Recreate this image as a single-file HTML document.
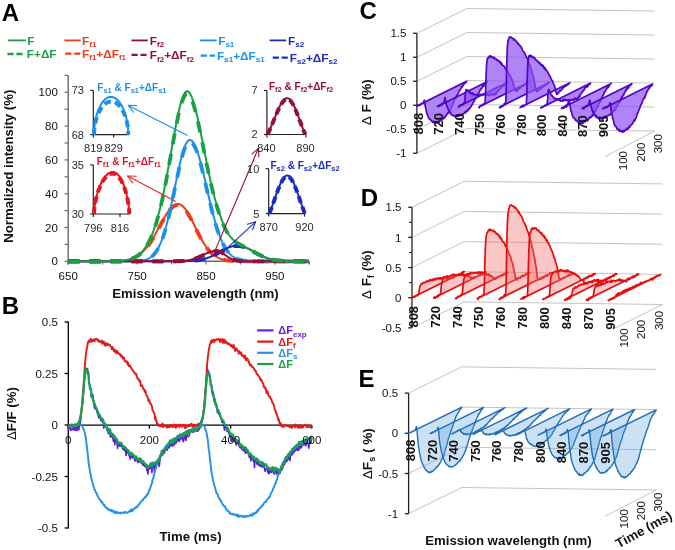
<!DOCTYPE html>
<html><head><meta charset="utf-8"><style>
html,body{margin:0;padding:0;background:#fff;}
svg{display:block;will-change:transform;font-family:"Liberation Sans", sans-serif;}
</style></head><body>
<svg width="675" height="550" viewBox="0 0 675 550">
<rect width="675" height="550" fill="#fff"/>
<text transform="translate(1.7,20.7)" font-size="24" font-weight="bold">A</text>
<line x1="8" y1="40.4" x2="26" y2="40.4" stroke="#17a046" stroke-width="1.8" />
<text x="27.2" y="44.7" font-size="11.8" font-weight="bold" fill="#17a046" text-anchor="start" >F</text>
<line x1="7.4" y1="54" x2="24" y2="54" stroke="#17a046" stroke-width="2.3" stroke-dasharray="6.2 2.8"/>
<text x="26.8" y="58.3" font-size="11.8" font-weight="bold" fill="#17a046" text-anchor="start" >F+ΔF</text>
<line x1="64.4" y1="40.4" x2="80.7" y2="40.4" stroke="#f03a18" stroke-width="1.8" />
<text x="82" y="44.7" font-size="11.8" font-weight="bold" fill="#f03a18" text-anchor="start" >F<tspan font-size="8" dy="2.5">f1</tspan></text>
<line x1="65.2" y1="53.6" x2="80.2" y2="53.6" stroke="#f03a18" stroke-width="2.3" stroke-dasharray="6.2 2.8"/>
<text x="82" y="57.9" font-size="11.8" font-weight="bold" fill="#f03a18" text-anchor="start" >F<tspan font-size="8" dy="2.5">f1</tspan><tspan dy="-2.5">+ΔF</tspan><tspan font-size="8" dy="2.5">f1</tspan></text>
<line x1="131.5" y1="40.4" x2="147.8" y2="40.4" stroke="#940e3a" stroke-width="1.8" />
<text x="149.8" y="44.7" font-size="11.8" font-weight="bold" fill="#940e3a" text-anchor="start" >F<tspan font-size="8" dy="2.5">f2</tspan></text>
<line x1="131.5" y1="54.9" x2="146.5" y2="54.9" stroke="#940e3a" stroke-width="2.3" stroke-dasharray="6.2 2.8"/>
<text x="149.8" y="59.2" font-size="11.8" font-weight="bold" fill="#940e3a" text-anchor="start" >F<tspan font-size="8" dy="2.5">f2</tspan><tspan dy="-2.5">+ΔF</tspan><tspan font-size="8" dy="2.5">f2</tspan></text>
<line x1="200" y1="40.4" x2="216.7" y2="40.4" stroke="#1a90ee" stroke-width="1.8" />
<text x="218.2" y="44.7" font-size="11.8" font-weight="bold" fill="#1a90ee" text-anchor="start" >F<tspan font-size="8" dy="2.5">s1</tspan></text>
<line x1="200.7" y1="55.6" x2="215" y2="55.6" stroke="#1a90ee" stroke-width="2.3" stroke-dasharray="6.2 2.8"/>
<text x="217" y="59.9" font-size="11.8" font-weight="bold" fill="#1a90ee" text-anchor="start" >F<tspan font-size="8" dy="2.5">s1</tspan><tspan dy="-2.5">+ΔF</tspan><tspan font-size="8" dy="2.5">s1</tspan></text>
<line x1="269.6" y1="40.4" x2="286" y2="40.4" stroke="#1c2cc0" stroke-width="1.8" />
<text x="288" y="44.7" font-size="11.8" font-weight="bold" fill="#1c2cc0" text-anchor="start" >F<tspan font-size="8" dy="2.5">s2</tspan></text>
<line x1="272.7" y1="57.6" x2="287.8" y2="57.6" stroke="#1c2cc0" stroke-width="2.3" stroke-dasharray="6.2 2.8"/>
<text x="289.8" y="61.9" font-size="11.8" font-weight="bold" fill="#1c2cc0" text-anchor="start" >F<tspan font-size="8" dy="2.5">s2</tspan><tspan dy="-2.5">+ΔF</tspan><tspan font-size="8" dy="2.5">s2</tspan></text>
<line x1="68.2" y1="75.5" x2="68.2" y2="264.5" stroke="#6a6a6a" stroke-width="1.4" />
<line x1="68.2" y1="261.3" x2="309.3" y2="261.3" stroke="#6a6a6a" stroke-width="1.4" />
<line x1="64.6" y1="261.3" x2="68.2" y2="261.3" stroke="#6a6a6a" stroke-width="1.2" />
<line x1="64.6" y1="244.4" x2="68.2" y2="244.4" stroke="#6a6a6a" stroke-width="1.2" />
<line x1="64.6" y1="227.5" x2="68.2" y2="227.5" stroke="#6a6a6a" stroke-width="1.2" />
<line x1="64.6" y1="210.6" x2="68.2" y2="210.6" stroke="#6a6a6a" stroke-width="1.2" />
<line x1="64.6" y1="193.7" x2="68.2" y2="193.7" stroke="#6a6a6a" stroke-width="1.2" />
<line x1="64.6" y1="176.8" x2="68.2" y2="176.8" stroke="#6a6a6a" stroke-width="1.2" />
<line x1="64.6" y1="159.9" x2="68.2" y2="159.9" stroke="#6a6a6a" stroke-width="1.2" />
<line x1="64.6" y1="143" x2="68.2" y2="143" stroke="#6a6a6a" stroke-width="1.2" />
<line x1="64.6" y1="126.1" x2="68.2" y2="126.1" stroke="#6a6a6a" stroke-width="1.2" />
<line x1="64.6" y1="109.2" x2="68.2" y2="109.2" stroke="#6a6a6a" stroke-width="1.2" />
<line x1="64.6" y1="92.3" x2="68.2" y2="92.3" stroke="#6a6a6a" stroke-width="1.2" />
<line x1="64.6" y1="75.4" x2="68.2" y2="75.4" stroke="#6a6a6a" stroke-width="1.2" />
<line x1="68.2" y1="261.3" x2="68.2" y2="264.5" stroke="#6a6a6a" stroke-width="1.2" />
<line x1="102.65" y1="261.3" x2="102.65" y2="264.5" stroke="#6a6a6a" stroke-width="1.2" />
<line x1="137.1" y1="261.3" x2="137.1" y2="264.5" stroke="#6a6a6a" stroke-width="1.2" />
<line x1="171.55" y1="261.3" x2="171.55" y2="264.5" stroke="#6a6a6a" stroke-width="1.2" />
<line x1="206" y1="261.3" x2="206" y2="264.5" stroke="#6a6a6a" stroke-width="1.2" />
<line x1="240.45" y1="261.3" x2="240.45" y2="264.5" stroke="#6a6a6a" stroke-width="1.2" />
<line x1="274.9" y1="261.3" x2="274.9" y2="264.5" stroke="#6a6a6a" stroke-width="1.2" />
<line x1="309.35" y1="261.3" x2="309.35" y2="264.5" stroke="#6a6a6a" stroke-width="1.2" />
<text x="57.8" y="265.4" font-size="11.5" font-weight="normal" fill="#111" text-anchor="end" >0</text>
<text x="57.8" y="231.6" font-size="11.5" font-weight="normal" fill="#111" text-anchor="end" >20</text>
<text x="57.8" y="197.8" font-size="11.5" font-weight="normal" fill="#111" text-anchor="end" >40</text>
<text x="57.8" y="164" font-size="11.5" font-weight="normal" fill="#111" text-anchor="end" >60</text>
<text x="57.8" y="130.2" font-size="11.5" font-weight="normal" fill="#111" text-anchor="end" >80</text>
<text x="57.8" y="96.4" font-size="11.5" font-weight="normal" fill="#111" text-anchor="end" >100</text>
<text x="68.2" y="279.6" font-size="11.5" font-weight="normal" fill="#111" text-anchor="middle" >650</text>
<text x="137.1" y="279.6" font-size="11.5" font-weight="normal" fill="#111" text-anchor="middle" >750</text>
<text x="206" y="279.6" font-size="11.5" font-weight="normal" fill="#111" text-anchor="middle" >850</text>
<text x="274.9" y="279.6" font-size="11.5" font-weight="normal" fill="#111" text-anchor="middle" >950</text>
<text x="195.5" y="297.5" font-size="13.2" font-weight="bold" fill="#111" text-anchor="middle" >Emission wavelength (nm)</text>
<text transform="translate(13.4,166.2) rotate(-90)" font-size="13.2" font-weight="bold" fill="#111" text-anchor="middle">Normalized intensity (%)</text>
<path d="M68.5 261.3 L69 261.3 L69.5 261.3 L70 261.3 L70.5 261.3 L71 261.3 L71.5 261.3 L72 261.3 L72.5 261.3 L73 261.3 L73.5 261.3 L74 261.3 L74.5 261.3 L75 261.3 L75.5 261.3 L76 261.3 L76.5 261.3 L77 261.3 L77.5 261.3 L78 261.3 L78.5 261.3 L79 261.3 L79.5 261.3 L80 261.3 L80.5 261.3 L81 261.3 L81.5 261.3 L82 261.3 L82.5 261.3 L83 261.3 L83.5 261.3 L84 261.3 L84.5 261.3 L85 261.3 L85.5 261.3 L86 261.3 L86.5 261.3 L87 261.3 L87.5 261.3 L88 261.3 L88.5 261.3 L89 261.3 L89.5 261.3 L90 261.3 L90.5 261.3 L91 261.3 L91.5 261.3 L92 261.3 L92.5 261.3 L93 261.3 L93.5 261.3 L94 261.3 L94.5 261.3 L95 261.3 L95.5 261.3 L96 261.3 L96.5 261.3 L97 261.3 L97.5 261.3 L98 261.29 L98.5 261.29 L99 261.29 L99.5 261.29 L100 261.29 L100.5 261.29 L101 261.29 L101.5 261.29 L102 261.29 L102.5 261.28 L103 261.28 L103.5 261.28 L104 261.28 L104.5 261.28 L105 261.27 L105.5 261.27 L106 261.27 L106.5 261.26 L107 261.26 L107.5 261.26 L108 261.25 L108.5 261.25 L109 261.24 L109.5 261.23 L110 261.23 L110.5 261.22 L111 261.21 L111.5 261.2 L112 261.19 L112.5 261.18 L113 261.17 L113.5 261.16 L114 261.15 L114.5 261.13 L115 261.12 L115.5 261.1 L116 261.08 L116.5 261.06 L117 261.04 L117.5 261.01 L118 260.98 L118.5 260.96 L119 260.93 L119.5 260.89 L120 260.86 L120.5 260.82 L121 260.78 L121.5 260.73 L122 260.68 L122.5 260.63 L123 260.58 L123.5 260.52 L124 260.45 L124.5 260.38 L125 260.31 L125.5 260.23 L126 260.15 L126.5 260.06 L127 259.96 L127.5 259.86 L128 259.76 L128.5 259.64 L129 259.52 L129.5 259.39 L130 259.25 L130.5 259.1 L131 258.95 L131.5 258.78 L132 258.61 L132.5 258.42 L133 258.23 L133.5 258.03 L134 257.81 L134.5 257.58 L135 257.34 L135.5 257.09 L136 256.82 L136.5 256.55 L137 256.25 L137.5 255.95 L138 255.63 L138.5 255.29 L139 254.94 L139.5 254.57 L140 254.19 L140.5 253.79 L141 253.38 L141.5 252.95 L142 252.5 L142.5 252.03 L143 251.55 L143.5 251.04 L144 250.52 L144.5 249.98 L145 249.43 L145.5 248.85 L146 248.26 L146.5 247.65 L147 247.01 L147.5 246.37 L148 245.7 L148.5 245.01 L149 244.31 L149.5 243.59 L150 242.85 L150.5 242.1 L151 241.32 L151.5 240.54 L152 239.73 L152.5 238.92 L153 238.08 L153.5 237.24 L154 236.38 L154.5 235.51 L155 234.63 L155.5 233.74 L156 232.84 L156.5 231.93 L157 231.01 L157.5 230.09 L158 229.16 L158.5 228.23 L159 227.3 L159.5 226.36 L160 225.43 L160.5 224.5 L161 223.57 L161.5 222.65 L162 221.73 L162.5 220.82 L163 219.91 L163.5 219.02 L164 218.14 L164.5 217.28 L165 216.42 L165.5 215.59 L166 214.77 L166.5 213.98 L167 213.2 L167.5 212.45 L168 211.72 L168.5 211.01 L169 210.34 L169.5 209.69 L170 209.07 L170.5 208.48 L171 207.93 L171.5 207.4 L172 206.91 L172.5 206.46 L173 206.04 L173.5 205.66 L174 205.32 L174.5 205.01 L175 204.75 L175.5 204.52 L176 204.34 L176.5 204.19 L177 204.09 L177.5 204.03 L178 204.01 L178.5 204.03 L179 204.11 L179.5 204.23 L180 204.4 L180.5 204.63 L181 204.89 L181.5 205.21 L182 205.57 L182.5 205.98 L183 206.43 L183.5 206.93 L184 207.47 L184.5 208.05 L185 208.67 L185.5 209.32 L186 210.01 L186.5 210.74 L187 211.5 L187.5 212.29 L188 213.11 L188.5 213.96 L189 214.83 L189.5 215.73 L190 216.64 L190.5 217.58 L191 218.53 L191.5 219.5 L192 220.49 L192.5 221.48 L193 222.48 L193.5 223.49 L194 224.51 L194.5 225.53 L195 226.55 L195.5 227.57 L196 228.59 L196.5 229.61 L197 230.62 L197.5 231.63 L198 232.62 L198.5 233.61 L199 234.59 L199.5 235.55 L200 236.5 L200.5 237.44 L201 238.36 L201.5 239.26 L202 240.15 L202.5 241.02 L203 241.87 L203.5 242.7 L204 243.51 L204.5 244.3 L205 245.07 L205.5 245.82 L206 246.54 L206.5 247.25 L207 247.93 L207.5 248.59 L208 249.23 L208.5 249.84 L209 250.44 L209.5 251.01 L210 251.56 L210.5 252.09 L211 252.59 L211.5 253.08 L212 253.55 L212.5 253.99 L213 254.42 L213.5 254.83 L214 255.21 L214.5 255.58 L215 255.94 L215.5 256.27 L216 256.59 L216.5 256.89 L217 257.18 L217.5 257.45 L218 257.7 L218.5 257.95 L219 258.17 L219.5 258.39 L220 258.59 L220.5 258.78 L221 258.96 L221.5 259.13 L222 259.29 L222.5 259.44 L223 259.58 L223.5 259.71 L224 259.83 L224.5 259.94 L225 260.05 L225.5 260.14 L226 260.24 L226.5 260.32 L227 260.4 L227.5 260.47 L228 260.54 L228.5 260.61 L229 260.66 L229.5 260.72 L230 260.77 L230.5 260.81 L231 260.86 L231.5 260.89 L232 260.93 L232.5 260.96 L233 260.99 L233.5 261.02 L234 261.05 L234.5 261.07 L235 261.09 L235.5 261.11 L236 261.13 L236.5 261.15 L237 261.16 L237.5 261.17 L238 261.19 L238.5 261.2 L239 261.21 L239.5 261.22 L240 261.23 L240.5 261.23 L241 261.24 L241.5 261.25 L242 261.25 L242.5 261.26 L243 261.26 L243.5 261.27 L244 261.27 L244.5 261.27 L245 261.28 L245.5 261.28 L246 261.28 L246.5 261.28 L247 261.28 L247.5 261.29 L248 261.29 L248.5 261.29 L249 261.29 L249.5 261.29 L250 261.29 L250.5 261.29 L251 261.29 L251.5 261.29 L252 261.3 L252.5 261.3 L253 261.3 L253.5 261.3 L254 261.3 L254.5 261.3 L255 261.3 L255.5 261.3 L256 261.3 L256.5 261.3 L257 261.3 L257.5 261.3 L258 261.3 L258.5 261.3 L259 261.3 L259.5 261.3 L260 261.3 L260.5 261.3 L261 261.3 L261.5 261.3 L262 261.3 L262.5 261.3 L263 261.3 L263.5 261.3 L264 261.3 L264.5 261.3 L265 261.3 L265.5 261.3 L266 261.3 L266.5 261.3 L267 261.3 L267.5 261.3 L268 261.3 L268.5 261.3 L269 261.3 L269.5 261.3 L270 261.3 L270.5 261.3 L271 261.3 L271.5 261.3 L272 261.3 L272.5 261.3 L273 261.3 L273.5 261.3 L274 261.3 L274.5 261.3 L275 261.3 L275.5 261.3 L276 261.3 L276.5 261.3 L277 261.3 L277.5 261.3 L278 261.3 L278.5 261.3 L279 261.3 L279.5 261.3 L280 261.3 L280.5 261.3 L281 261.3 L281.5 261.3 L282 261.3 L282.5 261.3 L283 261.3 L283.5 261.3 L284 261.3 L284.5 261.3 L285 261.3 L285.5 261.3 L286 261.3 L286.5 261.3 L287 261.3 L287.5 261.3 L288 261.3 L288.5 261.3 L289 261.3 L289.5 261.3 L290 261.3 L290.5 261.3 L291 261.3 L291.5 261.3 L292 261.3 L292.5 261.3 L293 261.3 L293.5 261.3 L294 261.3 L294.5 261.3 L295 261.3 L295.5 261.3 L296 261.3 L296.5 261.3 L297 261.3 L297.5 261.3 L298 261.3 L298.5 261.3 L299 261.3 L299.5 261.3 L300 261.3 L300.5 261.3 L301 261.3 L301.5 261.3 L302 261.3 L302.5 261.3 L303 261.3 L303.5 261.3 L304 261.3 L304.5 261.3 L305 261.3 L305.5 261.3 L306 261.3 L306.5 261.3 L307 261.3 L307.5 261.3 L308 261.3 L308.5 261.3 L309 261.3" stroke="#f03a18" stroke-width="2.0" fill="none" stroke-linejoin="round"/>
<path d="M68.5 261.3 L69 261.3 L69.5 261.3 L70 261.3 L70.5 261.3 L71 261.3 L71.5 261.3 L72 261.3 L72.5 261.3 L73 261.3 L73.5 261.3 L74 261.3 L74.5 261.3 L75 261.3 L75.5 261.3 L76 261.3 L76.5 261.3 L77 261.3 L77.5 261.3 L78 261.3 L78.5 261.3 L79 261.3 L79.5 261.3 L80 261.3 L80.5 261.3 L81 261.3 L81.5 261.3 L82 261.3 L82.5 261.3 L83 261.3 L83.5 261.3 L84 261.3 L84.5 261.3 L85 261.3 L85.5 261.3 L86 261.3 L86.5 261.3 L87 261.3 L87.5 261.3 L88 261.3 L88.5 261.3 L89 261.3 L89.5 261.3 L90 261.3 L90.5 261.3 L91 261.3 L91.5 261.3 L92 261.3 L92.5 261.3 L93 261.3 L93.5 261.3 L94 261.3 L94.5 261.3 L95 261.3 L95.5 261.3 L96 261.3 L96.5 261.3 L97 261.3 L97.5 261.3 L98 261.29 L98.5 261.29 L99 261.29 L99.5 261.29 L100 261.29 L100.5 261.29 L101 261.29 L101.5 261.29 L102 261.29 L102.5 261.29 L103 261.28 L103.5 261.28 L104 261.28 L104.5 261.28 L105 261.27 L105.5 261.27 L106 261.27 L106.5 261.27 L107 261.26 L107.5 261.26 L108 261.25 L108.5 261.25 L109 261.24 L109.5 261.24 L110 261.23 L110.5 261.22 L111 261.21 L111.5 261.21 L112 261.2 L112.5 261.19 L113 261.17 L113.5 261.16 L114 261.15 L114.5 261.13 L115 261.12 L115.5 261.1 L116 261.08 L116.5 261.06 L117 261.04 L117.5 261.02 L118 260.99 L118.5 260.96 L119 260.93 L119.5 260.9 L120 260.86 L120.5 260.83 L121 260.78 L121.5 260.74 L122 260.69 L122.5 260.64 L123 260.59 L123.5 260.53 L124 260.47 L124.5 260.4 L125 260.33 L125.5 260.25 L126 260.17 L126.5 260.08 L127 259.98 L127.5 259.88 L128 259.78 L128.5 259.66 L129 259.54 L129.5 259.42 L130 259.28 L130.5 259.14 L131 258.98 L131.5 258.82 L132 258.65 L132.5 258.47 L133 258.28 L133.5 258.07 L134 257.86 L134.5 257.64 L135 257.4 L135.5 257.15 L136 256.89 L136.5 256.62 L137 256.33 L137.5 256.03 L138 255.71 L138.5 255.38 L139 255.04 L139.5 254.68 L140 254.3 L140.5 253.91 L141 253.5 L141.5 253.07 L142 252.63 L142.5 252.17 L143 251.69 L143.5 251.2 L144 250.68 L144.5 250.15 L145 249.61 L145.5 249.04 L146 248.45 L146.5 247.85 L147 247.23 L147.5 246.59 L148 245.93 L148.5 245.26 L149 244.56 L149.5 243.85 L150 243.13 L150.5 242.38 L151 241.62 L151.5 240.85 L152 240.06 L152.5 239.25 L153 238.43 L153.5 237.6 L154 236.75 L154.5 235.9 L155 235.03 L155.5 234.15 L156 233.26 L156.5 232.37 L157 231.47 L157.5 230.56 L158 229.64 L158.5 228.73 L159 227.81 L159.5 226.89 L160 225.97 L160.5 225.05 L161 224.14 L161.5 223.22 L162 222.32 L162.5 221.42 L163 220.53 L163.5 219.66 L164 218.79 L164.5 217.94 L165 217.1 L165.5 216.28 L166 215.47 L166.5 214.69 L167 213.92 L167.5 213.18 L168 212.46 L168.5 211.77 L169 211.1 L169.5 210.46 L170 209.85 L170.5 209.27 L171 208.73 L171.5 208.21 L172 207.73 L172.5 207.28 L173 206.87 L173.5 206.5 L174 206.16 L174.5 205.86 L175 205.6 L175.5 205.38 L176 205.19 L176.5 205.05 L177 204.95 L177.5 204.89 L178 204.87 L178.5 204.89 L179 204.97 L179.5 205.09 L180 205.26 L180.5 205.48 L181 205.74 L181.5 206.05 L182 206.41 L182.5 206.81 L183 207.26 L183.5 207.75 L184 208.28 L184.5 208.85 L185 209.46 L185.5 210.1 L186 210.78 L186.5 211.5 L187 212.25 L187.5 213.03 L188 213.83 L188.5 214.67 L189 215.53 L189.5 216.41 L190 217.31 L190.5 218.24 L191 219.17 L191.5 220.13 L192 221.1 L192.5 222.08 L193 223.06 L193.5 224.06 L194 225.06 L194.5 226.07 L195 227.07 L195.5 228.08 L196 229.08 L196.5 230.08 L197 231.08 L197.5 232.07 L198 233.05 L198.5 234.03 L199 234.99 L199.5 235.94 L200 236.87 L200.5 237.8 L201 238.7 L201.5 239.59 L202 240.47 L202.5 241.32 L203 242.16 L203.5 242.98 L204 243.78 L204.5 244.56 L205 245.31 L205.5 246.05 L206 246.76 L206.5 247.46 L207 248.13 L207.5 248.78 L208 249.41 L208.5 250.01 L209 250.6 L209.5 251.16 L210 251.7 L210.5 252.22 L211 252.72 L211.5 253.2 L212 253.66 L212.5 254.1 L213 254.52 L213.5 254.92 L214 255.31 L214.5 255.67 L215 256.02 L215.5 256.35 L216 256.66 L216.5 256.96 L217 257.24 L217.5 257.51 L218 257.76 L218.5 258 L219 258.22 L219.5 258.43 L220 258.63 L220.5 258.82 L221 259 L221.5 259.16 L222 259.32 L222.5 259.47 L223 259.6 L223.5 259.73 L224 259.85 L224.5 259.96 L225 260.06 L225.5 260.16 L226 260.25 L226.5 260.34 L227 260.41 L227.5 260.49 L228 260.55 L228.5 260.62 L229 260.67 L229.5 260.73 L230 260.78 L230.5 260.82 L231 260.86 L231.5 260.9 L232 260.94 L232.5 260.97 L233 261 L233.5 261.03 L234 261.05 L234.5 261.07 L235 261.1 L235.5 261.11 L236 261.13 L236.5 261.15 L237 261.16 L237.5 261.18 L238 261.19 L238.5 261.2 L239 261.21 L239.5 261.22 L240 261.23 L240.5 261.23 L241 261.24 L241.5 261.25 L242 261.25 L242.5 261.26 L243 261.26 L243.5 261.27 L244 261.27 L244.5 261.27 L245 261.28 L245.5 261.28 L246 261.28 L246.5 261.28 L247 261.29 L247.5 261.29 L248 261.29 L248.5 261.29 L249 261.29 L249.5 261.29 L250 261.29 L250.5 261.29 L251 261.29 L251.5 261.3 L252 261.3 L252.5 261.3 L253 261.3 L253.5 261.3 L254 261.3 L254.5 261.3 L255 261.3 L255.5 261.3 L256 261.3 L256.5 261.3 L257 261.3 L257.5 261.3 L258 261.3 L258.5 261.3 L259 261.3 L259.5 261.3 L260 261.3 L260.5 261.3 L261 261.3 L261.5 261.3 L262 261.3 L262.5 261.3 L263 261.3 L263.5 261.3 L264 261.3 L264.5 261.3 L265 261.3 L265.5 261.3 L266 261.3 L266.5 261.3 L267 261.3 L267.5 261.3 L268 261.3 L268.5 261.3 L269 261.3 L269.5 261.3 L270 261.3 L270.5 261.3 L271 261.3 L271.5 261.3 L272 261.3 L272.5 261.3 L273 261.3 L273.5 261.3 L274 261.3 L274.5 261.3 L275 261.3 L275.5 261.3 L276 261.3 L276.5 261.3 L277 261.3 L277.5 261.3 L278 261.3 L278.5 261.3 L279 261.3 L279.5 261.3 L280 261.3 L280.5 261.3 L281 261.3 L281.5 261.3 L282 261.3 L282.5 261.3 L283 261.3 L283.5 261.3 L284 261.3 L284.5 261.3 L285 261.3 L285.5 261.3 L286 261.3 L286.5 261.3 L287 261.3 L287.5 261.3 L288 261.3 L288.5 261.3 L289 261.3 L289.5 261.3 L290 261.3 L290.5 261.3 L291 261.3 L291.5 261.3 L292 261.3 L292.5 261.3 L293 261.3 L293.5 261.3 L294 261.3 L294.5 261.3 L295 261.3 L295.5 261.3 L296 261.3 L296.5 261.3 L297 261.3 L297.5 261.3 L298 261.3 L298.5 261.3 L299 261.3 L299.5 261.3 L300 261.3 L300.5 261.3 L301 261.3 L301.5 261.3 L302 261.3 L302.5 261.3 L303 261.3 L303.5 261.3 L304 261.3 L304.5 261.3 L305 261.3 L305.5 261.3 L306 261.3 L306.5 261.3 L307 261.3 L307.5 261.3 L308 261.3 L308.5 261.3 L309 261.3" stroke="#f03a18" stroke-width="3.8" fill="none" stroke-dasharray="11 10" stroke-linejoin="round"/>
<path d="M68.5 261.3 L69 261.3 L69.5 261.3 L70 261.3 L70.5 261.3 L71 261.3 L71.5 261.3 L72 261.3 L72.5 261.3 L73 261.3 L73.5 261.3 L74 261.3 L74.5 261.3 L75 261.3 L75.5 261.3 L76 261.3 L76.5 261.3 L77 261.3 L77.5 261.3 L78 261.3 L78.5 261.3 L79 261.3 L79.5 261.3 L80 261.3 L80.5 261.3 L81 261.3 L81.5 261.3 L82 261.3 L82.5 261.3 L83 261.3 L83.5 261.3 L84 261.3 L84.5 261.3 L85 261.3 L85.5 261.3 L86 261.3 L86.5 261.3 L87 261.3 L87.5 261.3 L88 261.3 L88.5 261.3 L89 261.3 L89.5 261.3 L90 261.3 L90.5 261.3 L91 261.3 L91.5 261.3 L92 261.3 L92.5 261.3 L93 261.3 L93.5 261.3 L94 261.3 L94.5 261.3 L95 261.3 L95.5 261.3 L96 261.3 L96.5 261.3 L97 261.3 L97.5 261.3 L98 261.3 L98.5 261.3 L99 261.3 L99.5 261.3 L100 261.3 L100.5 261.3 L101 261.3 L101.5 261.3 L102 261.3 L102.5 261.3 L103 261.3 L103.5 261.3 L104 261.3 L104.5 261.3 L105 261.3 L105.5 261.3 L106 261.3 L106.5 261.3 L107 261.3 L107.5 261.3 L108 261.3 L108.5 261.3 L109 261.3 L109.5 261.3 L110 261.3 L110.5 261.3 L111 261.3 L111.5 261.3 L112 261.3 L112.5 261.3 L113 261.3 L113.5 261.3 L114 261.3 L114.5 261.3 L115 261.3 L115.5 261.3 L116 261.3 L116.5 261.3 L117 261.3 L117.5 261.3 L118 261.3 L118.5 261.3 L119 261.3 L119.5 261.3 L120 261.3 L120.5 261.3 L121 261.3 L121.5 261.3 L122 261.3 L122.5 261.29 L123 261.29 L123.5 261.29 L124 261.29 L124.5 261.29 L125 261.29 L125.5 261.29 L126 261.29 L126.5 261.28 L127 261.28 L127.5 261.28 L128 261.27 L128.5 261.27 L129 261.27 L129.5 261.26 L130 261.26 L130.5 261.25 L131 261.24 L131.5 261.24 L132 261.23 L132.5 261.22 L133 261.21 L133.5 261.19 L134 261.18 L134.5 261.16 L135 261.15 L135.5 261.13 L136 261.1 L136.5 261.08 L137 261.05 L137.5 261.02 L138 260.99 L138.5 260.95 L139 260.91 L139.5 260.86 L140 260.81 L140.5 260.75 L141 260.69 L141.5 260.62 L142 260.54 L142.5 260.46 L143 260.37 L143.5 260.26 L144 260.15 L144.5 260.03 L145 259.9 L145.5 259.75 L146 259.59 L146.5 259.42 L147 259.23 L147.5 259.02 L148 258.8 L148.5 258.56 L149 258.3 L149.5 258.01 L150 257.71 L150.5 257.38 L151 257.02 L151.5 256.64 L152 256.23 L152.5 255.79 L153 255.32 L153.5 254.81 L154 254.27 L154.5 253.69 L155 253.07 L155.5 252.42 L156 251.72 L156.5 250.98 L157 250.19 L157.5 249.36 L158 248.47 L158.5 247.54 L159 246.56 L159.5 245.53 L160 244.44 L160.5 243.29 L161 242.09 L161.5 240.83 L162 239.52 L162.5 238.14 L163 236.71 L163.5 235.21 L164 233.66 L164.5 232.04 L165 230.37 L165.5 228.63 L166 226.84 L166.5 224.99 L167 223.08 L167.5 221.11 L168 219.1 L168.5 217.03 L169 214.91 L169.5 212.74 L170 210.52 L170.5 208.27 L171 205.98 L171.5 203.65 L172 201.29 L172.5 198.9 L173 196.49 L173.5 194.07 L174 191.62 L174.5 189.17 L175 186.72 L175.5 184.27 L176 181.83 L176.5 179.4 L177 176.99 L177.5 174.6 L178 172.25 L178.5 169.94 L179 167.66 L179.5 165.44 L180 163.28 L180.5 161.18 L181 159.14 L181.5 157.18 L182 155.3 L182.5 153.51 L183 151.81 L183.5 150.2 L184 148.7 L184.5 147.3 L185 146.01 L185.5 144.84 L186 143.79 L186.5 142.86 L187 142.05 L187.5 141.38 L188 140.83 L188.5 140.41 L189 140.13 L189.5 139.98 L190 139.97 L190.5 140.06 L191 140.26 L191.5 140.57 L192 140.98 L192.5 141.5 L193 142.11 L193.5 142.83 L194 143.65 L194.5 144.56 L195 145.57 L195.5 146.67 L196 147.85 L196.5 149.13 L197 150.49 L197.5 151.92 L198 153.43 L198.5 155.02 L199 156.67 L199.5 158.39 L200 160.16 L200.5 162 L201 163.88 L201.5 165.82 L202 167.79 L202.5 169.81 L203 171.86 L203.5 173.94 L204 176.05 L204.5 178.18 L205 180.32 L205.5 182.49 L206 184.66 L206.5 186.83 L207 189.01 L207.5 191.18 L208 193.35 L208.5 195.51 L209 197.66 L209.5 199.79 L210 201.9 L210.5 203.99 L211 206.05 L211.5 208.09 L212 210.1 L212.5 212.07 L213 214.01 L213.5 215.91 L214 217.77 L214.5 219.6 L215 221.38 L215.5 223.12 L216 224.81 L216.5 226.47 L217 228.07 L217.5 229.63 L218 231.14 L218.5 232.61 L219 234.03 L219.5 235.4 L220 236.72 L220.5 238 L221 239.22 L221.5 240.41 L222 241.54 L222.5 242.63 L223 243.68 L223.5 244.68 L224 245.64 L224.5 246.56 L225 247.43 L225.5 248.27 L226 249.06 L226.5 249.82 L227 250.54 L227.5 251.22 L228 251.87 L228.5 252.48 L229 253.06 L229.5 253.61 L230 254.13 L230.5 254.62 L231 255.08 L231.5 255.52 L232 255.93 L232.5 256.31 L233 256.67 L233.5 257.01 L234 257.33 L234.5 257.63 L235 257.91 L235.5 258.17 L236 258.41 L236.5 258.63 L237 258.84 L237.5 259.04 L238 259.22 L238.5 259.39 L239 259.55 L239.5 259.69 L240 259.83 L240.5 259.95 L241 260.07 L241.5 260.17 L242 260.27 L242.5 260.36 L243 260.44 L243.5 260.52 L244 260.59 L244.5 260.66 L245 260.71 L245.5 260.77 L246 260.82 L246.5 260.86 L247 260.91 L247.5 260.94 L248 260.98 L248.5 261.01 L249 261.04 L249.5 261.06 L250 261.09 L250.5 261.11 L251 261.13 L251.5 261.15 L252 261.16 L252.5 261.18 L253 261.19 L253.5 261.2 L254 261.21 L254.5 261.22 L255 261.23 L255.5 261.24 L256 261.24 L256.5 261.25 L257 261.26 L257.5 261.26 L258 261.26 L258.5 261.27 L259 261.27 L259.5 261.28 L260 261.28 L260.5 261.28 L261 261.28 L261.5 261.29 L262 261.29 L262.5 261.29 L263 261.29 L263.5 261.29 L264 261.29 L264.5 261.29 L265 261.29 L265.5 261.29 L266 261.3 L266.5 261.3 L267 261.3 L267.5 261.3 L268 261.3 L268.5 261.3 L269 261.3 L269.5 261.3 L270 261.3 L270.5 261.3 L271 261.3 L271.5 261.3 L272 261.3 L272.5 261.3 L273 261.3 L273.5 261.3 L274 261.3 L274.5 261.3 L275 261.3 L275.5 261.3 L276 261.3 L276.5 261.3 L277 261.3 L277.5 261.3 L278 261.3 L278.5 261.3 L279 261.3 L279.5 261.3 L280 261.3 L280.5 261.3 L281 261.3 L281.5 261.3 L282 261.3 L282.5 261.3 L283 261.3 L283.5 261.3 L284 261.3 L284.5 261.3 L285 261.3 L285.5 261.3 L286 261.3 L286.5 261.3 L287 261.3 L287.5 261.3 L288 261.3 L288.5 261.3 L289 261.3 L289.5 261.3 L290 261.3 L290.5 261.3 L291 261.3 L291.5 261.3 L292 261.3 L292.5 261.3 L293 261.3 L293.5 261.3 L294 261.3 L294.5 261.3 L295 261.3 L295.5 261.3 L296 261.3 L296.5 261.3 L297 261.3 L297.5 261.3 L298 261.3 L298.5 261.3 L299 261.3 L299.5 261.3 L300 261.3 L300.5 261.3 L301 261.3 L301.5 261.3 L302 261.3 L302.5 261.3 L303 261.3 L303.5 261.3 L304 261.3 L304.5 261.3 L305 261.3 L305.5 261.3 L306 261.3 L306.5 261.3 L307 261.3 L307.5 261.3 L308 261.3 L308.5 261.3 L309 261.3" stroke="#1a90ee" stroke-width="2.0" fill="none" stroke-linejoin="round"/>
<path d="M68.5 261.3 L69 261.3 L69.5 261.3 L70 261.3 L70.5 261.3 L71 261.3 L71.5 261.3 L72 261.3 L72.5 261.3 L73 261.3 L73.5 261.3 L74 261.3 L74.5 261.3 L75 261.3 L75.5 261.3 L76 261.3 L76.5 261.3 L77 261.3 L77.5 261.3 L78 261.3 L78.5 261.3 L79 261.3 L79.5 261.3 L80 261.3 L80.5 261.3 L81 261.3 L81.5 261.3 L82 261.3 L82.5 261.3 L83 261.3 L83.5 261.3 L84 261.3 L84.5 261.3 L85 261.3 L85.5 261.3 L86 261.3 L86.5 261.3 L87 261.3 L87.5 261.3 L88 261.3 L88.5 261.3 L89 261.3 L89.5 261.3 L90 261.3 L90.5 261.3 L91 261.3 L91.5 261.3 L92 261.3 L92.5 261.3 L93 261.3 L93.5 261.3 L94 261.3 L94.5 261.3 L95 261.3 L95.5 261.3 L96 261.3 L96.5 261.3 L97 261.3 L97.5 261.3 L98 261.3 L98.5 261.3 L99 261.3 L99.5 261.3 L100 261.3 L100.5 261.3 L101 261.3 L101.5 261.3 L102 261.3 L102.5 261.3 L103 261.3 L103.5 261.3 L104 261.3 L104.5 261.3 L105 261.3 L105.5 261.3 L106 261.3 L106.5 261.3 L107 261.3 L107.5 261.3 L108 261.3 L108.5 261.3 L109 261.3 L109.5 261.3 L110 261.3 L110.5 261.3 L111 261.3 L111.5 261.3 L112 261.3 L112.5 261.3 L113 261.3 L113.5 261.3 L114 261.3 L114.5 261.3 L115 261.3 L115.5 261.3 L116 261.3 L116.5 261.3 L117 261.3 L117.5 261.3 L118 261.3 L118.5 261.3 L119 261.3 L119.5 261.3 L120 261.3 L120.5 261.3 L121 261.3 L121.5 261.3 L122 261.3 L122.5 261.29 L123 261.29 L123.5 261.29 L124 261.29 L124.5 261.29 L125 261.29 L125.5 261.29 L126 261.29 L126.5 261.28 L127 261.28 L127.5 261.28 L128 261.28 L128.5 261.27 L129 261.27 L129.5 261.26 L130 261.26 L130.5 261.25 L131 261.24 L131.5 261.24 L132 261.23 L132.5 261.22 L133 261.21 L133.5 261.2 L134 261.18 L134.5 261.17 L135 261.15 L135.5 261.13 L136 261.11 L136.5 261.08 L137 261.06 L137.5 261.03 L138 260.99 L138.5 260.96 L139 260.91 L139.5 260.87 L140 260.82 L140.5 260.76 L141 260.7 L141.5 260.63 L142 260.55 L142.5 260.47 L143 260.38 L143.5 260.28 L144 260.17 L144.5 260.05 L145 259.92 L145.5 259.77 L146 259.62 L146.5 259.45 L147 259.26 L147.5 259.06 L148 258.84 L148.5 258.6 L149 258.34 L149.5 258.06 L150 257.76 L150.5 257.44 L151 257.09 L151.5 256.71 L152 256.31 L152.5 255.87 L153 255.41 L153.5 254.91 L154 254.37 L154.5 253.8 L155 253.2 L155.5 252.55 L156 251.86 L156.5 251.13 L157 250.36 L157.5 249.54 L158 248.67 L158.5 247.75 L159 246.78 L159.5 245.76 L160 244.69 L160.5 243.56 L161 242.38 L161.5 241.14 L162 239.84 L162.5 238.49 L163 237.07 L163.5 235.6 L164 234.07 L164.5 232.48 L165 230.83 L165.5 229.12 L166 227.35 L166.5 225.53 L167 223.65 L167.5 221.72 L168 219.73 L168.5 217.69 L169 215.6 L169.5 213.47 L170 211.29 L170.5 209.07 L171 206.81 L171.5 204.51 L172 202.19 L172.5 199.84 L173 197.47 L173.5 195.07 L174 192.67 L174.5 190.26 L175 187.84 L175.5 185.43 L176 183.02 L176.5 180.63 L177 178.25 L177.5 175.9 L178 173.59 L178.5 171.31 L179 169.07 L179.5 166.88 L180 164.75 L180.5 162.68 L181 160.67 L181.5 158.74 L182 156.89 L182.5 155.13 L183 153.45 L183.5 151.87 L184 150.39 L184.5 149.01 L185 147.74 L185.5 146.59 L186 145.55 L186.5 144.64 L187 143.84 L187.5 143.17 L188 142.64 L188.5 142.23 L189 141.95 L189.5 141.8 L190 141.79 L190.5 141.88 L191 142.08 L191.5 142.38 L192 142.79 L192.5 143.29 L193 143.9 L193.5 144.61 L194 145.41 L194.5 146.31 L195 147.3 L195.5 148.39 L196 149.56 L196.5 150.81 L197 152.15 L197.5 153.56 L198 155.05 L198.5 156.61 L199 158.24 L199.5 159.93 L200 161.68 L200.5 163.49 L201 165.34 L201.5 167.25 L202 169.19 L202.5 171.18 L203 173.2 L203.5 175.25 L204 177.33 L204.5 179.42 L205 181.54 L205.5 183.67 L206 185.81 L206.5 187.95 L207 190.09 L207.5 192.24 L208 194.37 L208.5 196.5 L209 198.61 L209.5 200.71 L210 202.79 L210.5 204.85 L211 206.88 L211.5 208.89 L212 210.86 L212.5 212.81 L213 214.72 L213.5 216.59 L214 218.43 L214.5 220.22 L215 221.98 L215.5 223.69 L216 225.36 L216.5 226.99 L217 228.57 L217.5 230.11 L218 231.59 L218.5 233.04 L219 234.43 L219.5 235.78 L220 237.09 L220.5 238.34 L221 239.56 L221.5 240.72 L222 241.84 L222.5 242.91 L223 243.95 L223.5 244.93 L224 245.88 L224.5 246.78 L225 247.64 L225.5 248.46 L226 249.25 L226.5 249.99 L227 250.7 L227.5 251.37 L228 252.01 L228.5 252.62 L229 253.19 L229.5 253.73 L230 254.24 L230.5 254.72 L231 255.18 L231.5 255.61 L232 256.01 L232.5 256.39 L233 256.74 L233.5 257.08 L234 257.39 L234.5 257.68 L235 257.96 L235.5 258.21 L236 258.45 L236.5 258.67 L237 258.88 L237.5 259.07 L238 259.25 L238.5 259.42 L239 259.57 L239.5 259.72 L240 259.85 L240.5 259.97 L241 260.09 L241.5 260.19 L242 260.29 L242.5 260.38 L243 260.46 L243.5 260.53 L244 260.6 L244.5 260.67 L245 260.72 L245.5 260.78 L246 260.83 L246.5 260.87 L247 260.91 L247.5 260.95 L248 260.98 L248.5 261.01 L249 261.04 L249.5 261.07 L250 261.09 L250.5 261.11 L251 261.13 L251.5 261.15 L252 261.16 L252.5 261.18 L253 261.19 L253.5 261.2 L254 261.21 L254.5 261.22 L255 261.23 L255.5 261.24 L256 261.24 L256.5 261.25 L257 261.26 L257.5 261.26 L258 261.27 L258.5 261.27 L259 261.27 L259.5 261.28 L260 261.28 L260.5 261.28 L261 261.28 L261.5 261.29 L262 261.29 L262.5 261.29 L263 261.29 L263.5 261.29 L264 261.29 L264.5 261.29 L265 261.29 L265.5 261.29 L266 261.3 L266.5 261.3 L267 261.3 L267.5 261.3 L268 261.3 L268.5 261.3 L269 261.3 L269.5 261.3 L270 261.3 L270.5 261.3 L271 261.3 L271.5 261.3 L272 261.3 L272.5 261.3 L273 261.3 L273.5 261.3 L274 261.3 L274.5 261.3 L275 261.3 L275.5 261.3 L276 261.3 L276.5 261.3 L277 261.3 L277.5 261.3 L278 261.3 L278.5 261.3 L279 261.3 L279.5 261.3 L280 261.3 L280.5 261.3 L281 261.3 L281.5 261.3 L282 261.3 L282.5 261.3 L283 261.3 L283.5 261.3 L284 261.3 L284.5 261.3 L285 261.3 L285.5 261.3 L286 261.3 L286.5 261.3 L287 261.3 L287.5 261.3 L288 261.3 L288.5 261.3 L289 261.3 L289.5 261.3 L290 261.3 L290.5 261.3 L291 261.3 L291.5 261.3 L292 261.3 L292.5 261.3 L293 261.3 L293.5 261.3 L294 261.3 L294.5 261.3 L295 261.3 L295.5 261.3 L296 261.3 L296.5 261.3 L297 261.3 L297.5 261.3 L298 261.3 L298.5 261.3 L299 261.3 L299.5 261.3 L300 261.3 L300.5 261.3 L301 261.3 L301.5 261.3 L302 261.3 L302.5 261.3 L303 261.3 L303.5 261.3 L304 261.3 L304.5 261.3 L305 261.3 L305.5 261.3 L306 261.3 L306.5 261.3 L307 261.3 L307.5 261.3 L308 261.3 L308.5 261.3 L309 261.3" stroke="#1a90ee" stroke-width="3.8" fill="none" stroke-dasharray="11 10" stroke-linejoin="round"/>
<path d="M68.5 261.3 L69 261.3 L69.5 261.3 L70 261.3 L70.5 261.3 L71 261.3 L71.5 261.3 L72 261.3 L72.5 261.3 L73 261.3 L73.5 261.3 L74 261.3 L74.5 261.3 L75 261.3 L75.5 261.3 L76 261.3 L76.5 261.3 L77 261.3 L77.5 261.3 L78 261.3 L78.5 261.3 L79 261.3 L79.5 261.3 L80 261.3 L80.5 261.3 L81 261.3 L81.5 261.3 L82 261.3 L82.5 261.3 L83 261.3 L83.5 261.3 L84 261.3 L84.5 261.3 L85 261.3 L85.5 261.3 L86 261.3 L86.5 261.3 L87 261.3 L87.5 261.3 L88 261.3 L88.5 261.3 L89 261.3 L89.5 261.3 L90 261.3 L90.5 261.3 L91 261.3 L91.5 261.3 L92 261.3 L92.5 261.3 L93 261.3 L93.5 261.3 L94 261.3 L94.5 261.3 L95 261.3 L95.5 261.3 L96 261.3 L96.5 261.3 L97 261.3 L97.5 261.3 L98 261.3 L98.5 261.3 L99 261.3 L99.5 261.3 L100 261.3 L100.5 261.3 L101 261.3 L101.5 261.3 L102 261.3 L102.5 261.3 L103 261.3 L103.5 261.3 L104 261.3 L104.5 261.3 L105 261.3 L105.5 261.3 L106 261.3 L106.5 261.3 L107 261.3 L107.5 261.3 L108 261.3 L108.5 261.3 L109 261.3 L109.5 261.3 L110 261.3 L110.5 261.3 L111 261.3 L111.5 261.3 L112 261.3 L112.5 261.3 L113 261.3 L113.5 261.3 L114 261.3 L114.5 261.3 L115 261.3 L115.5 261.3 L116 261.3 L116.5 261.3 L117 261.3 L117.5 261.3 L118 261.3 L118.5 261.3 L119 261.3 L119.5 261.3 L120 261.3 L120.5 261.3 L121 261.3 L121.5 261.3 L122 261.3 L122.5 261.3 L123 261.3 L123.5 261.3 L124 261.3 L124.5 261.3 L125 261.3 L125.5 261.3 L126 261.3 L126.5 261.3 L127 261.3 L127.5 261.3 L128 261.3 L128.5 261.3 L129 261.3 L129.5 261.3 L130 261.3 L130.5 261.3 L131 261.3 L131.5 261.3 L132 261.3 L132.5 261.3 L133 261.3 L133.5 261.3 L134 261.3 L134.5 261.3 L135 261.3 L135.5 261.3 L136 261.3 L136.5 261.3 L137 261.3 L137.5 261.3 L138 261.3 L138.5 261.3 L139 261.3 L139.5 261.3 L140 261.3 L140.5 261.3 L141 261.3 L141.5 261.3 L142 261.3 L142.5 261.3 L143 261.3 L143.5 261.3 L144 261.3 L144.5 261.3 L145 261.3 L145.5 261.3 L146 261.3 L146.5 261.3 L147 261.3 L147.5 261.3 L148 261.3 L148.5 261.3 L149 261.3 L149.5 261.3 L150 261.3 L150.5 261.3 L151 261.3 L151.5 261.3 L152 261.3 L152.5 261.3 L153 261.3 L153.5 261.3 L154 261.3 L154.5 261.3 L155 261.3 L155.5 261.3 L156 261.3 L156.5 261.3 L157 261.3 L157.5 261.3 L158 261.3 L158.5 261.3 L159 261.3 L159.5 261.3 L160 261.3 L160.5 261.3 L161 261.3 L161.5 261.3 L162 261.3 L162.5 261.3 L163 261.3 L163.5 261.3 L164 261.3 L164.5 261.3 L165 261.3 L165.5 261.3 L166 261.3 L166.5 261.3 L167 261.3 L167.5 261.3 L168 261.3 L168.5 261.3 L169 261.3 L169.5 261.3 L170 261.29 L170.5 261.29 L171 261.29 L171.5 261.29 L172 261.29 L172.5 261.29 L173 261.29 L173.5 261.29 L174 261.29 L174.5 261.28 L175 261.28 L175.5 261.28 L176 261.28 L176.5 261.28 L177 261.27 L177.5 261.27 L178 261.27 L178.5 261.26 L179 261.26 L179.5 261.26 L180 261.25 L180.5 261.25 L181 261.24 L181.5 261.23 L182 261.23 L182.5 261.22 L183 261.21 L183.5 261.2 L184 261.19 L184.5 261.18 L185 261.17 L185.5 261.16 L186 261.14 L186.5 261.13 L187 261.11 L187.5 261.1 L188 261.08 L188.5 261.06 L189 261.04 L189.5 261.01 L190 260.99 L190.5 260.96 L191 260.93 L191.5 260.9 L192 260.87 L192.5 260.83 L193 260.8 L193.5 260.76 L194 260.71 L194.5 260.67 L195 260.62 L195.5 260.56 L196 260.51 L196.5 260.45 L197 260.39 L197.5 260.32 L198 260.25 L198.5 260.17 L199 260.1 L199.5 260.01 L200 259.92 L200.5 259.83 L201 259.73 L201.5 259.63 L202 259.53 L202.5 259.41 L203 259.29 L203.5 259.17 L204 259.04 L204.5 258.91 L205 258.77 L205.5 258.62 L206 258.47 L206.5 258.31 L207 258.14 L207.5 257.97 L208 257.8 L208.5 257.61 L209 257.42 L209.5 257.23 L210 257.03 L210.5 256.82 L211 256.61 L211.5 256.39 L212 256.16 L212.5 255.93 L213 255.7 L213.5 255.45 L214 255.21 L214.5 254.96 L215 254.7 L215.5 254.44 L216 254.18 L216.5 253.92 L217 253.65 L217.5 253.37 L218 253.1 L218.5 252.82 L219 252.54 L219.5 252.26 L220 251.98 L220.5 251.7 L221 251.42 L221.5 251.14 L222 250.86 L222.5 250.59 L223 250.31 L223.5 250.04 L224 249.77 L224.5 249.51 L225 249.25 L225.5 249 L226 248.75 L226.5 248.51 L227 248.28 L227.5 248.05 L228 247.83 L228.5 247.62 L229 247.42 L229.5 247.23 L230 247.04 L230.5 246.87 L231 246.71 L231.5 246.56 L232 246.43 L232.5 246.3 L233 246.19 L233.5 246.09 L234 246 L234.5 245.92 L235 245.86 L235.5 245.81 L236 245.78 L236.5 245.76 L237 245.75 L237.5 245.76 L238 245.78 L238.5 245.81 L239 245.86 L239.5 245.92 L240 245.99 L240.5 246.08 L241 246.18 L241.5 246.29 L242 246.41 L242.5 246.54 L243 246.69 L243.5 246.85 L244 247.02 L244.5 247.19 L245 247.38 L245.5 247.58 L246 247.79 L246.5 248 L247 248.22 L247.5 248.45 L248 248.69 L248.5 248.93 L249 249.18 L249.5 249.43 L250 249.69 L250.5 249.96 L251 250.22 L251.5 250.49 L252 250.77 L252.5 251.04 L253 251.32 L253.5 251.59 L254 251.87 L254.5 252.15 L255 252.42 L255.5 252.7 L256 252.97 L256.5 253.25 L257 253.52 L257.5 253.79 L258 254.05 L258.5 254.31 L259 254.57 L259.5 254.82 L260 255.07 L260.5 255.32 L261 255.56 L261.5 255.8 L262 256.03 L262.5 256.25 L263 256.47 L263.5 256.69 L264 256.9 L264.5 257.1 L265 257.3 L265.5 257.49 L266 257.67 L266.5 257.85 L267 258.02 L267.5 258.19 L268 258.35 L268.5 258.51 L269 258.66 L269.5 258.8 L270 258.94 L270.5 259.07 L271 259.2 L271.5 259.32 L272 259.43 L272.5 259.54 L273 259.65 L273.5 259.75 L274 259.84 L274.5 259.94 L275 260.02 L275.5 260.1 L276 260.18 L276.5 260.25 L277 260.32 L277.5 260.39 L278 260.45 L278.5 260.51 L279 260.57 L279.5 260.62 L280 260.67 L280.5 260.71 L281 260.75 L281.5 260.79 L282 260.83 L282.5 260.87 L283 260.9 L283.5 260.93 L284 260.96 L284.5 260.99 L285 261.01 L285.5 261.03 L286 261.06 L286.5 261.08 L287 261.09 L287.5 261.11 L288 261.13 L288.5 261.14 L289 261.16 L289.5 261.17 L290 261.18 L290.5 261.19 L291 261.2 L291.5 261.21 L292 261.22 L292.5 261.22 L293 261.23 L293.5 261.24 L294 261.24 L294.5 261.25 L295 261.25 L295.5 261.26 L296 261.26 L296.5 261.27 L297 261.27 L297.5 261.27 L298 261.28 L298.5 261.28 L299 261.28 L299.5 261.28 L300 261.28 L300.5 261.29 L301 261.29 L301.5 261.29 L302 261.29 L302.5 261.29 L303 261.29 L303.5 261.29 L304 261.29 L304.5 261.29 L305 261.29 L305.5 261.3 L306 261.3 L306.5 261.3 L307 261.3 L307.5 261.3 L308 261.3 L308.5 261.3 L309 261.3" stroke="#1c2cc0" stroke-width="2.0" fill="none" stroke-linejoin="round"/>
<path d="M68.5 261.3 L69 261.3 L69.5 261.3 L70 261.3 L70.5 261.3 L71 261.3 L71.5 261.3 L72 261.3 L72.5 261.3 L73 261.3 L73.5 261.3 L74 261.3 L74.5 261.3 L75 261.3 L75.5 261.3 L76 261.3 L76.5 261.3 L77 261.3 L77.5 261.3 L78 261.3 L78.5 261.3 L79 261.3 L79.5 261.3 L80 261.3 L80.5 261.3 L81 261.3 L81.5 261.3 L82 261.3 L82.5 261.3 L83 261.3 L83.5 261.3 L84 261.3 L84.5 261.3 L85 261.3 L85.5 261.3 L86 261.3 L86.5 261.3 L87 261.3 L87.5 261.3 L88 261.3 L88.5 261.3 L89 261.3 L89.5 261.3 L90 261.3 L90.5 261.3 L91 261.3 L91.5 261.3 L92 261.3 L92.5 261.3 L93 261.3 L93.5 261.3 L94 261.3 L94.5 261.3 L95 261.3 L95.5 261.3 L96 261.3 L96.5 261.3 L97 261.3 L97.5 261.3 L98 261.3 L98.5 261.3 L99 261.3 L99.5 261.3 L100 261.3 L100.5 261.3 L101 261.3 L101.5 261.3 L102 261.3 L102.5 261.3 L103 261.3 L103.5 261.3 L104 261.3 L104.5 261.3 L105 261.3 L105.5 261.3 L106 261.3 L106.5 261.3 L107 261.3 L107.5 261.3 L108 261.3 L108.5 261.3 L109 261.3 L109.5 261.3 L110 261.3 L110.5 261.3 L111 261.3 L111.5 261.3 L112 261.3 L112.5 261.3 L113 261.3 L113.5 261.3 L114 261.3 L114.5 261.3 L115 261.3 L115.5 261.3 L116 261.3 L116.5 261.3 L117 261.3 L117.5 261.3 L118 261.3 L118.5 261.3 L119 261.3 L119.5 261.3 L120 261.3 L120.5 261.3 L121 261.3 L121.5 261.3 L122 261.3 L122.5 261.3 L123 261.3 L123.5 261.3 L124 261.3 L124.5 261.3 L125 261.3 L125.5 261.3 L126 261.3 L126.5 261.3 L127 261.3 L127.5 261.3 L128 261.3 L128.5 261.3 L129 261.3 L129.5 261.3 L130 261.3 L130.5 261.3 L131 261.3 L131.5 261.3 L132 261.3 L132.5 261.3 L133 261.3 L133.5 261.3 L134 261.3 L134.5 261.3 L135 261.3 L135.5 261.3 L136 261.3 L136.5 261.3 L137 261.3 L137.5 261.3 L138 261.3 L138.5 261.3 L139 261.3 L139.5 261.3 L140 261.3 L140.5 261.3 L141 261.3 L141.5 261.3 L142 261.3 L142.5 261.3 L143 261.3 L143.5 261.3 L144 261.3 L144.5 261.3 L145 261.3 L145.5 261.3 L146 261.3 L146.5 261.3 L147 261.3 L147.5 261.3 L148 261.3 L148.5 261.3 L149 261.3 L149.5 261.3 L150 261.3 L150.5 261.3 L151 261.3 L151.5 261.3 L152 261.3 L152.5 261.3 L153 261.3 L153.5 261.3 L154 261.3 L154.5 261.3 L155 261.3 L155.5 261.3 L156 261.3 L156.5 261.3 L157 261.3 L157.5 261.3 L158 261.3 L158.5 261.3 L159 261.3 L159.5 261.3 L160 261.3 L160.5 261.3 L161 261.3 L161.5 261.3 L162 261.3 L162.5 261.3 L163 261.3 L163.5 261.3 L164 261.3 L164.5 261.3 L165 261.3 L165.5 261.3 L166 261.3 L166.5 261.3 L167 261.3 L167.5 261.3 L168 261.3 L168.5 261.3 L169 261.3 L169.5 261.3 L170 261.29 L170.5 261.29 L171 261.29 L171.5 261.29 L172 261.29 L172.5 261.29 L173 261.29 L173.5 261.29 L174 261.29 L174.5 261.28 L175 261.28 L175.5 261.28 L176 261.28 L176.5 261.28 L177 261.27 L177.5 261.27 L178 261.27 L178.5 261.26 L179 261.26 L179.5 261.26 L180 261.25 L180.5 261.25 L181 261.24 L181.5 261.23 L182 261.23 L182.5 261.22 L183 261.21 L183.5 261.2 L184 261.19 L184.5 261.18 L185 261.17 L185.5 261.16 L186 261.15 L186.5 261.13 L187 261.12 L187.5 261.1 L188 261.08 L188.5 261.06 L189 261.04 L189.5 261.02 L190 260.99 L190.5 260.97 L191 260.94 L191.5 260.91 L192 260.88 L192.5 260.84 L193 260.8 L193.5 260.76 L194 260.72 L194.5 260.68 L195 260.63 L195.5 260.58 L196 260.52 L196.5 260.46 L197 260.4 L197.5 260.33 L198 260.27 L198.5 260.19 L199 260.11 L199.5 260.03 L200 259.95 L200.5 259.85 L201 259.76 L201.5 259.66 L202 259.55 L202.5 259.44 L203 259.32 L203.5 259.2 L204 259.08 L204.5 258.94 L205 258.8 L205.5 258.66 L206 258.51 L206.5 258.35 L207 258.19 L207.5 258.02 L208 257.85 L208.5 257.67 L209 257.48 L209.5 257.29 L210 257.09 L210.5 256.89 L211 256.68 L211.5 256.46 L212 256.24 L212.5 256.01 L213 255.78 L213.5 255.54 L214 255.3 L214.5 255.05 L215 254.8 L215.5 254.55 L216 254.29 L216.5 254.03 L217 253.76 L217.5 253.49 L218 253.22 L218.5 252.95 L219 252.67 L219.5 252.4 L220 252.12 L220.5 251.85 L221 251.57 L221.5 251.29 L222 251.02 L222.5 250.75 L223 250.48 L223.5 250.21 L224 249.95 L224.5 249.69 L225 249.43 L225.5 249.18 L226 248.94 L226.5 248.7 L227 248.47 L227.5 248.25 L228 248.03 L228.5 247.83 L229 247.63 L229.5 247.44 L230 247.26 L230.5 247.09 L231 246.93 L231.5 246.78 L232 246.65 L232.5 246.52 L233 246.41 L233.5 246.31 L234 246.23 L234.5 246.15 L235 246.09 L235.5 246.05 L236 246.01 L236.5 245.99 L237 245.99 L237.5 245.99 L238 246.01 L238.5 246.04 L239 246.09 L239.5 246.15 L240 246.22 L240.5 246.31 L241 246.4 L241.5 246.51 L242 246.63 L242.5 246.77 L243 246.91 L243.5 247.06 L244 247.23 L244.5 247.41 L245 247.59 L245.5 247.78 L246 247.99 L246.5 248.2 L247 248.42 L247.5 248.64 L248 248.88 L248.5 249.12 L249 249.36 L249.5 249.61 L250 249.87 L250.5 250.13 L251 250.39 L251.5 250.66 L252 250.92 L252.5 251.19 L253 251.47 L253.5 251.74 L254 252.01 L254.5 252.28 L255 252.56 L255.5 252.83 L256 253.1 L256.5 253.37 L257 253.63 L257.5 253.9 L258 254.16 L258.5 254.42 L259 254.67 L259.5 254.92 L260 255.17 L260.5 255.41 L261 255.65 L261.5 255.88 L262 256.11 L262.5 256.33 L263 256.54 L263.5 256.76 L264 256.96 L264.5 257.16 L265 257.36 L265.5 257.54 L266 257.73 L266.5 257.9 L267 258.07 L267.5 258.24 L268 258.4 L268.5 258.55 L269 258.7 L269.5 258.84 L270 258.97 L270.5 259.1 L271 259.23 L271.5 259.35 L272 259.46 L272.5 259.57 L273 259.67 L273.5 259.77 L274 259.87 L274.5 259.96 L275 260.04 L275.5 260.12 L276 260.2 L276.5 260.27 L277 260.34 L277.5 260.4 L278 260.46 L278.5 260.52 L279 260.58 L279.5 260.63 L280 260.68 L280.5 260.72 L281 260.76 L281.5 260.8 L282 260.84 L282.5 260.87 L283 260.91 L283.5 260.94 L284 260.96 L284.5 260.99 L285 261.02 L285.5 261.04 L286 261.06 L286.5 261.08 L287 261.1 L287.5 261.11 L288 261.13 L288.5 261.14 L289 261.16 L289.5 261.17 L290 261.18 L290.5 261.19 L291 261.2 L291.5 261.21 L292 261.22 L292.5 261.23 L293 261.23 L293.5 261.24 L294 261.24 L294.5 261.25 L295 261.25 L295.5 261.26 L296 261.26 L296.5 261.27 L297 261.27 L297.5 261.27 L298 261.28 L298.5 261.28 L299 261.28 L299.5 261.28 L300 261.28 L300.5 261.29 L301 261.29 L301.5 261.29 L302 261.29 L302.5 261.29 L303 261.29 L303.5 261.29 L304 261.29 L304.5 261.29 L305 261.29 L305.5 261.3 L306 261.3 L306.5 261.3 L307 261.3 L307.5 261.3 L308 261.3 L308.5 261.3 L309 261.3" stroke="#1c2cc0" stroke-width="3.8" fill="none" stroke-dasharray="11 10" stroke-linejoin="round"/>
<path d="M68.5 261.3 L69 261.3 L69.5 261.3 L70 261.3 L70.5 261.3 L71 261.3 L71.5 261.3 L72 261.3 L72.5 261.3 L73 261.3 L73.5 261.3 L74 261.3 L74.5 261.3 L75 261.3 L75.5 261.3 L76 261.3 L76.5 261.3 L77 261.3 L77.5 261.3 L78 261.3 L78.5 261.3 L79 261.3 L79.5 261.3 L80 261.3 L80.5 261.3 L81 261.3 L81.5 261.3 L82 261.3 L82.5 261.3 L83 261.3 L83.5 261.3 L84 261.3 L84.5 261.3 L85 261.3 L85.5 261.3 L86 261.3 L86.5 261.3 L87 261.3 L87.5 261.3 L88 261.3 L88.5 261.3 L89 261.3 L89.5 261.3 L90 261.3 L90.5 261.3 L91 261.3 L91.5 261.3 L92 261.3 L92.5 261.3 L93 261.3 L93.5 261.3 L94 261.3 L94.5 261.3 L95 261.3 L95.5 261.3 L96 261.3 L96.5 261.3 L97 261.3 L97.5 261.3 L98 261.3 L98.5 261.3 L99 261.3 L99.5 261.3 L100 261.3 L100.5 261.3 L101 261.3 L101.5 261.3 L102 261.3 L102.5 261.3 L103 261.3 L103.5 261.3 L104 261.3 L104.5 261.3 L105 261.3 L105.5 261.3 L106 261.3 L106.5 261.3 L107 261.3 L107.5 261.3 L108 261.3 L108.5 261.3 L109 261.3 L109.5 261.3 L110 261.3 L110.5 261.3 L111 261.3 L111.5 261.3 L112 261.3 L112.5 261.3 L113 261.3 L113.5 261.3 L114 261.3 L114.5 261.3 L115 261.3 L115.5 261.3 L116 261.3 L116.5 261.3 L117 261.3 L117.5 261.3 L118 261.3 L118.5 261.3 L119 261.3 L119.5 261.3 L120 261.3 L120.5 261.3 L121 261.3 L121.5 261.3 L122 261.3 L122.5 261.3 L123 261.3 L123.5 261.3 L124 261.3 L124.5 261.3 L125 261.3 L125.5 261.3 L126 261.3 L126.5 261.3 L127 261.3 L127.5 261.3 L128 261.3 L128.5 261.3 L129 261.3 L129.5 261.3 L130 261.3 L130.5 261.3 L131 261.3 L131.5 261.3 L132 261.3 L132.5 261.3 L133 261.3 L133.5 261.3 L134 261.3 L134.5 261.3 L135 261.3 L135.5 261.3 L136 261.3 L136.5 261.3 L137 261.3 L137.5 261.3 L138 261.3 L138.5 261.3 L139 261.3 L139.5 261.3 L140 261.3 L140.5 261.3 L141 261.3 L141.5 261.3 L142 261.3 L142.5 261.3 L143 261.3 L143.5 261.3 L144 261.3 L144.5 261.3 L145 261.3 L145.5 261.3 L146 261.3 L146.5 261.3 L147 261.3 L147.5 261.3 L148 261.3 L148.5 261.3 L149 261.3 L149.5 261.3 L150 261.3 L150.5 261.3 L151 261.3 L151.5 261.3 L152 261.3 L152.5 261.3 L153 261.3 L153.5 261.3 L154 261.3 L154.5 261.3 L155 261.3 L155.5 261.3 L156 261.3 L156.5 261.3 L157 261.3 L157.5 261.3 L158 261.3 L158.5 261.3 L159 261.3 L159.5 261.3 L160 261.3 L160.5 261.3 L161 261.3 L161.5 261.3 L162 261.3 L162.5 261.3 L163 261.3 L163.5 261.3 L164 261.3 L164.5 261.3 L165 261.3 L165.5 261.29 L166 261.29 L166.5 261.29 L167 261.29 L167.5 261.29 L168 261.29 L168.5 261.29 L169 261.29 L169.5 261.28 L170 261.28 L170.5 261.28 L171 261.28 L171.5 261.27 L172 261.27 L172.5 261.26 L173 261.26 L173.5 261.25 L174 261.25 L174.5 261.24 L175 261.23 L175.5 261.22 L176 261.21 L176.5 261.2 L177 261.19 L177.5 261.18 L178 261.16 L178.5 261.15 L179 261.13 L179.5 261.11 L180 261.09 L180.5 261.06 L181 261.04 L181.5 261.01 L182 260.98 L182.5 260.94 L183 260.91 L183.5 260.87 L184 260.82 L184.5 260.77 L185 260.72 L185.5 260.67 L186 260.61 L186.5 260.54 L187 260.47 L187.5 260.4 L188 260.32 L188.5 260.24 L189 260.14 L189.5 260.05 L190 259.95 L190.5 259.84 L191 259.72 L191.5 259.6 L192 259.47 L192.5 259.34 L193 259.2 L193.5 259.05 L194 258.89 L194.5 258.73 L195 258.56 L195.5 258.39 L196 258.2 L196.5 258.01 L197 257.82 L197.5 257.62 L198 257.41 L198.5 257.2 L199 256.98 L199.5 256.75 L200 256.53 L200.5 256.29 L201 256.06 L201.5 255.82 L202 255.58 L202.5 255.34 L203 255.09 L203.5 254.85 L204 254.6 L204.5 254.36 L205 254.12 L205.5 253.88 L206 253.64 L206.5 253.41 L207 253.19 L207.5 252.97 L208 252.75 L208.5 252.55 L209 252.35 L209.5 252.16 L210 251.98 L210.5 251.81 L211 251.66 L211.5 251.51 L212 251.38 L212.5 251.26 L213 251.15 L213.5 251.06 L214 250.98 L214.5 250.92 L215 250.87 L215.5 250.84 L216 250.82 L216.5 250.82 L217 250.86 L217.5 250.92 L218 251.02 L218.5 251.14 L219 251.3 L219.5 251.49 L220 251.71 L220.5 251.95 L221 252.21 L221.5 252.5 L222 252.8 L222.5 253.12 L223 253.46 L223.5 253.8 L224 254.15 L224.5 254.51 L225 254.87 L225.5 255.23 L226 255.59 L226.5 255.95 L227 256.3 L227.5 256.64 L228 256.97 L228.5 257.29 L229 257.6 L229.5 257.9 L230 258.18 L230.5 258.45 L231 258.7 L231.5 258.94 L232 259.17 L232.5 259.38 L233 259.57 L233.5 259.75 L234 259.91 L234.5 260.07 L235 260.2 L235.5 260.33 L236 260.44 L236.5 260.55 L237 260.64 L237.5 260.72 L238 260.8 L238.5 260.87 L239 260.92 L239.5 260.98 L240 261.02 L240.5 261.06 L241 261.1 L241.5 261.13 L242 261.15 L242.5 261.18 L243 261.19 L243.5 261.21 L244 261.23 L244.5 261.24 L245 261.25 L245.5 261.26 L246 261.26 L246.5 261.27 L247 261.28 L247.5 261.28 L248 261.28 L248.5 261.29 L249 261.29 L249.5 261.29 L250 261.29 L250.5 261.29 L251 261.3 L251.5 261.3 L252 261.3 L252.5 261.3 L253 261.3 L253.5 261.3 L254 261.3 L254.5 261.3 L255 261.3 L255.5 261.3 L256 261.3 L256.5 261.3 L257 261.3 L257.5 261.3 L258 261.3 L258.5 261.3 L259 261.3 L259.5 261.3 L260 261.3 L260.5 261.3 L261 261.3 L261.5 261.3 L262 261.3 L262.5 261.3 L263 261.3 L263.5 261.3 L264 261.3 L264.5 261.3 L265 261.3 L265.5 261.3 L266 261.3 L266.5 261.3 L267 261.3 L267.5 261.3 L268 261.3 L268.5 261.3 L269 261.3 L269.5 261.3 L270 261.3 L270.5 261.3 L271 261.3 L271.5 261.3 L272 261.3 L272.5 261.3 L273 261.3 L273.5 261.3 L274 261.3 L274.5 261.3 L275 261.3 L275.5 261.3 L276 261.3 L276.5 261.3 L277 261.3 L277.5 261.3 L278 261.3 L278.5 261.3 L279 261.3 L279.5 261.3 L280 261.3 L280.5 261.3 L281 261.3 L281.5 261.3 L282 261.3 L282.5 261.3 L283 261.3 L283.5 261.3 L284 261.3 L284.5 261.3 L285 261.3 L285.5 261.3 L286 261.3 L286.5 261.3 L287 261.3 L287.5 261.3 L288 261.3 L288.5 261.3 L289 261.3 L289.5 261.3 L290 261.3 L290.5 261.3 L291 261.3 L291.5 261.3 L292 261.3 L292.5 261.3 L293 261.3 L293.5 261.3 L294 261.3 L294.5 261.3 L295 261.3 L295.5 261.3 L296 261.3 L296.5 261.3 L297 261.3 L297.5 261.3 L298 261.3 L298.5 261.3 L299 261.3 L299.5 261.3 L300 261.3 L300.5 261.3 L301 261.3 L301.5 261.3 L302 261.3 L302.5 261.3 L303 261.3 L303.5 261.3 L304 261.3 L304.5 261.3 L305 261.3 L305.5 261.3 L306 261.3 L306.5 261.3 L307 261.3 L307.5 261.3 L308 261.3 L308.5 261.3 L309 261.3" stroke="#940e3a" stroke-width="2.0" fill="none" stroke-linejoin="round"/>
<path d="M68.5 261.3 L69 261.3 L69.5 261.3 L70 261.3 L70.5 261.3 L71 261.3 L71.5 261.3 L72 261.3 L72.5 261.3 L73 261.3 L73.5 261.3 L74 261.3 L74.5 261.3 L75 261.3 L75.5 261.3 L76 261.3 L76.5 261.3 L77 261.3 L77.5 261.3 L78 261.3 L78.5 261.3 L79 261.3 L79.5 261.3 L80 261.3 L80.5 261.3 L81 261.3 L81.5 261.3 L82 261.3 L82.5 261.3 L83 261.3 L83.5 261.3 L84 261.3 L84.5 261.3 L85 261.3 L85.5 261.3 L86 261.3 L86.5 261.3 L87 261.3 L87.5 261.3 L88 261.3 L88.5 261.3 L89 261.3 L89.5 261.3 L90 261.3 L90.5 261.3 L91 261.3 L91.5 261.3 L92 261.3 L92.5 261.3 L93 261.3 L93.5 261.3 L94 261.3 L94.5 261.3 L95 261.3 L95.5 261.3 L96 261.3 L96.5 261.3 L97 261.3 L97.5 261.3 L98 261.3 L98.5 261.3 L99 261.3 L99.5 261.3 L100 261.3 L100.5 261.3 L101 261.3 L101.5 261.3 L102 261.3 L102.5 261.3 L103 261.3 L103.5 261.3 L104 261.3 L104.5 261.3 L105 261.3 L105.5 261.3 L106 261.3 L106.5 261.3 L107 261.3 L107.5 261.3 L108 261.3 L108.5 261.3 L109 261.3 L109.5 261.3 L110 261.3 L110.5 261.3 L111 261.3 L111.5 261.3 L112 261.3 L112.5 261.3 L113 261.3 L113.5 261.3 L114 261.3 L114.5 261.3 L115 261.3 L115.5 261.3 L116 261.3 L116.5 261.3 L117 261.3 L117.5 261.3 L118 261.3 L118.5 261.3 L119 261.3 L119.5 261.3 L120 261.3 L120.5 261.3 L121 261.3 L121.5 261.3 L122 261.3 L122.5 261.3 L123 261.3 L123.5 261.3 L124 261.3 L124.5 261.3 L125 261.3 L125.5 261.3 L126 261.3 L126.5 261.3 L127 261.3 L127.5 261.3 L128 261.3 L128.5 261.3 L129 261.3 L129.5 261.3 L130 261.3 L130.5 261.3 L131 261.3 L131.5 261.3 L132 261.3 L132.5 261.3 L133 261.3 L133.5 261.3 L134 261.3 L134.5 261.3 L135 261.3 L135.5 261.3 L136 261.3 L136.5 261.3 L137 261.3 L137.5 261.3 L138 261.3 L138.5 261.3 L139 261.3 L139.5 261.3 L140 261.3 L140.5 261.3 L141 261.3 L141.5 261.3 L142 261.3 L142.5 261.3 L143 261.3 L143.5 261.3 L144 261.3 L144.5 261.3 L145 261.3 L145.5 261.3 L146 261.3 L146.5 261.3 L147 261.3 L147.5 261.3 L148 261.3 L148.5 261.3 L149 261.3 L149.5 261.3 L150 261.3 L150.5 261.3 L151 261.3 L151.5 261.3 L152 261.3 L152.5 261.3 L153 261.3 L153.5 261.3 L154 261.3 L154.5 261.3 L155 261.3 L155.5 261.3 L156 261.3 L156.5 261.3 L157 261.3 L157.5 261.3 L158 261.3 L158.5 261.3 L159 261.3 L159.5 261.3 L160 261.3 L160.5 261.3 L161 261.3 L161.5 261.3 L162 261.3 L162.5 261.3 L163 261.3 L163.5 261.3 L164 261.3 L164.5 261.3 L165 261.3 L165.5 261.3 L166 261.29 L166.5 261.29 L167 261.29 L167.5 261.29 L168 261.29 L168.5 261.29 L169 261.29 L169.5 261.28 L170 261.28 L170.5 261.28 L171 261.28 L171.5 261.27 L172 261.27 L172.5 261.26 L173 261.26 L173.5 261.25 L174 261.25 L174.5 261.24 L175 261.23 L175.5 261.23 L176 261.22 L176.5 261.2 L177 261.19 L177.5 261.18 L178 261.17 L178.5 261.15 L179 261.13 L179.5 261.11 L180 261.09 L180.5 261.07 L181 261.04 L181.5 261.01 L182 260.98 L182.5 260.95 L183 260.91 L183.5 260.87 L184 260.83 L184.5 260.78 L185 260.73 L185.5 260.68 L186 260.62 L186.5 260.55 L187 260.49 L187.5 260.41 L188 260.33 L188.5 260.25 L189 260.16 L189.5 260.07 L190 259.97 L190.5 259.86 L191 259.75 L191.5 259.63 L192 259.5 L192.5 259.37 L193 259.23 L193.5 259.08 L194 258.93 L194.5 258.77 L195 258.6 L195.5 258.43 L196 258.25 L196.5 258.06 L197 257.87 L197.5 257.67 L198 257.47 L198.5 257.26 L199 257.04 L199.5 256.82 L200 256.6 L200.5 256.37 L201 256.14 L201.5 255.9 L202 255.66 L202.5 255.42 L203 255.18 L203.5 254.94 L204 254.7 L204.5 254.46 L205 254.23 L205.5 253.99 L206 253.76 L206.5 253.53 L207 253.31 L207.5 253.09 L208 252.88 L208.5 252.68 L209 252.48 L209.5 252.3 L210 252.12 L210.5 251.96 L211 251.8 L211.5 251.66 L212 251.53 L212.5 251.41 L213 251.31 L213.5 251.22 L214 251.14 L214.5 251.08 L215 251.03 L215.5 251 L216 250.98 L216.5 250.98 L217 251.01 L217.5 251.07 L218 251.17 L218.5 251.3 L219 251.45 L219.5 251.64 L220 251.85 L220.5 252.09 L221 252.35 L221.5 252.63 L222 252.93 L222.5 253.25 L223 253.58 L223.5 253.91 L224 254.26 L224.5 254.61 L225 254.97 L225.5 255.32 L226 255.68 L226.5 256.03 L227 256.37 L227.5 256.71 L228 257.04 L228.5 257.35 L229 257.66 L229.5 257.95 L230 258.23 L230.5 258.49 L231 258.74 L231.5 258.98 L232 259.2 L232.5 259.4 L233 259.6 L233.5 259.77 L234 259.93 L234.5 260.08 L235 260.22 L235.5 260.34 L236 260.46 L236.5 260.56 L237 260.65 L237.5 260.73 L238 260.81 L238.5 260.87 L239 260.93 L239.5 260.98 L240 261.03 L240.5 261.06 L241 261.1 L241.5 261.13 L242 261.15 L242.5 261.18 L243 261.2 L243.5 261.21 L244 261.23 L244.5 261.24 L245 261.25 L245.5 261.26 L246 261.27 L246.5 261.27 L247 261.28 L247.5 261.28 L248 261.28 L248.5 261.29 L249 261.29 L249.5 261.29 L250 261.29 L250.5 261.29 L251 261.3 L251.5 261.3 L252 261.3 L252.5 261.3 L253 261.3 L253.5 261.3 L254 261.3 L254.5 261.3 L255 261.3 L255.5 261.3 L256 261.3 L256.5 261.3 L257 261.3 L257.5 261.3 L258 261.3 L258.5 261.3 L259 261.3 L259.5 261.3 L260 261.3 L260.5 261.3 L261 261.3 L261.5 261.3 L262 261.3 L262.5 261.3 L263 261.3 L263.5 261.3 L264 261.3 L264.5 261.3 L265 261.3 L265.5 261.3 L266 261.3 L266.5 261.3 L267 261.3 L267.5 261.3 L268 261.3 L268.5 261.3 L269 261.3 L269.5 261.3 L270 261.3 L270.5 261.3 L271 261.3 L271.5 261.3 L272 261.3 L272.5 261.3 L273 261.3 L273.5 261.3 L274 261.3 L274.5 261.3 L275 261.3 L275.5 261.3 L276 261.3 L276.5 261.3 L277 261.3 L277.5 261.3 L278 261.3 L278.5 261.3 L279 261.3 L279.5 261.3 L280 261.3 L280.5 261.3 L281 261.3 L281.5 261.3 L282 261.3 L282.5 261.3 L283 261.3 L283.5 261.3 L284 261.3 L284.5 261.3 L285 261.3 L285.5 261.3 L286 261.3 L286.5 261.3 L287 261.3 L287.5 261.3 L288 261.3 L288.5 261.3 L289 261.3 L289.5 261.3 L290 261.3 L290.5 261.3 L291 261.3 L291.5 261.3 L292 261.3 L292.5 261.3 L293 261.3 L293.5 261.3 L294 261.3 L294.5 261.3 L295 261.3 L295.5 261.3 L296 261.3 L296.5 261.3 L297 261.3 L297.5 261.3 L298 261.3 L298.5 261.3 L299 261.3 L299.5 261.3 L300 261.3 L300.5 261.3 L301 261.3 L301.5 261.3 L302 261.3 L302.5 261.3 L303 261.3 L303.5 261.3 L304 261.3 L304.5 261.3 L305 261.3 L305.5 261.3 L306 261.3 L306.5 261.3 L307 261.3 L307.5 261.3 L308 261.3 L308.5 261.3 L309 261.3" stroke="#940e3a" stroke-width="3.8" fill="none" stroke-dasharray="11 10" stroke-linejoin="round"/>
<path d="M68.5 261.3 L69 261.3 L69.5 261.3 L70 261.3 L70.5 261.3 L71 261.3 L71.5 261.3 L72 261.3 L72.5 261.3 L73 261.3 L73.5 261.3 L74 261.3 L74.5 261.3 L75 261.3 L75.5 261.3 L76 261.3 L76.5 261.3 L77 261.3 L77.5 261.3 L78 261.3 L78.5 261.3 L79 261.3 L79.5 261.3 L80 261.3 L80.5 261.3 L81 261.3 L81.5 261.3 L82 261.3 L82.5 261.3 L83 261.3 L83.5 261.3 L84 261.3 L84.5 261.3 L85 261.3 L85.5 261.3 L86 261.3 L86.5 261.3 L87 261.3 L87.5 261.3 L88 261.3 L88.5 261.3 L89 261.3 L89.5 261.3 L90 261.3 L90.5 261.3 L91 261.3 L91.5 261.3 L92 261.3 L92.5 261.3 L93 261.3 L93.5 261.3 L94 261.3 L94.5 261.3 L95 261.3 L95.5 261.3 L96 261.3 L96.5 261.3 L97 261.3 L97.5 261.3 L98 261.29 L98.5 261.29 L99 261.29 L99.5 261.29 L100 261.29 L100.5 261.29 L101 261.29 L101.5 261.29 L102 261.29 L102.5 261.28 L103 261.28 L103.5 261.28 L104 261.28 L104.5 261.28 L105 261.27 L105.5 261.27 L106 261.27 L106.5 261.26 L107 261.26 L107.5 261.26 L108 261.25 L108.5 261.25 L109 261.24 L109.5 261.23 L110 261.23 L110.5 261.22 L111 261.21 L111.5 261.2 L112 261.19 L112.5 261.18 L113 261.17 L113.5 261.16 L114 261.15 L114.5 261.13 L115 261.11 L115.5 261.1 L116 261.08 L116.5 261.06 L117 261.03 L117.5 261.01 L118 260.98 L118.5 260.95 L119 260.92 L119.5 260.89 L120 260.85 L120.5 260.82 L121 260.77 L121.5 260.73 L122 260.68 L122.5 260.63 L123 260.57 L123.5 260.51 L124 260.45 L124.5 260.38 L125 260.3 L125.5 260.22 L126 260.14 L126.5 260.04 L127 259.95 L127.5 259.84 L128 259.73 L128.5 259.61 L129 259.48 L129.5 259.35 L130 259.21 L130.5 259.05 L131 258.89 L131.5 258.72 L132 258.54 L132.5 258.34 L133 258.14 L133.5 257.92 L134 257.69 L134.5 257.45 L135 257.19 L135.5 256.92 L136 256.63 L136.5 256.33 L137 256.01 L137.5 255.67 L138 255.31 L138.5 254.94 L139 254.55 L139.5 254.14 L140 253.7 L140.5 253.25 L141 252.77 L141.5 252.27 L142 251.74 L142.5 251.19 L143 250.61 L143.5 250.01 L144 249.38 L144.5 248.71 L145 248.02 L145.5 247.3 L146 246.55 L146.5 245.76 L147 244.94 L147.5 244.09 L148 243.2 L148.5 242.27 L149 241.31 L149.5 240.3 L150 239.26 L150.5 238.17 L151 237.05 L151.5 235.88 L152 234.66 L152.5 233.4 L153 232.1 L153.5 230.75 L154 229.35 L154.5 227.9 L155 226.4 L155.5 224.85 L156 223.25 L156.5 221.6 L157 219.9 L157.5 218.14 L158 216.34 L158.5 214.47 L159 212.56 L159.5 210.59 L160 208.57 L160.5 206.49 L161 204.36 L161.5 202.18 L162 199.94 L162.5 197.65 L163 195.32 L163.5 192.93 L164 190.49 L164.5 188.01 L165 185.48 L165.5 182.91 L166 180.3 L166.5 177.65 L167 174.97 L167.5 172.25 L168 169.5 L168.5 166.72 L169 163.92 L169.5 161.11 L170 158.27 L170.5 155.42 L171 152.57 L171.5 149.72 L172 146.86 L172.5 144.02 L173 141.18 L173.5 138.37 L174 135.58 L174.5 132.81 L175 130.09 L175.5 127.4 L176 124.76 L176.5 122.17 L177 119.64 L177.5 117.18 L178 114.79 L178.5 112.48 L179 110.26 L179.5 108.14 L180 106.12 L180.5 104.21 L181 102.41 L181.5 100.73 L182 99.18 L182.5 97.75 L183 96.46 L183.5 95.3 L184 94.28 L184.5 93.4 L185 92.67 L185.5 92.09 L186 91.66 L186.5 91.37 L187 91.24 L187.5 91.26 L188 91.44 L188.5 91.77 L189 92.24 L189.5 92.87 L190 93.65 L190.5 94.54 L191 95.55 L191.5 96.68 L192 97.91 L192.5 99.25 L193 100.69 L193.5 102.23 L194 103.86 L194.5 105.59 L195 107.4 L195.5 109.29 L196 111.26 L196.5 113.3 L197 115.41 L197.5 117.58 L198 119.81 L198.5 122.1 L199 124.43 L199.5 126.8 L200 129.22 L200.5 131.66 L201 134.13 L201.5 136.63 L202 139.15 L202.5 141.68 L203 144.21 L203.5 146.76 L204 149.3 L204.5 151.84 L205 154.38 L205.5 156.9 L206 159.41 L206.5 161.9 L207 164.37 L207.5 166.81 L208 169.23 L208.5 171.61 L209 173.97 L209.5 176.29 L210 178.57 L210.5 180.81 L211 183.01 L211.5 185.17 L212 187.28 L212.5 189.35 L213 191.38 L213.5 193.35 L214 195.28 L214.5 197.16 L215 198.99 L215.5 200.78 L216 202.51 L216.5 204.2 L217 205.85 L217.5 207.47 L218 209.06 L218.5 210.62 L219 212.15 L219.5 213.64 L220 215.1 L220.5 216.53 L221 217.92 L221.5 219.28 L222 220.6 L222.5 221.88 L223 223.13 L223.5 224.33 L224 225.5 L224.5 226.62 L225 227.7 L225.5 228.74 L226 229.74 L226.5 230.7 L227 231.61 L227.5 232.48 L228 233.31 L228.5 234.1 L229 234.85 L229.5 235.56 L230 236.23 L230.5 236.86 L231 237.46 L231.5 238.02 L232 238.55 L232.5 239.05 L233 239.52 L233.5 239.97 L234 240.39 L234.5 240.79 L235 241.16 L235.5 241.52 L236 241.86 L236.5 242.19 L237 242.5 L237.5 242.8 L238 243.09 L238.5 243.37 L239 243.64 L239.5 243.91 L240 244.17 L240.5 244.42 L241 244.68 L241.5 244.93 L242 245.19 L242.5 245.44 L243 245.69 L243.5 245.95 L244 246.2 L244.5 246.46 L245 246.72 L245.5 246.98 L246 247.25 L246.5 247.52 L247 247.79 L247.5 248.06 L248 248.34 L248.5 248.62 L249 248.9 L249.5 249.18 L250 249.47 L250.5 249.75 L251 250.04 L251.5 250.33 L252 250.62 L252.5 250.91 L253 251.2 L253.5 251.49 L254 251.78 L254.5 252.06 L255 252.35 L255.5 252.63 L256 252.92 L256.5 253.19 L257 253.47 L257.5 253.74 L258 254.01 L258.5 254.28 L259 254.54 L259.5 254.8 L260 255.05 L260.5 255.3 L261 255.54 L261.5 255.78 L262 256.01 L262.5 256.24 L263 256.46 L263.5 256.68 L264 256.89 L264.5 257.09 L265 257.29 L265.5 257.48 L266 257.67 L266.5 257.85 L267 258.02 L267.5 258.19 L268 258.35 L268.5 258.5 L269 258.65 L269.5 258.8 L270 258.94 L270.5 259.07 L271 259.19 L271.5 259.32 L272 259.43 L272.5 259.54 L273 259.65 L273.5 259.75 L274 259.84 L274.5 259.93 L275 260.02 L275.5 260.1 L276 260.18 L276.5 260.25 L277 260.32 L277.5 260.39 L278 260.45 L278.5 260.51 L279 260.56 L279.5 260.62 L280 260.67 L280.5 260.71 L281 260.75 L281.5 260.79 L282 260.83 L282.5 260.87 L283 260.9 L283.5 260.93 L284 260.96 L284.5 260.99 L285 261.01 L285.5 261.03 L286 261.06 L286.5 261.08 L287 261.09 L287.5 261.11 L288 261.13 L288.5 261.14 L289 261.16 L289.5 261.17 L290 261.18 L290.5 261.19 L291 261.2 L291.5 261.21 L292 261.22 L292.5 261.22 L293 261.23 L293.5 261.24 L294 261.24 L294.5 261.25 L295 261.25 L295.5 261.26 L296 261.26 L296.5 261.27 L297 261.27 L297.5 261.27 L298 261.28 L298.5 261.28 L299 261.28 L299.5 261.28 L300 261.28 L300.5 261.29 L301 261.29 L301.5 261.29 L302 261.29 L302.5 261.29 L303 261.29 L303.5 261.29 L304 261.29 L304.5 261.29 L305 261.29 L305.5 261.3 L306 261.3 L306.5 261.3 L307 261.3 L307.5 261.3 L308 261.3 L308.5 261.3 L309 261.3" stroke="#17a046" stroke-width="2.0" fill="none" stroke-linejoin="round"/>
<path d="M68.5 261.3 L69 261.3 L69.5 261.3 L70 261.3 L70.5 261.3 L71 261.3 L71.5 261.3 L72 261.3 L72.5 261.3 L73 261.3 L73.5 261.3 L74 261.3 L74.5 261.3 L75 261.3 L75.5 261.3 L76 261.3 L76.5 261.3 L77 261.3 L77.5 261.3 L78 261.3 L78.5 261.3 L79 261.3 L79.5 261.3 L80 261.3 L80.5 261.3 L81 261.3 L81.5 261.3 L82 261.3 L82.5 261.3 L83 261.3 L83.5 261.3 L84 261.3 L84.5 261.3 L85 261.3 L85.5 261.3 L86 261.3 L86.5 261.3 L87 261.3 L87.5 261.3 L88 261.3 L88.5 261.3 L89 261.3 L89.5 261.3 L90 261.3 L90.5 261.3 L91 261.3 L91.5 261.3 L92 261.3 L92.5 261.3 L93 261.3 L93.5 261.3 L94 261.3 L94.5 261.3 L95 261.3 L95.5 261.3 L96 261.3 L96.5 261.3 L97 261.3 L97.5 261.3 L98 261.29 L98.5 261.29 L99 261.29 L99.5 261.29 L100 261.29 L100.5 261.29 L101 261.29 L101.5 261.29 L102 261.29 L102.5 261.29 L103 261.28 L103.5 261.28 L104 261.28 L104.5 261.28 L105 261.27 L105.5 261.27 L106 261.27 L106.5 261.27 L107 261.26 L107.5 261.26 L108 261.25 L108.5 261.25 L109 261.24 L109.5 261.24 L110 261.23 L110.5 261.22 L111 261.21 L111.5 261.21 L112 261.2 L112.5 261.19 L113 261.17 L113.5 261.16 L114 261.15 L114.5 261.13 L115 261.12 L115.5 261.1 L116 261.08 L116.5 261.06 L117 261.04 L117.5 261.01 L118 260.99 L118.5 260.96 L119 260.93 L119.5 260.9 L120 260.86 L120.5 260.82 L121 260.78 L121.5 260.74 L122 260.69 L122.5 260.64 L123 260.58 L123.5 260.52 L124 260.46 L124.5 260.39 L125 260.32 L125.5 260.24 L126 260.15 L126.5 260.06 L127 259.97 L127.5 259.86 L128 259.75 L128.5 259.64 L129 259.51 L129.5 259.38 L130 259.24 L130.5 259.09 L131 258.93 L131.5 258.76 L132 258.58 L132.5 258.39 L133 258.18 L133.5 257.97 L134 257.74 L134.5 257.5 L135 257.25 L135.5 256.98 L136 256.7 L136.5 256.4 L137 256.09 L137.5 255.75 L138 255.4 L138.5 255.04 L139 254.65 L139.5 254.24 L140 253.82 L140.5 253.37 L141 252.9 L141.5 252.4 L142 251.88 L142.5 251.34 L143 250.77 L143.5 250.18 L144 249.55 L144.5 248.9 L145 248.22 L145.5 247.51 L146 246.77 L146.5 246 L147 245.19 L147.5 244.35 L148 243.47 L148.5 242.56 L149 241.61 L149.5 240.62 L150 239.59 L150.5 238.52 L151 237.41 L151.5 236.26 L152 235.06 L152.5 233.82 L153 232.54 L153.5 231.21 L154 229.83 L154.5 228.4 L155 226.92 L155.5 225.4 L156 223.82 L156.5 222.2 L157 220.52 L157.5 218.79 L158 217.01 L158.5 215.18 L159 213.29 L159.5 211.35 L160 209.36 L160.5 207.31 L161 205.21 L161.5 203.06 L162 200.86 L162.5 198.61 L163 196.31 L163.5 193.95 L164 191.56 L164.5 189.11 L165 186.62 L165.5 184.09 L166 181.52 L166.5 178.91 L167 176.26 L167.5 173.58 L168 170.88 L168.5 168.14 L169 165.39 L169.5 162.61 L170 159.82 L170.5 157.01 L171 154.2 L171.5 151.39 L172 148.58 L172.5 145.78 L173 142.99 L173.5 140.21 L174 137.46 L174.5 134.74 L175 132.05 L175.5 129.41 L176 126.81 L176.5 124.26 L177 121.77 L177.5 119.34 L178 116.99 L178.5 114.71 L179 112.53 L179.5 110.44 L180 108.45 L180.5 106.57 L181 104.8 L181.5 103.14 L182 101.61 L182.5 100.21 L183 98.93 L183.5 97.79 L184 96.79 L184.5 95.92 L185 95.2 L185.5 94.63 L186 94.2 L186.5 93.92 L187 93.79 L187.5 93.81 L188 93.99 L188.5 94.31 L189 94.78 L189.5 95.4 L190 96.16 L190.5 97.04 L191 98.04 L191.5 99.15 L192 100.36 L192.5 101.68 L193 103.1 L193.5 104.62 L194 106.23 L194.5 107.92 L195 109.71 L195.5 111.57 L196 113.51 L196.5 115.52 L197 117.6 L197.5 119.74 L198 121.94 L198.5 124.19 L199 126.48 L199.5 128.82 L200 131.2 L200.5 133.61 L201 136.04 L201.5 138.5 L202 140.98 L202.5 143.47 L203 145.97 L203.5 148.48 L204 150.98 L204.5 153.49 L205 155.98 L205.5 158.47 L206 160.94 L206.5 163.39 L207 165.82 L207.5 168.23 L208 170.61 L208.5 172.96 L209 175.28 L209.5 177.56 L210 179.81 L210.5 182.02 L211 184.18 L211.5 186.31 L212 188.39 L212.5 190.43 L213 192.43 L213.5 194.37 L214 196.27 L214.5 198.12 L215 199.93 L215.5 201.68 L216 203.39 L216.5 205.05 L217 206.68 L217.5 208.28 L218 209.84 L218.5 211.38 L219 212.88 L219.5 214.35 L220 215.79 L220.5 217.2 L221 218.57 L221.5 219.91 L222 221.21 L222.5 222.47 L223 223.7 L223.5 224.89 L224 226.04 L224.5 227.14 L225 228.21 L225.5 229.23 L226 230.22 L226.5 231.16 L227 232.06 L227.5 232.91 L228 233.73 L228.5 234.51 L229 235.24 L229.5 235.94 L230 236.6 L230.5 237.23 L231 237.81 L231.5 238.37 L232 238.89 L232.5 239.39 L233 239.85 L233.5 240.29 L234 240.7 L234.5 241.1 L235 241.47 L235.5 241.82 L236 242.15 L236.5 242.47 L237 242.78 L237.5 243.08 L238 243.36 L238.5 243.64 L239 243.9 L239.5 244.17 L240 244.42 L240.5 244.68 L241 244.93 L241.5 245.18 L242 245.43 L242.5 245.68 L243 245.93 L243.5 246.18 L244 246.43 L244.5 246.68 L245 246.94 L245.5 247.2 L246 247.46 L246.5 247.72 L247 247.99 L247.5 248.26 L248 248.53 L248.5 248.81 L249 249.08 L249.5 249.36 L250 249.64 L250.5 249.93 L251 250.21 L251.5 250.49 L252 250.78 L252.5 251.07 L253 251.35 L253.5 251.64 L254 251.92 L254.5 252.2 L255 252.48 L255.5 252.76 L256 253.04 L256.5 253.32 L257 253.59 L257.5 253.86 L258 254.12 L258.5 254.39 L259 254.64 L259.5 254.9 L260 255.15 L260.5 255.39 L261 255.63 L261.5 255.86 L262 256.09 L262.5 256.32 L263 256.53 L263.5 256.75 L264 256.95 L264.5 257.15 L265 257.35 L265.5 257.54 L266 257.72 L266.5 257.9 L267 258.07 L267.5 258.23 L268 258.39 L268.5 258.55 L269 258.69 L269.5 258.84 L270 258.97 L270.5 259.1 L271 259.23 L271.5 259.35 L272 259.46 L272.5 259.57 L273 259.67 L273.5 259.77 L274 259.87 L274.5 259.96 L275 260.04 L275.5 260.12 L276 260.2 L276.5 260.27 L277 260.34 L277.5 260.4 L278 260.46 L278.5 260.52 L279 260.58 L279.5 260.63 L280 260.68 L280.5 260.72 L281 260.76 L281.5 260.8 L282 260.84 L282.5 260.87 L283 260.91 L283.5 260.94 L284 260.96 L284.5 260.99 L285 261.02 L285.5 261.04 L286 261.06 L286.5 261.08 L287 261.1 L287.5 261.11 L288 261.13 L288.5 261.14 L289 261.16 L289.5 261.17 L290 261.18 L290.5 261.19 L291 261.2 L291.5 261.21 L292 261.22 L292.5 261.23 L293 261.23 L293.5 261.24 L294 261.24 L294.5 261.25 L295 261.25 L295.5 261.26 L296 261.26 L296.5 261.27 L297 261.27 L297.5 261.27 L298 261.28 L298.5 261.28 L299 261.28 L299.5 261.28 L300 261.28 L300.5 261.29 L301 261.29 L301.5 261.29 L302 261.29 L302.5 261.29 L303 261.29 L303.5 261.29 L304 261.29 L304.5 261.29 L305 261.29 L305.5 261.3 L306 261.3 L306.5 261.3 L307 261.3 L307.5 261.3 L308 261.3 L308.5 261.3 L309 261.3" stroke="#17a046" stroke-width="3.8" fill="none" stroke-dasharray="11 10" stroke-linejoin="round"/>
<line x1="187.5" y1="135.6" x2="128.3" y2="105.4" stroke="#1a90ee" stroke-width="1.1" />
<line x1="128.3" y1="105.4" x2="136.8" y2="105.55" stroke="#1a90ee" stroke-width="1.1" stroke-linecap="round"/>
<line x1="128.3" y1="105.4" x2="133.41" y2="112.19" stroke="#1a90ee" stroke-width="1.1" stroke-linecap="round"/>
<line x1="175.7" y1="201.5" x2="127.7" y2="176" stroke="#e02424" stroke-width="1.1" />
<line x1="127.7" y1="176" x2="136.19" y2="176.29" stroke="#e02424" stroke-width="1.1" stroke-linecap="round"/>
<line x1="127.7" y1="176" x2="132.7" y2="182.87" stroke="#e02424" stroke-width="1.1" stroke-linecap="round"/>
<line x1="215.3" y1="250.1" x2="258.4" y2="148.3" stroke="#940e3a" stroke-width="1.1" />
<line x1="258.4" y1="148.3" x2="258.85" y2="156.79" stroke="#940e3a" stroke-width="1.1" stroke-linecap="round"/>
<line x1="258.4" y1="148.3" x2="251.99" y2="153.88" stroke="#940e3a" stroke-width="1.1" stroke-linecap="round"/>
<line x1="228.4" y1="246.9" x2="255.6" y2="221.8" stroke="#1c2cc0" stroke-width="1.1" />
<line x1="255.6" y1="221.8" x2="252.51" y2="229.72" stroke="#1c2cc0" stroke-width="1.1" stroke-linecap="round"/>
<line x1="255.6" y1="221.8" x2="247.46" y2="224.24" stroke="#1c2cc0" stroke-width="1.1" stroke-linecap="round"/>
<line x1="93.3" y1="90.4" x2="93.3" y2="134.6" stroke="#222" stroke-width="1.2" />
<line x1="93.3" y1="134.6" x2="129" y2="134.6" stroke="#222" stroke-width="1.2" />
<line x1="90.3" y1="90.4" x2="93.3" y2="90.4" stroke="#222" stroke-width="1.2" />
<line x1="90.3" y1="134.6" x2="93.3" y2="134.6" stroke="#222" stroke-width="1.2" />
<line x1="93.3" y1="134.6" x2="93.3" y2="137.6" stroke="#222" stroke-width="1.2" />
<line x1="113.6" y1="134.6" x2="113.6" y2="137.6" stroke="#222" stroke-width="1.2" />
<text x="93.3" y="151.8" font-size="11" font-weight="normal" fill="#2a2a2a" text-anchor="middle" >819</text>
<text x="113.6" y="151.8" font-size="11" font-weight="normal" fill="#2a2a2a" text-anchor="middle" >829</text>
<text x="83.9" y="94.3" font-size="11" font-weight="normal" fill="#2a2a2a" text-anchor="end" >73</text>
<text x="83.9" y="138.5" font-size="11" font-weight="normal" fill="#2a2a2a" text-anchor="end" >68</text>
<path d="M93.9 134.6 L94.47 126.08 L95.05 122.25 L95.62 119.31 L96.2 116.87 L96.77 114.76 L97.35 112.89 L97.92 111.22 L98.5 109.7 L99.07 108.33 L99.65 107.07 L100.22 105.91 L100.8 104.86 L101.38 103.88 L101.95 102.99 L102.52 102.18 L103.1 101.43 L103.67 100.75 L104.25 100.13 L104.82 99.57 L105.4 99.07 L105.97 98.62 L106.55 98.23 L107.12 97.89 L107.7 97.6 L108.27 97.37 L108.85 97.18 L109.42 97.04 L110 96.95 L110.58 96.9 L111.15 96.91 L111.72 96.96 L112.3 97.05 L112.88 97.19 L113.45 97.37 L114.03 97.6 L114.6 97.88 L115.17 98.2 L115.75 98.57 L116.33 98.99 L116.9 99.46 L117.47 99.99 L118.05 100.57 L118.62 101.2 L119.2 101.9 L119.78 102.65 L120.35 103.48 L120.93 104.38 L121.5 105.35 L122.08 106.41 L122.65 107.55 L123.22 108.8 L123.8 110.17 L124.38 111.67 L124.95 113.32 L125.53 115.16 L126.1 117.23 L126.68 119.63 L127.25 122.51 L127.83 126.27 L128.4 134.6" stroke="#1a90ee" stroke-width="2.0" fill="none" stroke-linejoin="round"/>
<path d="M93.9 134.6 L94.47 127.24 L95.05 123.92 L95.62 121.38 L96.2 119.26 L96.77 117.43 L97.35 115.81 L97.92 114.35 L98.5 113.04 L99.07 111.83 L99.65 110.73 L100.22 109.73 L100.8 108.8 L101.38 107.94 L101.95 107.16 L102.52 106.43 L103.1 105.77 L103.67 105.16 L104.25 104.61 L104.82 104.11 L105.4 103.65 L105.97 103.24 L106.55 102.88 L107.12 102.56 L107.7 102.29 L108.27 102.05 L108.85 101.86 L109.42 101.71 L110 101.6 L110.58 101.53 L111.15 101.5 L111.72 101.51 L112.3 101.56 L112.88 101.65 L113.45 101.79 L114.03 101.96 L114.6 102.18 L115.17 102.45 L115.75 102.75 L116.33 103.1 L116.9 103.5 L117.47 103.95 L118.05 104.44 L118.62 104.99 L119.2 105.59 L119.78 106.25 L120.35 106.97 L120.93 107.76 L121.5 108.61 L122.08 109.54 L122.65 110.55 L123.22 111.65 L123.8 112.86 L124.38 114.18 L124.95 115.65 L125.53 117.28 L126.1 119.13 L126.68 121.26 L127.25 123.82 L127.83 127.17 L128.4 134.6" stroke="#1a90ee" stroke-width="4.0" fill="none" stroke-dasharray="7 4" stroke-linejoin="round"/>
<text x="97.3" y="90.9" font-size="10" font-weight="bold" fill="#1a90ee" text-anchor="start" >F<tspan font-size="7.5" dy="2">s1</tspan><tspan dy="-2"> &amp; F</tspan><tspan font-size="7.5" dy="2">s1</tspan><tspan dy="-2">+ΔF</tspan><tspan font-size="7.5" dy="2">s1</tspan></text>
<line x1="93.3" y1="164.9" x2="93.3" y2="214" stroke="#222" stroke-width="1.2" />
<line x1="93.3" y1="214" x2="130" y2="214" stroke="#222" stroke-width="1.2" />
<line x1="90.3" y1="164.9" x2="93.3" y2="164.9" stroke="#222" stroke-width="1.2" />
<line x1="90.3" y1="214" x2="93.3" y2="214" stroke="#222" stroke-width="1.2" />
<line x1="93.3" y1="214" x2="93.3" y2="217" stroke="#222" stroke-width="1.2" />
<line x1="120" y1="214" x2="120" y2="217" stroke="#222" stroke-width="1.2" />
<text x="93.3" y="231.7" font-size="11" font-weight="normal" fill="#2a2a2a" text-anchor="middle" >796</text>
<text x="120" y="231.7" font-size="11" font-weight="normal" fill="#2a2a2a" text-anchor="middle" >816</text>
<text x="83.9" y="168.8" font-size="11" font-weight="normal" fill="#2a2a2a" text-anchor="end" >35</text>
<text x="83.9" y="217.9" font-size="11" font-weight="normal" fill="#2a2a2a" text-anchor="end" >30</text>
<path d="M93.9 214 L94.49 207.11 L95.08 203.3 L95.67 200.23 L96.27 197.57 L96.86 195.22 L97.45 193.09 L98.04 191.15 L98.63 189.36 L99.22 187.71 L99.82 186.19 L100.41 184.77 L101 183.45 L101.59 182.23 L102.18 181.09 L102.77 180.04 L103.37 179.06 L103.96 178.15 L104.55 177.32 L105.14 176.55 L105.73 175.84 L106.33 175.21 L106.92 174.63 L107.51 174.11 L108.1 173.65 L108.69 173.25 L109.28 172.91 L109.88 172.62 L110.47 172.39 L111.06 172.21 L111.65 172.09 L112.24 172.02 L112.83 172 L113.42 172.05 L114.02 172.17 L114.61 172.36 L115.2 172.61 L115.79 172.94 L116.38 173.34 L116.97 173.81 L117.57 174.35 L118.16 174.97 L118.75 175.67 L119.34 176.45 L119.93 177.31 L120.53 178.25 L121.12 179.28 L121.71 180.41 L122.3 181.64 L122.89 182.97 L123.48 184.42 L124.08 186 L124.67 187.71 L125.26 189.57 L125.85 191.61 L126.44 193.86 L127.03 196.36 L127.62 199.18 L128.22 202.48 L128.81 206.57 L129.4 214" stroke="#e81420" stroke-width="2.0" fill="none" stroke-linejoin="round"/>
<path d="M93.9 214 L94.49 207.36 L95.08 203.69 L95.67 200.72 L96.27 198.16 L96.86 195.89 L97.45 193.84 L98.04 191.96 L98.63 190.24 L99.22 188.65 L99.82 187.18 L100.41 185.81 L101 184.54 L101.59 183.36 L102.18 182.27 L102.77 181.25 L103.37 180.3 L103.96 179.43 L104.55 178.63 L105.14 177.89 L105.73 177.21 L106.33 176.59 L106.92 176.03 L107.51 175.54 L108.1 175.09 L108.69 174.71 L109.28 174.37 L109.88 174.1 L110.47 173.87 L111.06 173.7 L111.65 173.58 L112.24 173.52 L112.83 173.5 L113.42 173.55 L114.02 173.66 L114.61 173.84 L115.2 174.09 L115.79 174.41 L116.38 174.79 L116.97 175.25 L117.57 175.77 L118.16 176.37 L118.75 177.04 L119.34 177.79 L119.93 178.62 L120.53 179.53 L121.12 180.52 L121.71 181.61 L122.3 182.8 L122.89 184.08 L123.48 185.48 L124.08 187 L124.67 188.64 L125.26 190.44 L125.85 192.41 L126.44 194.58 L127.03 196.99 L127.62 199.71 L128.22 202.89 L128.81 206.84 L129.4 214" stroke="#e81420" stroke-width="4.0" fill="none" stroke-dasharray="7 4" stroke-linejoin="round"/>
<text x="96.7" y="164.5" font-size="10" font-weight="bold" fill="#e81420" text-anchor="start" >F<tspan font-size="7.5" dy="2">f1</tspan><tspan dy="-2"> &amp; F</tspan><tspan font-size="7.5" dy="2">f1</tspan><tspan dy="-2">+ΔF</tspan><tspan font-size="7.5" dy="2">f1</tspan></text>
<line x1="266.9" y1="90.5" x2="266.9" y2="134.5" stroke="#222" stroke-width="1.2" />
<line x1="266.9" y1="134.5" x2="306" y2="134.5" stroke="#222" stroke-width="1.2" />
<line x1="263.9" y1="90.5" x2="266.9" y2="90.5" stroke="#222" stroke-width="1.2" />
<line x1="263.9" y1="134.5" x2="266.9" y2="134.5" stroke="#222" stroke-width="1.2" />
<line x1="266.9" y1="134.5" x2="266.9" y2="137.5" stroke="#222" stroke-width="1.2" />
<line x1="306" y1="134.5" x2="306" y2="137.5" stroke="#222" stroke-width="1.2" />
<text x="266.4" y="152.1" font-size="11" font-weight="normal" fill="#2a2a2a" text-anchor="middle" >840</text>
<text x="305.5" y="152.1" font-size="11" font-weight="normal" fill="#2a2a2a" text-anchor="middle" >890</text>
<text x="257.5" y="94.4" font-size="11" font-weight="normal" fill="#2a2a2a" text-anchor="end" >7</text>
<text x="257.5" y="138.4" font-size="11" font-weight="normal" fill="#2a2a2a" text-anchor="end" >2</text>
<path d="M267.5 134.5 L268.13 133.2 L268.76 131.86 L269.39 130.48 L270.03 129.06 L270.66 127.6 L271.29 126.11 L271.92 124.59 L272.55 123.05 L273.19 121.5 L273.82 119.94 L274.45 118.38 L275.08 116.82 L275.71 115.28 L276.34 113.76 L276.98 112.27 L277.61 110.81 L278.24 109.4 L278.87 108.04 L279.5 106.74 L280.13 105.5 L280.76 104.34 L281.4 103.27 L282.03 102.28 L282.66 101.39 L283.29 100.6 L283.92 99.91 L284.56 99.34 L285.19 98.88 L285.82 98.53 L286.45 98.31 L287.08 98.21 L287.71 98.23 L288.34 98.4 L288.98 98.71 L289.61 99.16 L290.24 99.76 L290.87 100.48 L291.5 101.33 L292.13 102.31 L292.77 103.39 L293.4 104.59 L294.03 105.88 L294.66 107.25 L295.29 108.71 L295.93 110.23 L296.56 111.8 L297.19 113.43 L297.82 115.09 L298.45 116.77 L299.08 118.47 L299.71 120.18 L300.35 121.89 L300.98 123.58 L301.61 125.25 L302.24 126.9 L302.87 128.51 L303.5 130.08 L304.14 131.61 L304.77 133.08 L305.4 134.5" stroke="#940e3a" stroke-width="2.0" fill="none" stroke-linejoin="round"/>
<path d="M267.5 134.5 L268.13 133.23 L268.76 131.92 L269.39 130.57 L270.03 129.18 L270.66 127.75 L271.29 126.29 L271.92 124.81 L272.55 123.3 L273.19 121.79 L273.82 120.26 L274.45 118.74 L275.08 117.21 L275.71 115.71 L276.34 114.22 L276.98 112.76 L277.61 111.33 L278.24 109.95 L278.87 108.62 L279.5 107.35 L280.13 106.14 L280.76 105.01 L281.4 103.96 L282.03 102.99 L282.66 102.12 L283.29 101.35 L283.92 100.68 L284.56 100.11 L285.19 99.66 L285.82 99.33 L286.45 99.11 L287.08 99.01 L287.71 99.03 L288.34 99.19 L288.98 99.5 L289.61 99.94 L290.24 100.52 L290.87 101.23 L291.5 102.06 L292.13 103.02 L292.77 104.08 L293.4 105.25 L294.03 106.51 L294.66 107.85 L295.29 109.27 L295.93 110.76 L296.56 112.3 L297.19 113.89 L297.82 115.52 L298.45 117.16 L299.08 118.83 L299.71 120.5 L300.35 122.17 L300.98 123.82 L301.61 125.46 L302.24 127.07 L302.87 128.64 L303.5 130.18 L304.14 131.67 L304.77 133.11 L305.4 134.5" stroke="#940e3a" stroke-width="4.0" fill="none" stroke-dasharray="7 4" stroke-linejoin="round"/>
<text x="269" y="90.4" font-size="10" font-weight="bold" fill="#940e3a" text-anchor="start" >F<tspan font-size="7.5" dy="2">f2</tspan><tspan dy="-2"> &amp; F</tspan><tspan font-size="7.5" dy="2">f2</tspan><tspan dy="-2">+ΔF</tspan><tspan font-size="7.5" dy="2">f2</tspan></text>
<line x1="268.7" y1="168.7" x2="268.7" y2="213.6" stroke="#222" stroke-width="1.2" />
<line x1="268.7" y1="213.6" x2="305.5" y2="213.6" stroke="#222" stroke-width="1.2" />
<line x1="265.7" y1="168.7" x2="268.7" y2="168.7" stroke="#222" stroke-width="1.2" />
<line x1="265.7" y1="213.6" x2="268.7" y2="213.6" stroke="#222" stroke-width="1.2" />
<line x1="268.7" y1="213.6" x2="268.7" y2="216.6" stroke="#222" stroke-width="1.2" />
<line x1="304.5" y1="213.6" x2="304.5" y2="216.6" stroke="#222" stroke-width="1.2" />
<text x="268.7" y="230.8" font-size="11" font-weight="normal" fill="#2a2a2a" text-anchor="middle" >870</text>
<text x="304.5" y="230.8" font-size="11" font-weight="normal" fill="#2a2a2a" text-anchor="middle" >920</text>
<text x="259.3" y="172.6" font-size="11" font-weight="normal" fill="#2a2a2a" text-anchor="end" >10</text>
<text x="259.3" y="217.5" font-size="11" font-weight="normal" fill="#2a2a2a" text-anchor="end" >5</text>
<path d="M269.3 213.6 L269.89 212.11 L270.49 210.58 L271.08 209.01 L271.67 207.41 L272.27 205.77 L272.86 204.1 L273.45 202.42 L274.05 200.72 L274.64 199.02 L275.23 197.32 L275.83 195.62 L276.42 193.95 L277.01 192.29 L277.61 190.67 L278.2 189.09 L278.79 187.56 L279.39 186.09 L279.98 184.69 L280.57 183.36 L281.17 182.11 L281.76 180.95 L282.35 179.88 L282.95 178.92 L283.54 178.07 L284.13 177.34 L284.73 176.72 L285.32 176.22 L285.91 175.86 L286.51 175.62 L287.1 175.51 L287.69 175.53 L288.29 175.69 L288.88 175.98 L289.47 176.41 L290.07 176.97 L290.66 177.66 L291.25 178.47 L291.85 179.39 L292.44 180.43 L293.03 181.57 L293.63 182.81 L294.22 184.13 L294.81 185.54 L295.41 187.02 L296 188.57 L296.59 190.17 L297.19 191.81 L297.78 193.49 L298.37 195.2 L298.97 196.93 L299.56 198.67 L300.15 200.41 L300.75 202.15 L301.34 203.88 L301.93 205.58 L302.53 207.26 L303.12 208.91 L303.71 210.51 L304.31 212.08 L304.9 213.6" stroke="#1c2cc0" stroke-width="2.0" fill="none" stroke-linejoin="round"/>
<path d="M269.3 213.6 L269.89 212.15 L270.49 210.65 L271.08 209.11 L271.67 207.54 L272.27 205.93 L272.86 204.3 L273.45 202.66 L274.05 200.99 L274.64 199.33 L275.23 197.66 L275.83 196 L276.42 194.36 L277.01 192.74 L277.61 191.15 L278.2 189.61 L278.79 188.11 L279.39 186.67 L279.98 185.29 L280.57 183.99 L281.17 182.77 L281.76 181.63 L282.35 180.59 L282.95 179.65 L283.54 178.82 L284.13 178.1 L284.73 177.49 L285.32 177.01 L285.91 176.65 L286.51 176.41 L287.1 176.31 L287.69 176.33 L288.29 176.49 L288.88 176.77 L289.47 177.19 L290.07 177.74 L290.66 178.41 L291.25 179.2 L291.85 180.11 L292.44 181.12 L293.03 182.24 L293.63 183.45 L294.22 184.75 L294.81 186.13 L295.41 187.58 L296 189.09 L296.59 190.66 L297.19 192.27 L297.78 193.92 L298.37 195.59 L298.97 197.28 L299.56 198.99 L300.15 200.69 L300.75 202.39 L301.34 204.08 L301.93 205.75 L302.53 207.39 L303.12 209 L303.71 210.58 L304.31 212.11 L304.9 213.6" stroke="#1c2cc0" stroke-width="4.0" fill="none" stroke-dasharray="7 4" stroke-linejoin="round"/>
<text x="270.5" y="168.7" font-size="10" font-weight="bold" fill="#1c2cc0" text-anchor="start" >F<tspan font-size="7.5" dy="2">s2</tspan><tspan dy="-2"> &amp; F</tspan><tspan font-size="7.5" dy="2">s2</tspan><tspan dy="-2">+ΔF</tspan><tspan font-size="7.5" dy="2">s2</tspan></text>
<text transform="translate(1.8,313.5)" font-size="24" font-weight="bold">B</text>
<line x1="68.3" y1="321.5" x2="68.3" y2="528.5" stroke="#000" stroke-width="1.3" />
<line x1="64.6" y1="322" x2="68.3" y2="322" stroke="#000" stroke-width="1.3" />
<text x="57.8" y="326.1" font-size="11.5" font-weight="normal" fill="#111" text-anchor="end" >0.5</text>
<line x1="64.6" y1="373.5" x2="68.3" y2="373.5" stroke="#000" stroke-width="1.3" />
<text x="57.8" y="377.6" font-size="11.5" font-weight="normal" fill="#111" text-anchor="end" >0.25</text>
<line x1="64.6" y1="425" x2="68.3" y2="425" stroke="#000" stroke-width="1.3" />
<text x="57.8" y="429.1" font-size="11.5" font-weight="normal" fill="#111" text-anchor="end" >0</text>
<line x1="64.6" y1="476.5" x2="68.3" y2="476.5" stroke="#000" stroke-width="1.3" />
<text x="57.8" y="480.6" font-size="11.5" font-weight="normal" fill="#111" text-anchor="end" >-0.25</text>
<line x1="64.6" y1="528" x2="68.3" y2="528" stroke="#000" stroke-width="1.3" />
<text x="57.8" y="532.1" font-size="11.5" font-weight="normal" fill="#111" text-anchor="end" >-0.5</text>
<line x1="68.3" y1="425.1" x2="311.8" y2="425.1" stroke="#000" stroke-width="1.4" />
<line x1="68.2" y1="425" x2="68.2" y2="428.6" stroke="#000" stroke-width="1.4" />
<line x1="149.4" y1="425" x2="149.4" y2="428.6" stroke="#000" stroke-width="1.4" />
<line x1="230.6" y1="425" x2="230.6" y2="428.6" stroke="#000" stroke-width="1.4" />
<line x1="311.8" y1="425" x2="311.8" y2="428.6" stroke="#000" stroke-width="1.4" />
<path d="M68.2 430.67 L68.71 427.19 L69.22 428.21 L69.72 428.01 L70.23 428.14 L70.74 430.51 L71.25 429.49 L71.75 429.07 L72.26 429.7 L72.77 428.94 L73.28 429.54 L73.78 426.85 L74.29 427.22 L74.8 430.04 L75.31 430.21 L75.81 427.81 L76.32 427.03 L76.83 430.76 L77.34 426.31 L77.84 428.49 L78.35 425.96 L78.86 430.02 L79.37 424.35 L79.87 425.29 L80.38 422.84 L80.89 417.32 L81.4 411.66 L81.9 409.48 L82.41 403.45 L82.92 393.47 L83.43 394.8 L83.93 383.92 L84.44 379.8 L84.95 375.09 L85.46 368.83 L85.96 371.26 L86.47 369.93 L86.98 369.61 L87.48 368.69 L87.99 372.32 L88.5 372.23 L89.01 380.88 L89.52 383.86 L90.02 388.54 L90.53 387.31 L91.04 389.5 L91.55 397.1 L92.05 395.13 L92.56 394.22 L93.07 396.27 L93.58 401.58 L94.08 405.01 L94.59 408.4 L95.1 404.65 L95.61 408.88 L96.11 408.02 L96.62 410.75 L97.13 412.44 L97.64 414.01 L98.14 414.67 L98.65 417.89 L99.16 415.29 L99.67 415.88 L100.17 417.48 L100.68 420.32 L101.19 420.37 L101.7 420.1 L102.2 421.67 L102.71 419.53 L103.22 419.34 L103.73 428.15 L104.23 425.74 L104.74 426.45 L105.25 423.47 L105.75 426.13 L106.26 425.51 L106.77 429.42 L107.28 430.66 L107.78 430.06 L108.29 433.57 L108.8 433.08 L109.31 431.6 L109.81 429.93 L110.32 436.91 L110.83 436.66 L111.34 433.89 L111.84 435.21 L112.35 437.58 L112.86 436.8 L113.37 441.34 L113.88 438.81 L114.38 438.04 L114.89 444.65 L115.4 439.89 L115.91 441.43 L116.41 440.26 L116.92 439.16 L117.43 448.48 L117.94 443.26 L118.44 443.9 L118.95 443.06 L119.46 446.12 L119.97 445.97 L120.47 442.9 L120.98 446.15 L121.49 442.56 L122 446.07 L122.5 448.92 L123.01 448.06 L123.52 449.49 L124.03 449.16 L124.53 450.5 L125.04 448.56 L125.55 450.3 L126.06 455.49 L126.56 453.4 L127.07 450.73 L127.58 449.72 L128.09 452.53 L128.59 453.79 L129.1 455.49 L129.61 456.53 L130.12 459.06 L130.62 455.91 L131.13 455.67 L131.64 454.11 L132.15 457.56 L132.65 458 L133.16 456.68 L133.67 457.2 L134.18 456.06 L134.68 460.09 L135.19 461.03 L135.7 457.99 L136.21 459.88 L136.71 459.92 L137.22 460.62 L137.73 462.57 L138.24 460.58 L138.74 462.25 L139.25 460.28 L139.76 461.32 L140.27 461.39 L140.77 462.1 L141.28 463.03 L141.79 463.25 L142.3 463.78 L142.8 465.18 L143.31 463.93 L143.82 462.54 L144.32 465.59 L144.83 466.37 L145.34 466.05 L145.85 467.17 L146.36 467.17 L146.86 470.34 L147.37 468.89 L147.88 474.06 L148.38 469.38 L148.89 469.28 L149.4 466.9 L149.91 468.2 L150.42 467.4 L150.92 462.84 L151.43 468.14 L151.94 472.74 L152.44 463.61 L152.95 466.05 L153.46 465.32 L153.97 468.03 L154.48 471.57 L154.98 464.64 L155.49 466.85 L156 464.9 L156.5 464.34 L157.01 462.79 L157.52 462.92 L158.03 460.8 L158.54 461.11 L159.04 466.4 L159.55 464.6 L160.06 458.38 L160.56 454.9 L161.07 455.62 L161.58 450.79 L162.09 454.43 L162.6 455.38 L163.1 450.65 L163.61 452.72 L164.12 453.2 L164.62 451.78 L165.13 449.97 L165.64 448.7 L166.15 448.96 L166.66 448.75 L167.16 450.36 L167.67 446.9 L168.18 445.55 L168.69 448.06 L169.19 447.7 L169.7 446.89 L170.21 443.75 L170.72 445.33 L171.22 442.73 L171.73 442.89 L172.24 446.15 L172.75 446.06 L173.25 443.13 L173.76 444.05 L174.27 444.79 L174.78 444.1 L175.28 441.29 L175.79 441.43 L176.3 442.85 L176.81 441.5 L177.31 440.11 L177.82 436.85 L178.33 437.76 L178.84 441.12 L179.34 441.44 L179.85 439.4 L180.36 437.84 L180.87 438.82 L181.37 438.43 L181.88 438.72 L182.39 436.62 L182.9 440.86 L183.4 441.69 L183.91 438.85 L184.42 437.61 L184.93 433.36 L185.43 437.61 L185.94 440.37 L186.45 436.65 L186.96 434.68 L187.46 436.47 L187.97 436.59 L188.48 436.47 L188.99 435.83 L189.49 434.59 L190 432.82 L190.51 431.94 L191.02 431.77 L191.52 431.31 L192.03 430.01 L192.54 432.21 L193.05 432.35 L193.55 430.54 L194.06 431.33 L194.57 431.63 L195.08 431 L195.58 429.56 L196.09 430.11 L196.6 430.92 L197.11 429.65 L197.61 431.28 L198.12 430.32 L198.63 428.9 L199.13 429.53 L199.64 427.4 L200.15 426.38 L200.66 427.78 L201.17 421.14 L201.67 422.78 L202.18 418.51 L202.69 418.33 L203.19 417.81 L203.7 410.64 L204.21 409.85 L204.72 400.61 L205.23 394.38 L205.73 388.25 L206.24 383.4 L206.75 376.92 L207.25 373.07 L207.76 369.67 L208.27 371.24 L208.78 371.95 L209.29 372.99 L209.79 375.77 L210.3 378.84 L210.81 384.63 L211.31 384.25 L211.82 386.55 L212.33 392.3 L212.84 391.18 L213.35 393.14 L213.85 396.15 L214.36 398.26 L214.87 398.64 L215.38 404.73 L215.88 404.64 L216.39 404 L216.9 407.65 L217.41 412.63 L217.91 412.19 L218.42 409.83 L218.93 414.51 L219.44 414.81 L219.94 415.1 L220.45 416.05 L220.96 418.44 L221.47 419.75 L221.97 422.43 L222.48 422.54 L222.99 422.33 L223.5 420.45 L224 427.39 L224.51 430.11 L225.02 428.26 L225.53 425.76 L226.03 424.71 L226.54 428.26 L227.05 431.32 L227.56 429.86 L228.06 428.91 L228.57 433.22 L229.08 431.38 L229.59 436.38 L230.09 433.58 L230.6 434.95 L231.11 441.53 L231.62 439.27 L232.12 438.15 L232.63 437.73 L233.14 438.3 L233.65 440.97 L234.15 441.41 L234.66 441.22 L235.17 441.21 L235.68 440.71 L236.18 445.1 L236.69 442.18 L237.2 441.59 L237.71 442.02 L238.21 440.81 L238.72 445.42 L239.23 443.93 L239.74 446.87 L240.24 447.85 L240.75 446.73 L241.26 444.91 L241.76 449.18 L242.27 449.36 L242.78 449.66 L243.29 450.69 L243.8 448.65 L244.3 450.63 L244.81 447.88 L245.32 453.13 L245.82 448.94 L246.33 449.42 L246.84 452.64 L247.35 451.7 L247.86 452.52 L248.36 454.27 L248.87 454.29 L249.38 457.54 L249.88 456.01 L250.39 453.77 L250.9 460.85 L251.41 456.79 L251.92 457.48 L252.42 458.21 L252.93 459.61 L253.44 461.36 L253.94 456.7 L254.45 467.69 L254.96 460.13 L255.47 460.67 L255.98 460.65 L256.48 461.28 L256.99 464.19 L257.5 461.75 L258 459.8 L258.51 464.85 L259.02 465.33 L259.53 464.24 L260.04 465.18 L260.54 466.54 L261.05 465.19 L261.56 466.42 L262.06 464.73 L262.57 467.04 L263.08 466.12 L263.59 464.57 L264.1 465.15 L264.6 468.86 L265.11 471.3 L265.62 469.54 L266.12 469.08 L266.63 467.99 L267.14 468.29 L267.65 472.12 L268.16 467.5 L268.66 473.62 L269.17 473.55 L269.68 470.09 L270.19 469.88 L270.69 472.18 L271.2 468.39 L271.71 472.15 L272.22 468.98 L272.72 468.19 L273.23 470.86 L273.74 473.29 L274.25 473.96 L274.75 473.33 L275.26 467.39 L275.77 469.84 L276.28 468.79 L276.78 474.44 L277.29 471.33 L277.8 470.89 L278.31 469.94 L278.81 473.52 L279.32 472.42 L279.83 473.76 L280.34 470.86 L280.84 469.71 L281.35 465.58 L281.86 470.07 L282.37 468.81 L282.87 463.2 L283.38 465.63 L283.89 463.24 L284.4 464.73 L284.9 462.8 L285.41 459.35 L285.92 462.1 L286.43 460.39 L286.93 461.07 L287.44 459.87 L287.95 459.41 L288.46 455.85 L288.96 459.07 L289.47 457.36 L289.98 460.58 L290.49 455.61 L290.99 455.23 L291.5 453.25 L292.01 450.72 L292.52 454.65 L293.02 451.51 L293.53 451.97 L294.04 452.35 L294.55 451.07 L295.05 450.02 L295.56 450.7 L296.07 446.67 L296.58 447.16 L297.08 450.11 L297.59 449.91 L298.1 448.65 L298.61 450.43 L299.11 445.83 L299.62 448.72 L300.13 446.06 L300.63 446.92 L301.14 447.84 L301.65 446.68 L302.16 445.65 L302.67 445.49 L303.17 444.33 L303.68 444.23 L304.19 444.72 L304.69 441.01 L305.2 442.32 L305.71 445.97 L306.22 443.51 L306.73 443.58 L307.23 441.16 L307.74 442.65 L308.25 444.03 L308.75 448.11 L309.26 443.34 L309.77 441.81 L310.28 440.95 L310.79 443.36 L311.29 441.06 L311.8 437.88" stroke="#5a1ee0" stroke-width="1.6" fill="none" stroke-linejoin="round"/>
<path d="M68.2 425.65 L68.71 424.94 L69.22 425.62 L69.72 425.7 L70.23 426.27 L70.74 425.61 L71.25 424.38 L71.75 425.02 L72.26 424.45 L72.77 425.18 L73.28 425.05 L73.78 425.24 L74.29 426.96 L74.8 424.62 L75.31 424.94 L75.81 424.91 L76.32 426.72 L76.83 426.43 L77.34 425.25 L77.84 424.33 L78.35 422.92 L78.86 422.38 L79.37 420.71 L79.87 420.28 L80.38 417.5 L80.89 414.83 L81.4 412.29 L81.9 405.8 L82.41 401.29 L82.92 393.39 L83.43 387.5 L83.93 379.57 L84.44 371.83 L84.95 364.85 L85.46 358.33 L85.96 353.65 L86.47 350.53 L86.98 348.06 L87.48 345.26 L87.99 341.74 L88.5 342.42 L89.01 340.56 L89.52 340.07 L90.02 341.68 L90.53 340.11 L91.04 338.84 L91.55 341.85 L92.05 340.23 L92.56 340.02 L93.07 340.68 L93.58 339.47 L94.08 340 L94.59 341.32 L95.1 339.22 L95.61 339.39 L96.11 339.16 L96.62 338.73 L97.13 339.77 L97.64 340.04 L98.14 341.44 L98.65 339.79 L99.16 341.1 L99.67 341.16 L100.17 342.14 L100.68 342.1 L101.19 341.95 L101.7 340.51 L102.2 343.84 L102.71 343.54 L103.22 342.19 L103.73 341.3 L104.23 342.34 L104.74 344.88 L105.25 345.7 L105.75 343.28 L106.26 344.56 L106.77 345.19 L107.28 343.54 L107.78 343.72 L108.29 344.91 L108.8 345.17 L109.31 345.35 L109.81 344.66 L110.32 345.96 L110.83 346.46 L111.34 346.85 L111.84 349.24 L112.35 347.04 L112.86 347.78 L113.37 348.62 L113.88 351.38 L114.38 350.58 L114.89 349.65 L115.4 352.54 L115.91 351.46 L116.41 350.77 L116.92 353.37 L117.43 351.09 L117.94 352.51 L118.44 353.61 L118.95 353.61 L119.46 353.77 L119.97 354.72 L120.47 354.25 L120.98 356.41 L121.49 356.68 L122 355.84 L122.5 357.31 L123.01 358.69 L123.52 357.55 L124.03 357.65 L124.53 360 L125.04 361.47 L125.55 360.93 L126.06 361.56 L126.56 362.34 L127.07 361.4 L127.58 364.31 L128.09 362.85 L128.59 365.87 L129.1 366.1 L129.61 365.47 L130.12 365.7 L130.62 366.65 L131.13 367.82 L131.64 368.72 L132.15 369.43 L132.65 369.76 L133.16 371.19 L133.67 371.51 L134.18 371.99 L134.68 373.29 L135.19 373.36 L135.7 374.33 L136.21 373.79 L136.71 376.17 L137.22 377.69 L137.73 378.47 L138.24 378.99 L138.74 378.99 L139.25 381.04 L139.76 381.28 L140.27 380.87 L140.77 385.91 L141.28 385.56 L141.79 385.29 L142.3 386.16 L142.8 387.33 L143.31 388.97 L143.82 388.98 L144.32 390.34 L144.83 392.1 L145.34 390.35 L145.85 393.26 L146.36 395.08 L146.86 395.65 L147.37 396.78 L147.88 397.65 L148.38 401.19 L148.89 400.21 L149.4 399.96 L149.91 403.18 L150.42 403.4 L150.92 403.75 L151.43 405.17 L151.94 405.95 L152.44 410.31 L152.95 410.49 L153.46 411.93 L153.97 412.54 L154.48 413.7 L154.98 418.83 L155.49 416.96 L156 420.9 L156.5 420.46 L157.01 424.17 L157.52 424.12 L158.03 424 L158.54 425.71 L159.04 425.73 L159.55 425.29 L160.06 425.9 L160.56 426.11 L161.07 424.61 L161.58 425.06 L162.09 426.3 L162.6 423.49 L163.1 427.09 L163.61 425.18 L164.12 426.28 L164.62 425.91 L165.13 425.38 L165.64 425.82 L166.15 425.44 L166.66 427.45 L167.16 427.43 L167.67 425.46 L168.18 426.92 L168.69 426.98 L169.19 427.39 L169.7 424.86 L170.21 425.34 L170.72 424.66 L171.22 426.9 L171.73 426.03 L172.24 427.09 L172.75 425.32 L173.25 424.56 L173.76 426.86 L174.27 424.58 L174.78 425.11 L175.28 426.19 L175.79 427.86 L176.3 424.73 L176.81 426.12 L177.31 426.59 L177.82 425.66 L178.33 425.65 L178.84 424.64 L179.34 426.98 L179.85 424.98 L180.36 424.65 L180.87 424.68 L181.37 426.2 L181.88 426.72 L182.39 425.09 L182.9 425.92 L183.4 425.91 L183.91 424.71 L184.42 426.27 L184.93 428.16 L185.43 426.39 L185.94 427.75 L186.45 425.27 L186.96 425.74 L187.46 426.6 L187.97 426.04 L188.48 425.26 L188.99 425.96 L189.49 424.8 L190 426.09 L190.51 424.45 L191.02 424.03 L191.52 423.92 L192.03 426.03 L192.54 424.6 L193.05 427.15 L193.55 426.42 L194.06 427.23 L194.57 424.42 L195.08 426.55 L195.58 425.42 L196.09 425.59 L196.6 425.44 L197.11 425.96 L197.61 425.2 L198.12 423.68 L198.63 425.05 L199.13 424.24 L199.64 423.41 L200.15 423.95 L200.66 424.21 L201.17 422.66 L201.67 419.93 L202.18 420.86 L202.69 417.91 L203.19 413.63 L203.7 410.15 L204.21 406.45 L204.72 399.68 L205.23 392.82 L205.73 386.43 L206.24 378.78 L206.75 370.7 L207.25 362.64 L207.76 358.36 L208.27 353.86 L208.78 350.19 L209.29 348.08 L209.79 344.45 L210.3 343.69 L210.81 341.12 L211.31 342.87 L211.82 340.12 L212.33 340.86 L212.84 341.94 L213.35 339.37 L213.85 340.22 L214.36 342 L214.87 340.73 L215.38 339.66 L215.88 340.36 L216.39 339.23 L216.9 339.27 L217.41 339.37 L217.91 339.71 L218.42 338.81 L218.93 339.47 L219.44 339.69 L219.94 342.09 L220.45 339.43 L220.96 339.18 L221.47 340.85 L221.97 341.22 L222.48 339.21 L222.99 342.88 L223.5 341.07 L224 339.51 L224.51 342.86 L225.02 341.59 L225.53 340.71 L226.03 342.8 L226.54 342.4 L227.05 342.33 L227.56 344.25 L228.06 343.75 L228.57 343.66 L229.08 343.45 L229.59 344.53 L230.09 344.98 L230.6 346.07 L231.11 345.8 L231.62 345 L232.12 346.12 L232.63 347.4 L233.14 347.8 L233.65 344.97 L234.15 346.82 L234.66 347.72 L235.17 351.16 L235.68 348.62 L236.18 349.19 L236.69 348.52 L237.2 350.12 L237.71 351.01 L238.21 350.89 L238.72 353.61 L239.23 351.28 L239.74 352.37 L240.24 353.76 L240.75 352.33 L241.26 352.33 L241.76 355.76 L242.27 355.55 L242.78 355.14 L243.29 355.73 L243.8 356.77 L244.3 357.81 L244.81 355.47 L245.32 357.02 L245.82 359.65 L246.33 360.37 L246.84 358.13 L247.35 359.39 L247.86 359.24 L248.36 360.8 L248.87 363 L249.38 362.59 L249.88 365.49 L250.39 364.85 L250.9 364.88 L251.41 365.02 L251.92 366.87 L252.42 367 L252.93 367.16 L253.44 367.94 L253.94 368.4 L254.45 369.52 L254.96 370.74 L255.47 370.44 L255.98 371.87 L256.48 373.44 L256.99 374.03 L257.5 374.22 L258 375.12 L258.51 375.67 L259.02 376.63 L259.53 377.29 L260.04 378.42 L260.54 380.32 L261.05 379.63 L261.56 379.93 L262.06 381.42 L262.57 382.94 L263.08 383.32 L263.59 385.61 L264.1 387.48 L264.6 386.68 L265.11 388.62 L265.62 388.09 L266.12 390.8 L266.63 393.24 L267.14 392.77 L267.65 391.34 L268.16 394.14 L268.66 396.04 L269.17 396.47 L269.68 396.29 L270.19 397.35 L270.69 398.71 L271.2 398.6 L271.71 400.48 L272.22 402.36 L272.72 403.04 L273.23 403.36 L273.74 405.34 L274.25 406.66 L274.75 410.02 L275.26 410.59 L275.77 411.23 L276.28 413.71 L276.78 414.05 L277.29 416.12 L277.8 417.45 L278.31 420.06 L278.81 419.07 L279.32 421.97 L279.83 424.71 L280.34 425.12 L280.84 423.25 L281.35 426.27 L281.86 425.22 L282.37 425.12 L282.87 426.02 L283.38 427.11 L283.89 425.86 L284.4 425.7 L284.9 424.98 L285.41 425.3 L285.92 426.01 L286.43 425.24 L286.93 425.53 L287.44 425.84 L287.95 425.98 L288.46 426.26 L288.96 425.39 L289.47 427.01 L289.98 426.61 L290.49 426.03 L290.99 427.39 L291.5 426.43 L292.01 427.89 L292.52 426.66 L293.02 425.5 L293.53 425.5 L294.04 426.08 L294.55 426.25 L295.05 427.34 L295.56 424.34 L296.07 425.55 L296.58 425.02 L297.08 426.85 L297.59 426.2 L298.1 427.72 L298.61 425.31 L299.11 425.16 L299.62 427.79 L300.13 426.08 L300.63 425.45 L301.14 427.66 L301.65 427.72 L302.16 427.02 L302.67 426.61 L303.17 427.33 L303.68 426 L304.19 425.8 L304.69 425.44 L305.2 425.38 L305.71 424.64 L306.22 424.95 L306.73 427.25 L307.23 426.5 L307.74 427.01 L308.25 427.03 L308.75 426.11 L309.26 426.02 L309.77 425.58 L310.28 427.5 L310.79 427.18 L311.29 426.05 L311.8 426.21" stroke="#e41a1a" stroke-width="1.9" fill="none" stroke-linejoin="round"/>
<path d="M68.2 425.98 L68.71 425.79 L69.22 426.09 L69.72 425.28 L70.23 425.4 L70.74 425.58 L71.25 425.83 L71.75 425.53 L72.26 426.8 L72.77 425.85 L73.28 425.28 L73.78 426.03 L74.29 425.11 L74.8 425.08 L75.31 425.82 L75.81 425.19 L76.32 425.16 L76.83 424.69 L77.34 424.53 L77.84 424.78 L78.35 425.12 L78.86 424.7 L79.37 424.62 L79.87 424.22 L80.38 424.52 L80.89 425.16 L81.4 425.65 L81.9 425.52 L82.41 426.59 L82.92 427.93 L83.43 428.65 L83.93 430.27 L84.44 431.66 L84.95 433.47 L85.46 436.35 L85.96 438.29 L86.47 443.74 L86.98 447.41 L87.48 452.2 L87.99 455.75 L88.5 461.85 L89.01 465.27 L89.52 468.66 L90.02 471.74 L90.53 473.48 L91.04 476.94 L91.55 478.68 L92.05 480.99 L92.56 482.76 L93.07 484.69 L93.58 486.58 L94.08 487.65 L94.59 489.8 L95.1 489.91 L95.61 492.25 L96.11 492.75 L96.62 492.88 L97.13 495.12 L97.64 495.99 L98.14 496.33 L98.65 497.81 L99.16 499.08 L99.67 499.32 L100.17 499.91 L100.68 500.55 L101.19 502.01 L101.7 501.4 L102.2 502.12 L102.71 503.64 L103.22 504.16 L103.73 505.15 L104.23 504.82 L104.74 506.51 L105.25 506.37 L105.75 507.51 L106.26 508.13 L106.77 507.89 L107.28 508.02 L107.78 509.13 L108.29 509.85 L108.8 509.42 L109.31 510.15 L109.81 510.21 L110.32 509.79 L110.83 510.18 L111.34 511.22 L111.84 509.96 L112.35 511.31 L112.86 511.08 L113.37 511.98 L113.88 511.82 L114.38 512.85 L114.89 511.16 L115.4 511.51 L115.91 512.95 L116.41 513.2 L116.92 513.35 L117.43 511.99 L117.94 512.89 L118.44 512.74 L118.95 512.9 L119.46 512.82 L119.97 513.32 L120.47 512.74 L120.98 513.48 L121.49 512.77 L122 512.55 L122.5 512.45 L123.01 512.78 L123.52 513.1 L124.03 512.52 L124.53 512.82 L125.04 511.72 L125.55 512.09 L126.06 512.5 L126.56 512.64 L127.07 512.71 L127.58 512.75 L128.09 512.34 L128.59 511.85 L129.1 511.55 L129.61 511.31 L130.12 510.29 L130.62 511.48 L131.13 510.85 L131.64 509.14 L132.15 511.27 L132.65 510.28 L133.16 509.6 L133.67 509.24 L134.18 508.72 L134.68 508.63 L135.19 507.88 L135.7 507.58 L136.21 506.73 L136.71 507.61 L137.22 506.6 L137.73 505.64 L138.24 505.67 L138.74 505.14 L139.25 503.71 L139.76 503.78 L140.27 502.51 L140.77 501.83 L141.28 501.43 L141.79 500.69 L142.3 500.39 L142.8 500.45 L143.31 499.15 L143.82 498.35 L144.32 498.35 L144.83 497.62 L145.34 496.68 L145.85 496.99 L146.36 495.64 L146.86 494.38 L147.37 494.92 L147.88 493.76 L148.38 492.92 L148.89 490.86 L149.4 490.15 L149.91 488.41 L150.42 487.75 L150.92 485.9 L151.43 484.26 L151.94 483.45 L152.44 480 L152.95 478.46 L153.46 477.96 L153.97 474.72 L154.48 473.18 L154.98 470.92 L155.49 469.1 L156 468.27 L156.5 465.83 L157.01 463.22 L157.52 462.65 L158.03 461.37 L158.54 460.2 L159.04 458.89 L159.55 456.94 L160.06 455.16 L160.56 454.79 L161.07 453.9 L161.58 451.94 L162.09 452.44 L162.6 451.64 L163.1 450.17 L163.61 449.33 L164.12 449.34 L164.62 448.66 L165.13 447.18 L165.64 446.5 L166.15 446.62 L166.66 445.39 L167.16 444.92 L167.67 443.77 L168.18 443.47 L168.69 442.89 L169.19 442.5 L169.7 441.29 L170.21 440.68 L170.72 441.19 L171.22 440.21 L171.73 440.7 L172.24 439.96 L172.75 439.31 L173.25 438.61 L173.76 439.29 L174.27 438.83 L174.78 438.36 L175.28 438.91 L175.79 437.8 L176.3 437.82 L176.81 436.95 L177.31 437.39 L177.82 437.5 L178.33 436.15 L178.84 435.73 L179.34 435.85 L179.85 434.82 L180.36 435.14 L180.87 435.03 L181.37 434.2 L181.88 434.99 L182.39 434.27 L182.9 433.67 L183.4 432.97 L183.91 433.24 L184.42 432.75 L184.93 433.01 L185.43 432.28 L185.94 431.35 L186.45 432.34 L186.96 430.54 L187.46 431.88 L187.97 431.32 L188.48 431.04 L188.99 430.4 L189.49 431.38 L190 431.64 L190.51 430.08 L191.02 429.83 L191.52 429.77 L192.03 428.6 L192.54 429.71 L193.05 429.55 L193.55 429.06 L194.06 429.19 L194.57 428.37 L195.08 429.69 L195.58 429.07 L196.09 430.47 L196.6 428.09 L197.11 428.51 L197.61 427.63 L198.12 426.78 L198.63 427.66 L199.13 427.53 L199.64 427.38 L200.15 427.22 L200.66 426.7 L201.17 425.59 L201.67 425.43 L202.18 424.97 L202.69 424.87 L203.19 424.48 L203.7 425.09 L204.21 426.33 L204.72 427.11 L205.23 428.81 L205.73 430.81 L206.24 431.24 L206.75 433.85 L207.25 437.08 L207.76 439.51 L208.27 444.14 L208.78 449.7 L209.29 452.52 L209.79 457.41 L210.3 461.59 L210.81 466.37 L211.31 470.62 L211.82 474.73 L212.33 476.17 L212.84 479.18 L213.35 481.66 L213.85 483.45 L214.36 485.54 L214.87 487 L215.38 489.15 L215.88 490.45 L216.39 492.92 L216.9 493.35 L217.41 494.05 L217.91 494.9 L218.42 496.92 L218.93 497.87 L219.44 498.02 L219.94 499.98 L220.45 500.35 L220.96 500.74 L221.47 502.41 L221.97 502.58 L222.48 504.32 L222.99 504.57 L223.5 505.43 L224 506.04 L224.51 506.21 L225.02 506.24 L225.53 508.47 L226.03 509.07 L226.54 509.13 L227.05 510.53 L227.56 510.29 L228.06 510.79 L228.57 511.73 L229.08 511.78 L229.59 513.29 L230.09 512.49 L230.6 514.02 L231.11 513.89 L231.62 514.07 L232.12 514.21 L232.63 513.76 L233.14 514.35 L233.65 514.79 L234.15 514.49 L234.66 514.13 L235.17 515.11 L235.68 515.08 L236.18 514.79 L236.69 515.43 L237.2 516.36 L237.71 514.53 L238.21 514.79 L238.72 517.04 L239.23 516.12 L239.74 515.95 L240.24 515.72 L240.75 515.9 L241.26 516.4 L241.76 516.81 L242.27 516.21 L242.78 515.72 L243.29 516.8 L243.8 516.75 L244.3 516.21 L244.81 517.17 L245.32 516.28 L245.82 516.33 L246.33 515.84 L246.84 516.39 L247.35 516.44 L247.86 516.14 L248.36 515.92 L248.87 516.18 L249.38 515.75 L249.88 515.25 L250.39 514.87 L250.9 514.41 L251.41 515.47 L251.92 515.04 L252.42 515.84 L252.93 513.31 L253.44 514.38 L253.94 513.74 L254.45 513.15 L254.96 513.77 L255.47 512.46 L255.98 512.3 L256.48 512.79 L256.99 511.24 L257.5 510.29 L258 511.37 L258.51 509.49 L259.02 509.28 L259.53 508.62 L260.04 508.11 L260.54 507.11 L261.05 507.31 L261.56 506.13 L262.06 506.16 L262.57 504.93 L263.08 505.07 L263.59 504.05 L264.1 502.46 L264.6 502.48 L265.11 502.18 L265.62 502.12 L266.12 501.4 L266.63 500.37 L267.14 499.46 L267.65 499.18 L268.16 498.54 L268.66 498.18 L269.17 496.73 L269.68 496.79 L270.19 495.84 L270.69 493.86 L271.2 492.89 L271.71 492.03 L272.22 491.11 L272.72 489.87 L273.23 488.32 L273.74 487.31 L274.25 486.9 L274.75 484.8 L275.26 483.63 L275.77 482.92 L276.28 480.68 L276.78 479.88 L277.29 478.51 L277.8 476.49 L278.31 474.77 L278.81 474.36 L279.32 472.37 L279.83 471.7 L280.34 468.75 L280.84 468.89 L281.35 466.73 L281.86 466.42 L282.37 464.44 L282.87 462.54 L283.38 463.89 L283.89 461.78 L284.4 460.36 L284.9 459.76 L285.41 459.21 L285.92 456.94 L286.43 457.23 L286.93 457.37 L287.44 455.36 L287.95 455.98 L288.46 453.81 L288.96 454.03 L289.47 453 L289.98 451.78 L290.49 451.75 L290.99 451.91 L291.5 451.47 L292.01 449.41 L292.52 449.07 L293.02 449.32 L293.53 447.93 L294.04 447.6 L294.55 447.02 L295.05 448.02 L295.56 446.53 L296.07 445.43 L296.58 445.04 L297.08 444.51 L297.59 445.78 L298.1 444 L298.61 443.42 L299.11 441.96 L299.62 443.4 L300.13 442.72 L300.63 442.21 L301.14 441.47 L301.65 441.87 L302.16 440.79 L302.67 441.53 L303.17 440.75 L303.68 440.93 L304.19 440.35 L304.69 440.57 L305.2 440.82 L305.71 439.22 L306.22 439.41 L306.73 439.63 L307.23 439 L307.74 438.36 L308.25 439.13 L308.75 438.44 L309.26 437.87 L309.77 437.63 L310.28 437.83 L310.79 438.5 L311.29 436.54 L311.8 436.78" stroke="#2290e6" stroke-width="1.9" fill="none" stroke-linejoin="round"/>
<path d="M68.2 426.22 L68.71 426.43 L69.22 425.87 L69.72 426.45 L70.23 426.95 L70.74 426.63 L71.25 426.45 L71.75 426.42 L72.26 426.88 L72.77 425.17 L73.28 426.93 L73.78 425.06 L74.29 426.56 L74.8 425.25 L75.31 424.25 L75.81 425.24 L76.32 425.82 L76.83 424.7 L77.34 424.14 L77.84 425.27 L78.35 423.45 L78.86 421.82 L79.37 421.22 L79.87 419.21 L80.38 416.78 L80.89 414.27 L81.4 410.8 L81.9 407.18 L82.41 403.28 L82.92 396.88 L83.43 390.77 L83.93 384.19 L84.44 378.4 L84.95 375.08 L85.46 370.36 L85.96 368.38 L86.47 369.59 L86.98 370.17 L87.48 371.56 L87.99 374.35 L88.5 375.37 L89.01 383.09 L89.52 384.45 L90.02 389.04 L90.53 388.94 L91.04 389.7 L91.55 396.64 L92.05 396.2 L92.56 397.69 L93.07 400.16 L93.58 400.92 L94.08 404.94 L94.59 403.42 L95.1 405.15 L95.61 406.71 L96.11 408.46 L96.62 408.45 L97.13 410.56 L97.64 410.94 L98.14 412.64 L98.65 415.27 L99.16 414.22 L99.67 415.01 L100.17 415.47 L100.68 417.94 L101.19 418.1 L101.7 418.44 L102.2 419.8 L102.71 419.68 L103.22 419.87 L103.73 423.42 L104.23 425.21 L104.74 423.47 L105.25 423.66 L105.75 425.02 L106.26 425.9 L106.77 427.99 L107.28 428.81 L107.78 428.04 L108.29 430.4 L108.8 431.91 L109.31 431.81 L109.81 429.2 L110.32 430.32 L110.83 433.34 L111.34 433.99 L111.84 433.71 L112.35 435.23 L112.86 433.93 L113.37 435.83 L113.88 437.36 L114.38 435.73 L114.89 438.05 L115.4 437.86 L115.91 438.63 L116.41 439.44 L116.92 439.37 L117.43 440.82 L117.94 442.39 L118.44 443.22 L118.95 442.83 L119.46 442.83 L119.97 442.61 L120.47 443.01 L120.98 443.02 L121.49 443.91 L122 445.25 L122.5 445.68 L123.01 447.5 L123.52 446.23 L124.03 446.16 L124.53 446.67 L125.04 447.83 L125.55 448.45 L126.06 448 L126.56 449.44 L127.07 449.36 L127.58 450.09 L128.09 450.98 L128.59 450.48 L129.1 452.72 L129.61 452.99 L130.12 453.87 L130.62 454.3 L131.13 452.55 L131.64 452.8 L132.15 454.85 L132.65 454.78 L133.16 454.62 L133.67 455.34 L134.18 455.34 L134.68 457.97 L135.19 457.73 L135.7 457.04 L136.21 456.45 L136.71 458.01 L137.22 459.23 L137.73 459.1 L138.24 459.73 L138.74 460.24 L139.25 458.37 L139.76 460.66 L140.27 460.39 L140.77 458.74 L141.28 460.01 L141.79 461.16 L142.3 462.43 L142.8 461.89 L143.31 461.2 L143.82 462.6 L144.32 462.51 L144.83 464.09 L145.34 464.19 L145.85 465.31 L146.36 465.14 L146.86 464.7 L147.37 467.53 L147.88 466.49 L148.38 466.28 L148.89 466.93 L149.4 466.49 L149.91 465.24 L150.42 463.88 L150.92 464.94 L151.43 464.92 L151.94 466.31 L152.44 462.69 L152.95 464.01 L153.46 463.7 L153.97 464.26 L154.48 462.88 L154.98 463.51 L155.49 462.2 L156 461.62 L156.5 461.79 L157.01 461.52 L157.52 462.42 L158.03 459.63 L158.54 460.68 L159.04 460.85 L159.55 458.31 L160.06 457.77 L160.56 456.97 L161.07 455.39 L161.58 453.85 L162.09 454.3 L162.6 452.45 L163.1 450.15 L163.61 450.01 L164.12 449.99 L164.62 448.97 L165.13 448.47 L165.64 447.7 L166.15 446.3 L166.66 446.4 L167.16 447.89 L167.67 445.06 L168.18 445.26 L168.69 443.27 L169.19 443.91 L169.7 442.73 L170.21 440.41 L170.72 443 L171.22 442.72 L171.73 442.65 L172.24 443.24 L172.75 442.46 L173.25 440.09 L173.76 440.72 L174.27 441.55 L174.78 440.87 L175.28 438.59 L175.79 439.55 L176.3 438.84 L176.81 437.86 L177.31 436.58 L177.82 435.72 L178.33 436.24 L178.84 436.76 L179.34 436.42 L179.85 434.64 L180.36 434.7 L180.87 436.04 L181.37 435.05 L181.88 434.94 L182.39 434.9 L182.9 435.15 L183.4 435.66 L183.91 434.68 L184.42 435.37 L184.93 432.57 L185.43 432.97 L185.94 434.36 L186.45 431.72 L186.96 431.97 L187.46 434.34 L187.97 430.66 L188.48 431.41 L188.99 430.05 L189.49 432.91 L190 431.1 L190.51 430.41 L191.02 430.46 L191.52 430.35 L192.03 429.39 L192.54 431.61 L193.05 431.24 L193.55 431.24 L194.06 430.31 L194.57 430.2 L195.08 429.12 L195.58 429.04 L196.09 429.08 L196.6 429.55 L197.11 429.14 L197.61 427.64 L198.12 427.52 L198.63 427.65 L199.13 427.43 L199.64 425.01 L200.15 426.11 L200.66 423.82 L201.17 421.99 L201.67 421.62 L202.18 418.57 L202.69 418.16 L203.19 413.57 L203.7 411.04 L204.21 409.19 L204.72 402.27 L205.23 397.53 L205.73 389.36 L206.24 384.95 L206.75 379.35 L207.25 374.82 L207.76 373.2 L208.27 372.1 L208.78 373.89 L209.29 374.38 L209.79 376.92 L210.3 379.45 L210.81 385.49 L211.31 385.15 L211.82 389.33 L212.33 393.59 L212.84 394.24 L213.35 396.11 L213.85 397.61 L214.36 401.51 L214.87 400.84 L215.38 404.04 L215.88 403.14 L216.39 406.9 L216.9 407.47 L217.41 409.72 L217.91 411.64 L218.42 410.76 L218.93 412.05 L219.44 412.52 L219.94 414.18 L220.45 416.52 L220.96 418.54 L221.47 418.61 L221.97 419.62 L222.48 420.72 L222.99 420.39 L223.5 421.6 L224 423.11 L224.51 423.64 L225.02 424.84 L225.53 425.39 L226.03 425.76 L226.54 426.42 L227.05 428.78 L227.56 430.36 L228.06 428.43 L228.57 430.42 L229.08 430.24 L229.59 433.51 L230.09 432.99 L230.6 433.33 L231.11 435.34 L231.62 435.1 L232.12 434.54 L232.63 434.81 L233.14 434.94 L233.65 437.83 L234.15 438.94 L234.66 437.77 L235.17 437.99 L235.68 439.29 L236.18 441.27 L236.69 439.92 L237.2 440.48 L237.71 441.25 L238.21 442.75 L238.72 442.54 L239.23 442.6 L239.74 444.35 L240.24 446.03 L240.75 444.5 L241.26 444.82 L241.76 445.72 L242.27 445.37 L242.78 447.2 L243.29 447.21 L243.8 447.9 L244.3 447.58 L244.81 447.13 L245.32 449.36 L245.82 447.75 L246.33 448.77 L246.84 450.01 L247.35 450.75 L247.86 450.22 L248.36 452.61 L248.87 453.13 L249.38 454.58 L249.88 453.69 L250.39 453.39 L250.9 454.62 L251.41 455.18 L251.92 456.2 L252.42 456.29 L252.93 458.19 L253.44 456.32 L253.94 458.09 L254.45 459.15 L254.96 459.21 L255.47 459.63 L255.98 458.41 L256.48 458.55 L256.99 461.09 L257.5 459.27 L258 459.6 L258.51 461.26 L259.02 462.4 L259.53 462.02 L260.04 462.23 L260.54 461.62 L261.05 462.55 L261.56 464.37 L262.06 462.55 L262.57 464.49 L263.08 462.54 L263.59 464.83 L264.1 464.71 L264.6 465.24 L265.11 465.36 L265.62 464.1 L266.12 465 L266.63 465.72 L267.14 466.46 L267.65 468.63 L268.16 468.07 L268.66 468.43 L269.17 469.09 L269.68 467.89 L270.19 469.05 L270.69 468.85 L271.2 468.87 L271.71 469.92 L272.22 467.6 L272.72 467.1 L273.23 468.38 L273.74 469.63 L274.25 471.4 L274.75 468.88 L275.26 468.04 L275.77 469.03 L276.28 468.66 L276.78 468.41 L277.29 468.97 L277.8 470.6 L278.31 469.34 L278.81 469.71 L279.32 472.14 L279.83 471.13 L280.34 471.47 L280.84 469.39 L281.35 467.76 L281.86 468.1 L282.37 467.79 L282.87 463.51 L283.38 463.26 L283.89 461.23 L284.4 462.87 L284.9 459.76 L285.41 457.97 L285.92 457.22 L286.43 458.49 L286.93 457.3 L287.44 456.97 L287.95 455.2 L288.46 454.47 L288.96 454.68 L289.47 455.37 L289.98 452.78 L290.49 453.27 L290.99 451.64 L291.5 451.38 L292.01 449.54 L292.52 449.43 L293.02 450.35 L293.53 449.08 L294.04 447.25 L294.55 448.88 L295.05 447.49 L295.56 446.3 L296.07 445.76 L296.58 445.97 L297.08 447.22 L297.59 446.72 L298.1 444.89 L298.61 444.34 L299.11 441.95 L299.62 444.73 L300.13 442.53 L300.63 442.54 L301.14 444.51 L301.65 443.43 L302.16 442.25 L302.67 442.61 L303.17 442.06 L303.68 441.25 L304.19 442.22 L304.69 440.81 L305.2 441.62 L305.71 441.32 L306.22 440.1 L306.73 440.9 L307.23 439.87 L307.74 438.42 L308.25 439.63 L308.75 439.55 L309.26 438.49 L309.77 439.27 L310.28 437.68 L310.79 439.64 L311.29 437.64 L311.8 438.45" stroke="#17a050" stroke-width="2.2" fill="none" stroke-linejoin="round"/>
<text x="68.2" y="443.6" font-size="11.5" font-weight="normal" fill="#111" text-anchor="middle" >0</text>
<text x="149.4" y="443.6" font-size="11.5" font-weight="normal" fill="#111" text-anchor="middle" >200</text>
<text x="230.6" y="443.6" font-size="11.5" font-weight="normal" fill="#111" text-anchor="middle" >400</text>
<text x="311.8" y="443.6" font-size="11.5" font-weight="normal" fill="#111" text-anchor="middle" >600</text>
<text x="190.5" y="541.3" font-size="13.2" font-weight="bold" fill="#111" text-anchor="middle" >Time (ms)</text>
<text transform="translate(16.4,413.6) rotate(-90)" font-size="13.2" font-weight="bold" fill="#111" text-anchor="middle"><tspan font-weight="normal">Δ</tspan>F/F (%)</text>
<line x1="257.2" y1="330.4" x2="273.4" y2="330.4" stroke="#6a1fe0" stroke-width="2.2" />
<text x="278.3" y="334.4" font-size="11" font-weight="bold" fill="#6a1fe0" text-anchor="start" >ΔF<tspan font-size="8" dy="2.5">exp</tspan></text>
<line x1="257.2" y1="341.6" x2="273.4" y2="341.6" stroke="#e41a1a" stroke-width="2.2" />
<text x="278.3" y="345.6" font-size="11" font-weight="bold" fill="#e41a1a" text-anchor="start" >ΔF<tspan font-size="8" dy="2.5">f</tspan></text>
<line x1="257.2" y1="352.8" x2="273.4" y2="352.8" stroke="#2a92e2" stroke-width="2.2" />
<text x="278.3" y="356.8" font-size="11" font-weight="bold" fill="#2a92e2" text-anchor="start" >ΔF<tspan font-size="8" dy="2.5">s</tspan></text>
<line x1="257.2" y1="364" x2="273.4" y2="364" stroke="#17a050" stroke-width="2.2" />
<text x="278.3" y="368" font-size="11" font-weight="bold" fill="#17a050" text-anchor="start" >ΔF</text>
<text transform="translate(359.4,18.6)" font-size="24" font-weight="bold">C</text>
<path d="M416.9 153.3 L466.7 128.5 L654.6 131.04" stroke="#c4c4c4" stroke-width="1.0" fill="none" />
<path d="M416.9 129.3 L466.7 104.5 L654.6 107.04" stroke="#c4c4c4" stroke-width="1.0" fill="none" />
<path d="M416.9 105.3 L466.7 80.5 L654.6 83.04" stroke="#c4c4c4" stroke-width="1.0" fill="none" />
<path d="M416.9 81.3 L466.7 56.5 L654.6 59.04" stroke="#c4c4c4" stroke-width="1.0" fill="none" />
<path d="M416.9 57.3 L466.7 32.5 L654.6 35.04" stroke="#c4c4c4" stroke-width="1.0" fill="none" />
<path d="M416.9 33.3 L466.7 8.5 L654.6 11.04" stroke="#c4c4c4" stroke-width="1.0" fill="none" />
<line x1="604.95" y1="156.8" x2="654.6" y2="131.04" stroke="#c4c4c4" stroke-width="1.0" />
<line x1="416.9" y1="33.3" x2="416.9" y2="153.3" stroke="#222" stroke-width="1.3" />
<line x1="413.1" y1="153.3" x2="416.9" y2="153.3" stroke="#222" stroke-width="1.3" />
<text x="406.4" y="157.4" font-size="11.5" font-weight="normal" fill="#111" text-anchor="end" >-1</text>
<line x1="413.1" y1="129.3" x2="416.9" y2="129.3" stroke="#222" stroke-width="1.3" />
<text x="406.4" y="133.4" font-size="11.5" font-weight="normal" fill="#111" text-anchor="end" >-0.5</text>
<line x1="413.1" y1="105.3" x2="416.9" y2="105.3" stroke="#222" stroke-width="1.3" />
<text x="406.4" y="109.4" font-size="11.5" font-weight="normal" fill="#111" text-anchor="end" >0</text>
<line x1="413.1" y1="81.3" x2="416.9" y2="81.3" stroke="#222" stroke-width="1.3" />
<text x="406.4" y="85.4" font-size="11.5" font-weight="normal" fill="#111" text-anchor="end" >0.5</text>
<line x1="413.1" y1="57.3" x2="416.9" y2="57.3" stroke="#222" stroke-width="1.3" />
<text x="406.4" y="61.4" font-size="11.5" font-weight="normal" fill="#111" text-anchor="end" >1</text>
<line x1="413.1" y1="33.3" x2="416.9" y2="33.3" stroke="#222" stroke-width="1.3" />
<text x="406.4" y="37.4" font-size="11.5" font-weight="normal" fill="#111" text-anchor="end" >1.5</text>
<path d="M416.9 106.1 L417.31 105.28 L417.73 104.99 L418.14 105.45 L418.56 105.64 L418.97 105.59 L419.39 104.84 L419.8 105.14 L420.22 105.14 L420.63 104.14 L421.05 103.97 L421.46 103.56 L421.88 104.06 L422.29 103.41 L422.71 103.24 L423.12 103.72 L423.54 102.07 L423.95 101.15 L424.37 100.17 L424.78 102.84 L425.2 106.01 L425.61 107.68 L426.03 110.23 L426.44 111.55 L426.86 113.57 L427.27 114.54 L427.69 115.26 L428.1 116.36 L428.52 117.41 L428.94 118.66 L429.35 118.54 L429.76 119.27 L430.18 119.45 L430.59 120.14 L431.01 120.11 L431.42 120.99 L431.84 121.16 L432.25 121.19 L432.67 122.26 L433.08 122.15 L433.5 122.39 L433.91 121.37 L434.33 122.5 L434.75 122.23 L435.16 122.3 L435.57 122.72 L435.99 123.26 L436.4 121.97 L436.82 122.53 L437.23 121.89 L437.65 122.73 L438.06 122.15 L438.48 121.15 L438.89 120.83 L439.31 121.88 L439.72 121.6 L440.14 120.68 L440.55 120.02 L440.97 119.99 L441.38 119.61 L441.8 119.91 L442.21 118.83 L442.63 118.24 L443.04 118.64 L443.46 118.77 L443.88 118.08 L444.29 116.98 L444.7 117.79 L445.12 116.61 L445.53 116.64 L445.95 115.81 L446.36 115.42 L446.78 114.81 L447.19 113.59 L447.61 113.58 L448.02 112.57 L448.44 112.69 L448.85 112.24 L449.27 111.18 L449.68 112.01 L450.1 109.86 L450.51 108.88 L450.93 108.63 L451.34 106.88 L451.76 106.44 L452.17 106.46 L452.59 104.46 L453 103.9 L453.42 102.75 L453.83 101.65 L454.25 100.09 L454.66 99.79 L455.08 99.04 L455.5 98.04 L455.91 98.32 L456.32 96.09 L456.74 96.44 L457.15 94.96 L457.57 94.97 L457.98 94.14 L458.4 93.09 L458.81 91.2 L459.23 90.97 L459.64 90.79 L460.06 89.85 L460.47 89.5 L460.89 88.24 L461.3 87.83 L461.72 86.6 L462.13 87.05 L462.55 86.03 L462.96 85.78 L463.38 85.24 L463.79 84.09 L464.21 83.92 L464.62 83.25 L465.04 82.53 L465.45 82.11 L465.87 82.87 L466.28 81.51 L466.7 81.3 L466.7 81.3 L416.9 106.1 Z" stroke="#5404c4" stroke-width="1.7" fill="#8c50f4" stroke-linejoin="round" fill-opacity="0.7"/>
<path d="M437.55 106.4 L437.96 105.61 L438.38 105.52 L438.79 106.44 L439.21 106.5 L439.62 105.42 L440.04 104.79 L440.45 105.02 L440.87 105.45 L441.28 104.78 L441.7 103.64 L442.11 104.79 L442.53 103.42 L442.94 103.46 L443.36 103.28 L443.77 102.78 L444.19 102.08 L444.6 99.52 L445.02 97.51 L445.43 99.33 L445.85 101.73 L446.26 104.12 L446.68 105.4 L447.09 106.24 L447.51 107.22 L447.92 108.6 L448.34 109.58 L448.75 110.44 L449.17 111.27 L449.58 111.56 L450 112.67 L450.41 112.6 L450.83 113.6 L451.24 114.74 L451.66 114.95 L452.07 114.75 L452.49 115.16 L452.9 115.76 L453.32 115.77 L453.73 115.54 L454.15 115.63 L454.56 115.59 L454.98 116.55 L455.39 116.07 L455.81 115.83 L456.22 116.18 L456.64 115.48 L457.05 116.5 L457.47 116.22 L457.88 116.07 L458.3 116.27 L458.71 116 L459.13 115.73 L459.54 115.68 L459.96 115.7 L460.37 115.45 L460.79 115.04 L461.2 115.51 L461.62 114.47 L462.03 114.84 L462.45 114.2 L462.86 114.35 L463.28 113.53 L463.69 113.5 L464.11 113.18 L464.52 113.14 L464.94 112.46 L465.35 111.49 L465.77 112.8 L466.18 111.42 L466.6 111.25 L467.01 111.21 L467.43 111.27 L467.84 109.55 L468.26 109.8 L468.67 109 L469.09 109.2 L469.5 108.92 L469.92 107.57 L470.33 107.18 L470.75 107.04 L471.16 106.32 L471.58 105.22 L471.99 105.17 L472.41 104.48 L472.82 103.44 L473.24 102.3 L473.65 101.72 L474.07 101.33 L474.48 99.99 L474.9 99.86 L475.31 99.23 L475.73 97.13 L476.14 97.72 L476.56 96.48 L476.97 95.79 L477.39 95.29 L477.8 94.54 L478.22 93.62 L478.63 92.98 L479.05 92.79 L479.46 91.78 L479.88 90.38 L480.29 89.94 L480.71 89.74 L481.12 88.8 L481.54 88.62 L481.95 88.13 L482.37 87.2 L482.78 85.68 L483.2 86.23 L483.61 86.39 L484.03 85.06 L484.44 84.89 L484.86 83.8 L485.27 83.14 L485.69 83.46 L486.1 82.83 L486.52 82.88 L486.93 81.47 L487.35 81.6 L487.35 81.6 L437.55 106.4 Z" stroke="#5404c4" stroke-width="1.7" fill="#8c50f4" stroke-linejoin="round" fill-opacity="0.7"/>
<path d="M458.2 106.7 L458.62 106.94 L459.03 106.89 L459.44 105.77 L459.86 105.96 L460.27 104.85 L460.69 105.1 L461.1 105.48 L461.52 104.65 L461.94 104.72 L462.35 104.91 L462.76 103.96 L463.18 104.52 L463.59 103.05 L464.01 103.34 L464.43 103.26 L464.84 100.38 L465.25 94.48 L465.67 91.85 L466.08 89.49 L466.5 90.27 L466.91 89.81 L467.33 90.33 L467.75 90.05 L468.16 91.25 L468.57 91.51 L468.99 91.18 L469.4 92.52 L469.82 91.86 L470.24 92.88 L470.65 93.53 L471.06 92.81 L471.48 93.12 L471.89 93.83 L472.31 92.98 L472.72 93.13 L473.14 94.37 L473.56 94.42 L473.97 94.31 L474.38 94.46 L474.8 94.84 L475.21 94.28 L475.63 94.67 L476.04 94.67 L476.46 94.83 L476.88 94.78 L477.29 95.33 L477.7 95.36 L478.12 95.17 L478.53 95.15 L478.95 94.5 L479.37 94.81 L479.78 95.4 L480.19 95.5 L480.61 94.29 L481.02 94.69 L481.44 94.44 L481.85 95.39 L482.27 94.84 L482.69 94.36 L483.1 94.01 L483.51 94.91 L483.93 94.67 L484.34 94.75 L484.76 94.51 L485.18 94.77 L485.59 94.44 L486 94.66 L486.42 94.04 L486.83 94.82 L487.25 95.07 L487.66 95.27 L488.08 94.58 L488.5 95.61 L488.91 95.25 L489.32 94.54 L489.74 93.9 L490.15 95.67 L490.57 95.05 L490.99 94.71 L491.4 94.69 L491.81 93.8 L492.23 94.26 L492.64 94.74 L493.06 93.91 L493.47 94.07 L493.89 94.39 L494.31 95.4 L494.72 94.69 L495.13 93.59 L495.55 94.07 L495.96 93.16 L496.38 93.77 L496.79 92.89 L497.21 92.41 L497.62 91.38 L498.04 90.4 L498.45 91.03 L498.87 89.93 L499.28 89.57 L499.7 89.73 L500.12 88.65 L500.53 88.49 L500.94 87.76 L501.36 87.85 L501.77 86.72 L502.19 86.22 L502.61 86.11 L503.02 86.02 L503.44 86.24 L503.85 85.64 L504.26 84.22 L504.68 84.33 L505.09 84.32 L505.51 83.3 L505.93 83.23 L506.34 83.62 L506.75 82.96 L507.17 82.24 L507.58 82.11 L508 81.9 L508 81.9 L458.2 106.7 Z" stroke="#5404c4" stroke-width="1.7" fill="#8c50f4" stroke-linejoin="round" fill-opacity="0.7"/>
<path d="M478.85 107 L479.26 107.74 L479.68 106.33 L480.09 106 L480.51 106.1 L480.92 105.28 L481.34 105.93 L481.75 105.25 L482.17 105.03 L482.58 104.76 L483 105.29 L483.41 103.72 L483.83 104.34 L484.24 103.84 L484.66 103.61 L485.07 102.78 L485.49 95.48 L485.9 80.35 L486.32 69.79 L486.73 63.18 L487.15 60.19 L487.56 58.19 L487.98 57.6 L488.39 57.89 L488.81 56.78 L489.22 56.33 L489.64 56.52 L490.05 55.72 L490.47 57.14 L490.88 56.99 L491.3 56.13 L491.71 57.03 L492.13 56.97 L492.54 57.21 L492.96 57.27 L493.37 57.58 L493.79 58.51 L494.2 57.25 L494.62 58.57 L495.03 58.61 L495.45 58.5 L495.86 58.68 L496.28 59.29 L496.69 60.33 L497.11 60.55 L497.52 59.91 L497.94 60.44 L498.35 60.42 L498.77 60.87 L499.18 62.04 L499.6 62.13 L500.01 61.41 L500.43 63.08 L500.84 63.83 L501.26 62.69 L501.67 64.16 L502.09 63.84 L502.5 65.58 L502.92 65.61 L503.33 65.55 L503.75 66.07 L504.16 66.31 L504.58 66.7 L504.99 67.37 L505.41 68.85 L505.82 68.06 L506.24 68.77 L506.65 69.85 L507.07 70.44 L507.48 72.25 L507.9 71.77 L508.31 72.2 L508.73 73.66 L509.14 74.03 L509.56 75.21 L509.97 75.06 L510.39 75.53 L510.8 77.56 L511.22 78.59 L511.63 79.7 L512.05 79.53 L512.46 80.98 L512.88 82.29 L513.29 83.47 L513.71 85.15 L514.12 86.54 L514.54 87.56 L514.95 90.06 L515.37 90.91 L515.78 91.12 L516.2 89.94 L516.62 90.41 L517.03 91.32 L517.44 89.57 L517.86 89.46 L518.27 88.97 L518.69 89.25 L519.11 88.5 L519.52 88.7 L519.93 88.56 L520.35 87.25 L520.76 87.9 L521.18 86.8 L521.59 85.83 L522.01 86.22 L522.42 86.4 L522.84 86.08 L523.25 86.21 L523.67 85.15 L524.08 84.89 L524.5 84.76 L524.91 83.89 L525.33 84.49 L525.75 83.51 L526.16 83.58 L526.57 83.49 L526.99 83.43 L527.4 83.48 L527.82 83.03 L528.24 82.55 L528.65 82.2 L528.65 82.2 L478.85 107 Z" stroke="#5404c4" stroke-width="1.7" fill="#8c50f4" stroke-linejoin="round" fill-opacity="0.7"/>
<path d="M499.5 107.3 L499.92 107.84 L500.33 107.56 L500.75 107.41 L501.16 106.27 L501.57 105.73 L501.99 106.28 L502.4 105.93 L502.82 106.42 L503.24 105.36 L503.65 105.34 L504.06 104.23 L504.48 103.39 L504.89 104.62 L505.31 104.78 L505.73 102.08 L506.14 92.22 L506.56 72 L506.97 55.94 L507.38 46.77 L507.8 42.23 L508.21 40.84 L508.63 38.81 L509.05 38.23 L509.46 36.87 L509.88 37.02 L510.29 37.02 L510.7 37.05 L511.12 36.98 L511.54 37.66 L511.95 38.2 L512.37 38.4 L512.78 38.2 L513.2 38.5 L513.61 39.74 L514.02 40.13 L514.44 39.34 L514.86 39.94 L515.27 39.94 L515.68 40.44 L516.1 41.28 L516.51 41.55 L516.93 41.98 L517.35 42.98 L517.76 43.85 L518.17 43.06 L518.59 43.93 L519 44.99 L519.42 44.96 L519.84 45.75 L520.25 45.92 L520.66 46.3 L521.08 46.75 L521.5 48 L521.91 48.23 L522.33 49.86 L522.74 50.6 L523.15 51.29 L523.57 51.3 L523.99 51.83 L524.4 52.95 L524.82 53.46 L525.23 53.98 L525.64 55.21 L526.06 56.52 L526.48 57.04 L526.89 57.7 L527.3 58.31 L527.72 59.32 L528.13 60.8 L528.55 61.43 L528.97 63.05 L529.38 63.81 L529.79 65.02 L530.21 65.63 L530.62 68.25 L531.04 69.54 L531.46 70.37 L531.87 70.98 L532.28 73.57 L532.7 74.92 L533.12 75.93 L533.53 77.08 L533.95 80.18 L534.36 81.4 L534.77 82.97 L535.19 85.77 L535.61 89.05 L536.02 90.45 L536.43 91.53 L536.85 91.69 L537.26 91.04 L537.68 90.19 L538.1 90.27 L538.51 90.18 L538.92 90.42 L539.34 90.02 L539.75 88.28 L540.17 88.94 L540.59 88.53 L541 88.15 L541.41 87.27 L541.83 88.33 L542.25 87.14 L542.66 86.59 L543.08 86.93 L543.49 86.23 L543.9 85.36 L544.32 86.21 L544.74 85.82 L545.15 84.78 L545.57 85.46 L545.98 84.42 L546.39 84.7 L546.81 84.54 L547.23 83.58 L547.64 82.65 L548.05 82.9 L548.47 82.88 L548.88 82.86 L549.3 82.5 L549.3 82.5 L499.5 107.3 Z" stroke="#5404c4" stroke-width="1.7" fill="#8c50f4" stroke-linejoin="round" fill-opacity="0.7"/>
<path d="M520.15 107.6 L520.56 106.93 L520.98 106.97 L521.39 106.97 L521.81 106.25 L522.23 106.6 L522.64 105.41 L523.05 106.89 L523.47 106.24 L523.88 105.24 L524.3 105.78 L524.72 105.57 L525.13 105.07 L525.54 104.87 L525.96 104.88 L526.38 103.06 L526.79 94.73 L527.2 79.27 L527.62 67.98 L528.03 61.11 L528.45 57.9 L528.87 55.87 L529.28 57.14 L529.69 56.42 L530.11 55.01 L530.52 55.94 L530.94 56.58 L531.36 55.77 L531.77 56.44 L532.18 56.97 L532.6 56.61 L533.01 57.61 L533.43 57.41 L533.85 57.77 L534.26 57.41 L534.67 57.8 L535.09 59.28 L535.5 59.3 L535.92 60.24 L536.33 60.31 L536.75 60.03 L537.16 60.61 L537.58 61.2 L538 62.11 L538.41 61.93 L538.82 62.75 L539.24 63.29 L539.65 62.43 L540.07 63.05 L540.49 64.5 L540.9 64.19 L541.31 65.17 L541.73 64.94 L542.14 64.58 L542.56 66.68 L542.98 66.05 L543.39 65.92 L543.8 67.01 L544.22 68.63 L544.63 68.48 L545.05 67.75 L545.46 69.72 L545.88 70.04 L546.29 69.75 L546.71 70.75 L547.12 71.29 L547.54 71.74 L547.95 72.46 L548.37 73.77 L548.78 73.98 L549.2 75.32 L549.62 75.29 L550.03 76.1 L550.44 77.07 L550.86 77.77 L551.27 79.18 L551.69 80.35 L552.11 80.26 L552.52 80.79 L552.93 82.66 L553.35 83.45 L553.76 83.82 L554.18 85.1 L554.6 85.96 L555.01 88.42 L555.42 89.37 L555.84 91.08 L556.25 92.87 L556.67 94.35 L557.09 94.21 L557.5 94 L557.91 92.81 L558.33 93.02 L558.75 92.46 L559.16 91.88 L559.57 91.75 L559.99 90.53 L560.4 90.89 L560.82 90.27 L561.24 90.06 L561.65 89.94 L562.06 89.07 L562.48 88.52 L562.89 88.16 L563.31 87.68 L563.73 87.48 L564.14 87.12 L564.55 86.44 L564.97 86.1 L565.38 85.29 L565.8 86.21 L566.21 85.74 L566.63 85.25 L567.04 84.52 L567.46 84.72 L567.88 84.88 L568.29 84.06 L568.7 83.99 L569.12 83.22 L569.53 82.92 L569.95 82.8 L569.95 82.8 L520.15 107.6 Z" stroke="#5404c4" stroke-width="1.7" fill="#8c50f4" stroke-linejoin="round" fill-opacity="0.7"/>
<path d="M540.8 107.9 L541.21 107.42 L541.63 107.13 L542.04 107.09 L542.46 106.77 L542.88 106.97 L543.29 106.92 L543.7 106.64 L544.12 105.99 L544.53 105.49 L544.95 105.92 L545.37 105.81 L545.78 104.96 L546.19 105 L546.61 105.41 L547.02 104.08 L547.44 101.75 L547.85 95.72 L548.27 90.79 L548.68 89.36 L549.1 90.78 L549.51 92.21 L549.93 91.97 L550.34 93.58 L550.76 94.04 L551.17 94.52 L551.59 95.21 L552 95.59 L552.42 96.09 L552.83 96.76 L553.25 96.79 L553.66 97.66 L554.08 98.33 L554.5 98.06 L554.91 98.28 L555.32 98.97 L555.74 99.39 L556.15 98.83 L556.57 99.39 L556.98 99.17 L557.4 98.56 L557.81 99.98 L558.23 98.9 L558.64 99.54 L559.06 100.25 L559.47 100.39 L559.89 100.67 L560.3 100.1 L560.72 101.07 L561.13 100.64 L561.55 100.59 L561.96 100.84 L562.38 101.16 L562.79 101.28 L563.21 99.72 L563.62 99.7 L564.04 100.58 L564.45 99.42 L564.87 99.41 L565.28 99.55 L565.7 100.22 L566.12 100.33 L566.53 100.67 L566.94 100.48 L567.36 100 L567.77 100.34 L568.19 99.81 L568.6 100.1 L569.02 100.66 L569.43 100.04 L569.85 100.8 L570.26 100.6 L570.68 99.88 L571.09 99.5 L571.51 99.74 L571.92 100.36 L572.34 99.94 L572.75 99.4 L573.17 99.65 L573.58 100.04 L574 99.6 L574.41 98.94 L574.83 98.24 L575.25 99.03 L575.66 98.47 L576.07 98.78 L576.49 99.17 L576.9 98.59 L577.32 98.99 L577.73 98.32 L578.15 97.47 L578.56 97.55 L578.98 96.78 L579.39 95.62 L579.81 96.81 L580.22 94.29 L580.64 94.2 L581.05 93.77 L581.47 93.5 L581.88 92.19 L582.3 92.26 L582.71 91.83 L583.13 90.4 L583.54 90.02 L583.96 90.18 L584.38 89.3 L584.79 87.74 L585.2 87.71 L585.62 87.84 L586.03 87.2 L586.45 86.49 L586.87 86.57 L587.28 86.93 L587.69 86.72 L588.11 85.46 L588.52 85.36 L588.94 84.08 L589.35 84.13 L589.77 84.41 L590.18 83.73 L590.6 83.1 L590.6 83.1 L540.8 107.9 Z" stroke="#5404c4" stroke-width="1.7" fill="#8c50f4" stroke-linejoin="round" fill-opacity="0.7"/>
<path d="M561.45 108.2 L561.86 108.54 L562.28 107.49 L562.69 108.18 L563.11 107.6 L563.52 106.77 L563.94 108.15 L564.35 107.16 L564.77 107.32 L565.18 106.83 L565.6 106.36 L566.01 105.09 L566.43 107.07 L566.84 106.12 L567.26 105.61 L567.67 104.07 L568.09 103.17 L568.5 101.45 L568.92 100.51 L569.33 100.77 L569.75 103.5 L570.16 106.65 L570.58 108.75 L570.99 111 L571.41 111.43 L571.82 113.07 L572.24 115.16 L572.65 116.01 L573.07 117.4 L573.48 117.07 L573.9 118 L574.31 118.56 L574.73 118.96 L575.14 118.97 L575.56 120.46 L575.97 120.43 L576.39 120.56 L576.8 121.08 L577.22 120.83 L577.63 121.83 L578.05 122.04 L578.46 122.51 L578.88 122.82 L579.29 123.06 L579.71 121.09 L580.12 122.03 L580.54 123.39 L580.95 122.33 L581.37 123.18 L581.78 122.3 L582.2 122.51 L582.61 123.44 L583.03 123.13 L583.44 122.35 L583.86 121.88 L584.27 121.07 L584.69 121.78 L585.1 121.03 L585.52 121.55 L585.93 120.94 L586.35 120.16 L586.76 120 L587.18 119.67 L587.59 120.88 L588.01 119.92 L588.42 118.61 L588.84 118.97 L589.25 118.26 L589.67 117.01 L590.08 117.7 L590.5 117.53 L590.91 117.46 L591.33 117.35 L591.74 115.61 L592.16 115.95 L592.57 115 L592.99 115.78 L593.4 113.37 L593.82 114.06 L594.23 113.81 L594.65 112.42 L595.06 111.57 L595.48 110.85 L595.89 110.38 L596.31 109.14 L596.72 108.19 L597.14 107.79 L597.55 106.53 L597.97 106.17 L598.38 105.53 L598.8 103.84 L599.21 103.37 L599.63 101.5 L600.04 100.87 L600.46 101.93 L600.87 100.62 L601.29 98.31 L601.7 98.81 L602.12 97.8 L602.53 96.27 L602.95 95.2 L603.36 94.78 L603.78 94.66 L604.19 92.86 L604.61 91.68 L605.02 91.35 L605.44 91.62 L605.85 89.77 L606.27 89.29 L606.68 88.77 L607.1 88.16 L607.51 87.08 L607.93 87.81 L608.34 86.55 L608.76 86.81 L609.17 85.96 L609.59 84.8 L610 84.02 L610.42 83.99 L610.83 83.66 L611.25 83.4 L611.25 83.4 L561.45 108.2 Z" stroke="#5404c4" stroke-width="1.7" fill="#8c50f4" stroke-linejoin="round" fill-opacity="0.7"/>
<path d="M582.1 108.5 L582.51 107.97 L582.93 108.4 L583.34 107.58 L583.76 108.82 L584.17 107.78 L584.59 106.5 L585 107.2 L585.42 106.6 L585.83 107.1 L586.25 105.78 L586.66 105.8 L587.08 105.46 L587.49 105.99 L587.91 105.37 L588.32 105.68 L588.74 103.72 L589.15 102.52 L589.57 100.23 L589.98 100.95 L590.4 103.79 L590.81 104.88 L591.23 107.33 L591.64 107.84 L592.06 110.14 L592.47 111.38 L592.89 112.04 L593.3 111.19 L593.72 114.3 L594.13 114.31 L594.55 114.87 L594.96 114.85 L595.38 116.4 L595.79 115.12 L596.21 117.34 L596.62 115.99 L597.04 117.16 L597.45 117.75 L597.87 117.14 L598.28 118.54 L598.7 117.95 L599.11 118.73 L599.53 118.89 L599.94 118.99 L600.36 118.49 L600.77 117.62 L601.19 118.61 L601.6 117.7 L602.02 118.64 L602.43 117.91 L602.85 117.83 L603.26 118.17 L603.68 117.58 L604.09 117.61 L604.51 117.39 L604.92 118.17 L605.34 117.01 L605.75 116.04 L606.17 117.59 L606.58 116.49 L607 116.22 L607.41 115.88 L607.83 115.53 L608.24 115.14 L608.66 115.47 L609.07 114.98 L609.49 115.14 L609.9 115.15 L610.32 114.52 L610.73 113.87 L611.15 113.61 L611.56 113.42 L611.98 113.11 L612.39 112.02 L612.81 112.05 L613.22 111.51 L613.64 110.04 L614.05 110.83 L614.47 110.07 L614.88 109.32 L615.3 110.04 L615.71 108.61 L616.13 107.6 L616.54 106.6 L616.96 106.52 L617.37 105.51 L617.79 104.73 L618.2 103.97 L618.62 103.76 L619.03 102.39 L619.45 101.58 L619.86 101.6 L620.28 101.89 L620.69 99.43 L621.11 98.22 L621.52 98.27 L621.94 96.5 L622.35 97.47 L622.77 95.99 L623.18 95.03 L623.6 95.13 L624.01 93.95 L624.43 93.12 L624.84 92.01 L625.26 91.01 L625.67 90.89 L626.09 90.89 L626.5 88.87 L626.92 88.82 L627.33 87.99 L627.75 88.81 L628.16 87.57 L628.58 87.82 L628.99 86.94 L629.41 85.88 L629.82 85.57 L630.24 84.77 L630.65 85.45 L631.07 83.83 L631.48 84.1 L631.9 83.7 L631.9 83.7 L582.1 108.5 Z" stroke="#5404c4" stroke-width="1.7" fill="#8c50f4" stroke-linejoin="round" fill-opacity="0.7"/>
<path d="M602.75 108.8 L603.16 108.67 L603.58 108.68 L604 107.81 L604.41 107.71 L604.83 107.72 L605.24 107.97 L605.65 106.86 L606.07 107.58 L606.49 107.6 L606.9 106.77 L607.32 107.05 L607.73 106.56 L608.14 105.83 L608.56 106.58 L608.98 105.72 L609.39 104.74 L609.8 103.14 L610.22 102.81 L610.63 104.17 L611.05 109.69 L611.47 112.42 L611.88 113.93 L612.29 115.78 L612.71 118.11 L613.12 119.3 L613.54 121.25 L613.96 123.46 L614.37 124.66 L614.78 124.76 L615.2 126.17 L615.62 126.14 L616.03 126.94 L616.45 127.28 L616.86 128.84 L617.27 127.95 L617.69 129.21 L618.11 129.54 L618.52 129.92 L618.93 129.42 L619.35 131.22 L619.76 131.43 L620.18 130.46 L620.6 131.24 L621.01 131.13 L621.42 131.4 L621.84 131.84 L622.25 130.58 L622.67 130.89 L623.09 132.11 L623.5 131.27 L623.91 130.61 L624.33 131.41 L624.75 130.45 L625.16 130.18 L625.58 129.71 L625.99 130.22 L626.4 129.22 L626.82 128.39 L627.24 128.63 L627.65 128.7 L628.07 129.21 L628.48 128.34 L628.89 126.87 L629.31 126.46 L629.73 127.34 L630.14 125.85 L630.55 125.36 L630.97 125.08 L631.38 124.94 L631.8 124.29 L632.22 123.95 L632.63 123.65 L633.04 122.19 L633.46 121.7 L633.88 121.03 L634.29 119.94 L634.71 120.97 L635.12 119.33 L635.53 119.03 L635.95 118.08 L636.37 117.01 L636.78 115.32 L637.2 114.37 L637.61 113.03 L638.02 112.47 L638.44 111.5 L638.86 109.87 L639.27 109.15 L639.68 108.33 L640.1 106.93 L640.51 105.9 L640.93 104.95 L641.35 103.93 L641.76 103.77 L642.17 101.92 L642.59 101.21 L643 100.07 L643.42 98.76 L643.84 98.72 L644.25 97.55 L644.66 98 L645.08 95.66 L645.5 95.96 L645.91 94.28 L646.33 93.4 L646.74 91.56 L647.15 91.8 L647.57 90.83 L647.99 89.56 L648.4 89.6 L648.82 88.22 L649.23 87.74 L649.64 88.06 L650.06 87.13 L650.48 86.49 L650.89 86.12 L651.3 85.86 L651.72 85.72 L652.13 85.05 L652.55 84 L652.55 84 L602.75 108.8 Z" stroke="#5404c4" stroke-width="1.7" fill="#8c50f4" stroke-linejoin="round" fill-opacity="0.7"/>
<text transform="translate(422.5,134.4) rotate(-90)" font-size="13" font-weight="bold" fill="#111" text-anchor="start">808</text>
<text transform="translate(443.12,134.72) rotate(-90)" font-size="13" font-weight="bold" fill="#111" text-anchor="start">720</text>
<text transform="translate(463.74,135.04) rotate(-90)" font-size="13" font-weight="bold" fill="#111" text-anchor="start">740</text>
<text transform="translate(484.36,135.36) rotate(-90)" font-size="13" font-weight="bold" fill="#111" text-anchor="start">750</text>
<text transform="translate(504.98,135.68) rotate(-90)" font-size="13" font-weight="bold" fill="#111" text-anchor="start">760</text>
<text transform="translate(525.6,136) rotate(-90)" font-size="13" font-weight="bold" fill="#111" text-anchor="start">780</text>
<text transform="translate(546.22,136.32) rotate(-90)" font-size="13" font-weight="bold" fill="#111" text-anchor="start">800</text>
<text transform="translate(566.84,136.64) rotate(-90)" font-size="13" font-weight="bold" fill="#111" text-anchor="start">840</text>
<text transform="translate(587.46,136.96) rotate(-90)" font-size="13" font-weight="bold" fill="#111" text-anchor="start">870</text>
<text transform="translate(608.08,137.28) rotate(-90)" font-size="13" font-weight="bold" fill="#111" text-anchor="start">905</text>
<text transform="translate(627,160.6) rotate(-90)" font-size="11.5" fill="#111" text-anchor="middle">100</text>
<text transform="translate(644.6,152.2) rotate(-90)" font-size="11.5" fill="#111" text-anchor="middle">200</text>
<text transform="translate(661.5,143.7) rotate(-90)" font-size="11.5" fill="#111" text-anchor="middle">300</text>
<text transform="translate(371.2,102.2) rotate(-90)" font-size="13.6" font-weight="bold" fill="#111" text-anchor="middle"><tspan font-weight="normal">Δ</tspan> F (%)</text>
<text transform="translate(360.8,205.8)" font-size="24" font-weight="bold">D</text>
<path d="M412 327.85 L464.3 301.85 L662.5 304.53" stroke="#c4c4c4" stroke-width="1.0" fill="none" />
<path d="M412 297.7 L464.3 271.7 L662.5 274.38" stroke="#c4c4c4" stroke-width="1.0" fill="none" />
<path d="M412 267.55 L464.3 241.55 L662.5 244.23" stroke="#c4c4c4" stroke-width="1.0" fill="none" />
<path d="M412 237.4 L464.3 211.4 L662.5 214.08" stroke="#c4c4c4" stroke-width="1.0" fill="none" />
<path d="M412 207.25 L464.3 181.25 L662.5 183.93" stroke="#c4c4c4" stroke-width="1.0" fill="none" />
<line x1="612.8" y1="329.15" x2="662.5" y2="304.53" stroke="#c4c4c4" stroke-width="1.0" />
<line x1="412" y1="207.25" x2="412" y2="327.85" stroke="#222" stroke-width="1.3" />
<line x1="408.2" y1="327.85" x2="412" y2="327.85" stroke="#222" stroke-width="1.3" />
<text x="401.5" y="331.95" font-size="11.5" font-weight="normal" fill="#111" text-anchor="end" >-0.5</text>
<line x1="408.2" y1="297.7" x2="412" y2="297.7" stroke="#222" stroke-width="1.3" />
<text x="401.5" y="301.8" font-size="11.5" font-weight="normal" fill="#111" text-anchor="end" >0</text>
<line x1="408.2" y1="267.55" x2="412" y2="267.55" stroke="#222" stroke-width="1.3" />
<text x="401.5" y="271.65" font-size="11.5" font-weight="normal" fill="#111" text-anchor="end" >0.5</text>
<line x1="408.2" y1="237.4" x2="412" y2="237.4" stroke="#222" stroke-width="1.3" />
<text x="401.5" y="241.5" font-size="11.5" font-weight="normal" fill="#111" text-anchor="end" >1</text>
<line x1="408.2" y1="207.25" x2="412" y2="207.25" stroke="#222" stroke-width="1.3" />
<text x="401.5" y="211.35" font-size="11.5" font-weight="normal" fill="#111" text-anchor="end" >1.5</text>
<line x1="409" y1="312.77" x2="412" y2="312.77" stroke="#222" stroke-width="1.1" />
<line x1="409" y1="282.62" x2="412" y2="282.62" stroke="#222" stroke-width="1.1" />
<line x1="409" y1="252.47" x2="412" y2="252.47" stroke="#222" stroke-width="1.1" />
<line x1="409" y1="222.32" x2="412" y2="222.32" stroke="#222" stroke-width="1.1" />
<path d="M412 297.7 L412.44 296.78 L412.87 296.48 L413.31 297.01 L413.74 297.25 L414.18 297.21 L414.62 296.38 L415.05 296.74 L415.49 296.75 L415.92 295.64 L416.36 295.46 L416.79 295.02 L417.23 295.6 L417.67 294.88 L418.1 294.7 L418.54 294.98 L418.97 292.34 L419.41 289.58 L419.85 286.22 L420.28 285.89 L420.72 285.24 L421.15 283.93 L421.59 284.06 L422.02 283.33 L422.46 283.74 L422.9 283.15 L423.33 282.47 L423.77 282.43 L424.2 282.55 L424.64 283.03 L425.07 282.04 L425.51 282.07 L425.95 281.55 L426.38 281.66 L426.82 281.02 L427.25 281.48 L427.69 281.19 L428.13 280.79 L428.56 281.59 L429 281.07 L429.43 280.98 L429.87 279.5 L430.31 280.49 L430.74 279.95 L431.18 279.84 L431.61 280.2 L432.05 280.77 L432.48 279.29 L432.92 279.91 L433.36 279.19 L433.79 280.18 L434.23 279.59 L434.66 278.57 L435.1 278.36 L435.54 279.74 L435.97 279.65 L436.41 278.85 L436.84 278.33 L437.28 278.55 L437.71 278.38 L438.15 278.99 L438.59 278.05 L439.02 277.68 L439.46 278.44 L439.89 278.91 L440.33 278.48 L440.76 277.59 L441.2 278.89 L441.64 277.95 L442.07 278.4 L442.51 277.89 L442.94 277.92 L443.38 277.75 L443.82 276.92 L444.25 277.49 L444.69 276.98 L445.12 277.77 L445.56 277.95 L446 277.5 L446.43 279.26 L446.87 277.77 L447.3 277.7 L447.74 278.51 L448.17 277.66 L448.61 278.3 L449.05 279.41 L449.48 278.37 L449.92 278.98 L450.35 278.82 L450.79 278.5 L451.23 277.52 L451.66 277.93 L452.1 277.78 L452.53 277.34 L452.97 278.32 L453.4 276.44 L453.84 277.48 L454.28 276.45 L454.71 277.08 L455.15 276.78 L455.58 276.25 L456.02 274.79 L456.45 275.22 L456.89 275.71 L457.33 275.32 L457.76 275.57 L458.2 274.75 L458.63 274.83 L459.07 273.91 L459.51 274.82 L459.94 274.05 L460.38 274.11 L460.81 273.82 L461.25 272.83 L461.69 272.93 L462.12 272.47 L462.56 271.92 L462.99 271.73 L463.43 272.88 L463.86 271.63 L464.3 271.7 L464.3 271.7 L412 297.7 Z" stroke="#e60c0c" stroke-width="1.7" fill="#f46a6a" stroke-linejoin="round" fill-opacity="0.38"/>
<path d="M433.8 298 L434.24 297.12 L434.67 297.04 L435.11 298.09 L435.54 298.19 L435.98 296.97 L436.42 296.29 L436.85 296.56 L437.29 297.06 L437.72 296.32 L438.16 295.05 L438.59 296.37 L439.03 294.83 L439.47 294.9 L439.9 294.71 L440.34 293.86 L440.77 292.16 L441.21 287.28 L441.64 282.64 L442.08 281.46 L442.52 280.22 L442.95 279.95 L443.39 278.88 L443.82 277.79 L444.26 277.19 L444.7 277.21 L445.13 276.95 L445.57 276.76 L446 276.73 L446.44 276.22 L446.88 276.7 L447.31 275.91 L447.75 276.39 L448.18 277.08 L448.62 276.79 L449.05 276.08 L449.49 276.11 L449.93 276.41 L450.36 276.07 L450.8 275.46 L451.23 275.24 L451.67 274.91 L452.11 275.75 L452.54 275.01 L452.98 274.59 L453.41 274.89 L453.85 274.07 L454.28 275.22 L454.72 274.92 L455.16 274.78 L455.59 275.05 L456.03 274.82 L456.46 274.63 L456.9 274.74 L457.34 274.95 L457.77 274.9 L458.21 274.67 L458.64 275.43 L459.08 274.5 L459.51 275.17 L459.95 274.72 L460.39 275.17 L460.82 274.54 L461.26 274.81 L461.69 274.77 L462.13 275.06 L462.56 274.65 L463 273.91 L463.44 275.79 L463.87 274.62 L464.31 274.86 L464.74 275.27 L465.18 275.84 L465.62 274.43 L466.05 275.28 L466.49 274.97 L466.92 275.83 L467.36 276.18 L467.8 275.36 L468.23 275.71 L468.67 276.45 L469.1 276.62 L469.54 276.42 L469.97 277.44 L470.41 277.73 L470.85 277.6 L471.28 277.47 L471.72 278.02 L472.15 278.68 L472.59 278 L473.02 278.58 L473.46 278.54 L473.9 276.82 L474.33 278.11 L474.77 277.31 L475.2 277.12 L475.64 277.13 L476.08 276.86 L476.51 276.39 L476.95 276.25 L477.38 276.64 L477.82 276.11 L478.25 275.16 L478.69 275.29 L479.13 275.69 L479.56 275.21 L480 275.55 L480.43 275.49 L480.87 274.87 L481.31 273.53 L481.74 274.49 L482.18 274.99 L482.61 273.79 L483.05 273.87 L483.49 272.9 L483.92 272.42 L484.36 273.04 L484.79 272.58 L485.23 272.9 L485.66 271.57 L486.1 272 L486.1 272 L433.8 298 Z" stroke="#e60c0c" stroke-width="1.7" fill="#f46a6a" stroke-linejoin="round" fill-opacity="0.38"/>
<path d="M455.6 298.3 L456.04 298.59 L456.47 298.54 L456.91 297.3 L457.34 297.53 L457.78 296.29 L458.22 296.6 L458.65 297.04 L459.09 296.11 L459.52 296.21 L459.96 296.45 L460.39 295.38 L460.83 296.04 L461.27 294.39 L461.7 294.74 L462.14 294.68 L462.57 291.73 L463.01 285.6 L463.45 282.62 L463.88 279.08 L464.32 278.35 L464.75 276.56 L465.19 276.01 L465.62 274.76 L466.06 275.3 L466.5 274.87 L466.93 273.84 L467.37 274.78 L467.8 273.53 L468.24 274.26 L468.68 274.59 L469.11 273.4 L469.55 273.4 L469.98 273.89 L470.42 272.64 L470.85 272.54 L471.29 273.7 L471.73 273.54 L472.16 273.2 L472.6 273.17 L473.03 273.4 L473.47 272.59 L473.91 272.88 L474.34 272.73 L474.78 272.8 L475.21 272.66 L475.65 273.22 L476.08 273.21 L476.52 272.94 L476.96 272.88 L477.39 272.12 L477.83 272.46 L478.26 273.13 L478.7 273.27 L479.14 271.94 L479.57 272.45 L480.01 272.23 L480.44 273.36 L480.88 272.8 L481.31 272.32 L481.75 272 L482.19 273.09 L482.62 272.89 L483.06 273.06 L483.49 272.88 L483.93 273.27 L484.37 272.99 L484.8 273.34 L485.24 272.75 L485.67 273.74 L486.11 274.13 L486.54 274.49 L486.98 273.87 L487.42 275.2 L487.85 274.97 L488.29 274.36 L488.72 273.84 L489.16 276.06 L489.6 275.59 L490.03 275.47 L490.47 275.76 L490.9 275.11 L491.34 276.01 L491.77 276.93 L492.21 276.37 L492.65 276.91 L493.08 277.63 L493.52 279.15 L493.95 278.73 L494.39 277.86 L494.83 278.77 L495.26 278.09 L495.7 279.11 L496.13 278.43 L496.57 278.2 L497 277.35 L497.44 276.53 L497.88 277.54 L498.31 276.6 L498.75 276.49 L499.18 276.97 L499.62 276.07 L500.06 276.22 L500.49 275.71 L500.93 276.13 L501.36 275.16 L501.8 274.87 L502.23 275 L502.67 275.13 L503.11 275.57 L503.54 275.07 L503.98 273.63 L504.41 273.91 L504.85 274.05 L505.29 273.04 L505.72 273.1 L506.16 273.67 L506.59 273.07 L507.03 272.39 L507.46 272.39 L507.9 272.3 L507.9 272.3 L455.6 298.3 Z" stroke="#e60c0c" stroke-width="1.7" fill="#f46a6a" stroke-linejoin="round" fill-opacity="0.38"/>
<path d="M477.4 298.6 L477.84 299.46 L478.27 297.88 L478.71 297.52 L479.14 297.65 L479.58 296.74 L480.01 297.49 L480.45 296.74 L480.89 296.5 L481.32 296.22 L481.76 296.83 L482.19 295.08 L482.63 295.79 L483.07 295.25 L483.5 295 L483.94 293.82 L484.37 284.45 L484.81 265.04 L485.25 251.18 L485.68 242.15 L486.12 237.54 L486.55 234.45 L486.99 233.14 L487.42 232.98 L487.86 231.35 L488.3 230.5 L488.73 230.44 L489.17 229.32 L489.6 230.76 L490.04 230.47 L490.47 229.4 L490.91 230.32 L491.35 230.16 L491.78 230.37 L492.22 230.38 L492.65 230.69 L493.09 231.72 L493.53 230.27 L493.96 231.75 L494.4 231.81 L494.83 231.68 L495.27 231.89 L495.7 232.61 L496.14 233.82 L496.58 234.12 L497.01 233.44 L497.45 234.13 L497.88 234.19 L498.32 234.79 L498.76 236.2 L499.19 236.4 L499.63 235.69 L500.06 237.69 L500.5 238.66 L500.94 237.51 L501.37 239.31 L501.81 239.09 L502.24 241.21 L502.68 241.39 L503.11 241.48 L503.55 242.22 L503.99 242.66 L504.42 243.27 L504.86 244.2 L505.29 246.06 L505.73 245.35 L506.16 246.35 L506.6 247.77 L507.04 248.66 L507.47 250.92 L507.91 250.61 L508.34 251.33 L508.78 253.22 L509.22 253.91 L509.65 255.5 L510.09 255.62 L510.52 256.44 L510.96 259.04 L511.39 260.51 L511.83 262.11 L512.27 262.28 L512.7 264.32 L513.14 266.22 L513.57 267.99 L514.01 270.34 L514.45 272.34 L514.88 274.02 L515.32 277.4 L515.75 278.82 L516.19 279.31 L516.62 278.12 L517.06 278.81 L517.5 279.98 L517.93 278.14 L518.37 278.15 L518.8 277.73 L519.24 278.18 L519.68 277.46 L520.11 277.81 L520.55 277.78 L520.98 276.43 L521.42 277.31 L521.86 276.2 L522.29 275.24 L522.73 275.83 L523.16 276.16 L523.6 275.92 L524.03 276.18 L524.47 275.08 L524.91 274.88 L525.34 274.81 L525.78 273.9 L526.21 274.66 L526.65 273.62 L527.08 273.77 L527.52 273.73 L527.96 273.73 L528.39 273.84 L528.83 273.4 L529.26 272.93 L529.7 272.6 L529.7 272.6 L477.4 298.6 Z" stroke="#e60c0c" stroke-width="1.7" fill="#f46a6a" stroke-linejoin="round" fill-opacity="0.38"/>
<path d="M499.2 298.9 L499.64 299.53 L500.07 299.23 L500.51 299.07 L500.94 297.8 L501.38 297.21 L501.81 297.85 L502.25 297.47 L502.69 298.04 L503.12 296.86 L503.56 296.85 L503.99 295.62 L504.43 294.68 L504.87 296.09 L505.3 296.29 L505.74 292.89 L506.17 280.18 L506.61 254.11 L507.04 233.34 L507.48 220.98 L507.92 214.41 L508.35 211.88 L508.79 208.87 L509.22 207.68 L509.66 205.75 L510.1 205.57 L510.53 205.28 L510.97 205.1 L511.4 204.86 L511.84 205.53 L512.27 206.05 L512.71 206.2 L513.15 205.91 L513.58 206.19 L514.02 207.56 L514.45 207.98 L514.89 207.08 L515.33 207.77 L515.76 207.78 L516.2 208.37 L516.63 209.34 L517.07 209.68 L517.5 210.22 L517.94 211.41 L518.38 212.47 L518.81 211.67 L519.25 212.77 L519.68 214.09 L520.12 214.17 L520.56 215.19 L520.99 215.51 L521.43 216.09 L521.86 216.74 L522.3 218.32 L522.74 218.75 L523.17 220.77 L523.61 221.79 L524.04 222.76 L524.48 222.96 L524.91 223.75 L525.35 225.22 L525.79 226.01 L526.22 226.82 L526.66 228.43 L527.09 230.14 L527.53 230.97 L527.97 231.96 L528.4 232.91 L528.84 234.31 L529.27 236.27 L529.71 237.27 L530.14 239.4 L530.58 240.57 L531.02 242.27 L531.45 243.29 L531.89 246.6 L532.32 248.42 L532.76 249.74 L533.19 250.82 L533.63 254.16 L534.07 256.15 L534.5 257.76 L534.94 259.59 L535.37 263.62 L535.81 265.54 L536.25 267.87 L536.68 271.69 L537.12 276.09 L537.55 278.23 L537.99 279.73 L538.42 280.06 L538.86 279.48 L539.3 278.67 L539.73 278.9 L540.17 278.93 L540.6 279.33 L541.04 279.01 L541.48 277.17 L541.91 278.04 L542.35 277.71 L542.78 277.41 L543.22 276.56 L543.65 277.9 L544.09 276.69 L544.53 276.21 L544.96 276.72 L545.4 276.05 L545.83 275.18 L546.27 276.24 L546.71 275.89 L547.14 274.79 L547.58 275.64 L548.01 274.53 L548.45 274.93 L548.88 274.81 L549.32 273.79 L549.76 272.81 L550.19 273.15 L550.63 273.19 L551.06 273.23 L551.5 272.9 L551.5 272.9 L499.2 298.9 Z" stroke="#e60c0c" stroke-width="1.7" fill="#f46a6a" stroke-linejoin="round" fill-opacity="0.38"/>
<path d="M521 299.2 L521.44 298.46 L521.87 298.52 L522.31 298.54 L522.74 297.74 L523.18 298.16 L523.62 296.82 L524.05 298.52 L524.49 297.8 L524.92 296.68 L525.36 297.32 L525.79 297.1 L526.23 296.54 L526.67 296.34 L527.1 296.37 L527.54 294.11 L527.97 283.96 L528.41 264.92 L528.85 250.62 L529.28 241.18 L529.72 235.81 L530.15 232.23 L530.59 232.6 L531.02 230.95 L531.46 228.66 L531.9 229.09 L532.33 229.28 L532.77 227.9 L533.2 228.28 L533.64 228.57 L534.08 227.89 L534.51 228.75 L534.95 228.3 L535.38 228.49 L535.82 227.89 L536.25 228.17 L536.69 229.7 L537.13 229.59 L537.56 230.55 L538 230.52 L538.43 230.11 L538.87 230.68 L539.3 231.29 L539.74 232.26 L540.18 232.04 L540.61 232.97 L541.05 233.61 L541.48 232.67 L541.92 233.41 L542.36 235.11 L542.79 234.81 L543.23 236 L543.66 235.82 L544.1 235.53 L544.53 238.02 L544.97 237.44 L545.41 237.44 L545.84 238.8 L546.28 240.77 L546.71 240.75 L547.15 240.08 L547.59 242.47 L548.02 243 L548.46 242.85 L548.89 244.16 L549.33 244.96 L549.76 245.67 L550.2 246.68 L550.64 248.38 L551.07 248.83 L551.51 250.58 L551.94 250.8 L552.38 251.98 L552.82 253.35 L553.25 254.44 L553.69 256.34 L554.12 257.99 L554.56 258.23 L555 259.19 L555.43 261.7 L555.87 263.04 L556.3 263.93 L556.74 265.89 L557.17 267.38 L557.61 270.69 L558.05 272.28 L558.48 274.8 L558.92 277.44 L559.35 279.66 L559.79 279.87 L560.23 279.93 L560.66 278.87 L561.1 279.37 L561.53 279 L561.97 278.59 L562.4 278.69 L562.84 277.56 L563.28 278.21 L563.71 277.75 L564.15 277.75 L564.58 277.86 L565.02 277.13 L565.46 276.77 L565.89 276.63 L566.33 276.35 L566.76 276.37 L567.2 276.2 L567.63 275.62 L568.07 275.43 L568.51 274.67 L568.94 275.85 L569.38 275.46 L569.81 275.03 L570.25 274.33 L570.68 274.68 L571.12 274.97 L571.56 274.16 L571.99 274.19 L572.43 273.44 L572.86 273.21 L573.3 273.2 L573.3 273.2 L521 299.2 Z" stroke="#e60c0c" stroke-width="1.7" fill="#f46a6a" stroke-linejoin="round" fill-opacity="0.38"/>
<path d="M542.8 299.5 L543.24 298.98 L543.67 298.67 L544.11 298.64 L544.54 298.29 L544.98 298.53 L545.41 298.49 L545.85 298.2 L546.29 297.47 L546.72 296.93 L547.16 297.43 L547.59 297.32 L548.03 296.38 L548.47 296.44 L548.9 296.93 L549.34 295.35 L549.77 292.68 L550.21 285.66 L550.64 279.34 L551.08 276.04 L551.52 275.17 L551.95 274.86 L552.39 272.93 L552.82 273.38 L553.26 272.73 L553.7 272.22 L554.13 272.07 L554.57 271.69 L555 271.57 L555.44 271.73 L555.88 271.21 L556.31 271.68 L556.75 271.96 L557.18 271.23 L557.62 271.08 L558.05 271.5 L558.49 271.65 L558.93 270.73 L559.36 271.09 L559.8 270.57 L560.23 269.63 L560.67 271 L561.1 269.58 L561.54 270.12 L561.98 270.79 L562.41 270.85 L562.85 271.11 L563.28 270.43 L563.72 271.49 L564.16 270.99 L564.59 270.92 L565.03 271.21 L565.46 271.62 L565.9 271.82 L566.33 270.15 L566.77 270.24 L567.21 271.35 L567.64 270.16 L568.08 270.27 L568.51 270.56 L568.95 271.44 L569.39 271.71 L569.82 272.25 L570.26 272.19 L570.69 271.81 L571.13 272.37 L571.56 271.95 L572 272.47 L572.44 273.31 L572.87 272.82 L573.31 273.89 L573.74 273.91 L574.18 273.37 L574.62 273.24 L575.05 273.82 L575.49 274.85 L575.92 274.73 L576.36 274.51 L576.79 275.19 L577.23 276.07 L577.67 276.11 L578.1 275.94 L578.54 275.76 L578.97 277.28 L579.41 277.27 L579.85 278.22 L580.28 279.31 L580.72 279.31 L581.15 280.4 L581.59 280.19 L582.02 279.74 L582.46 280.32 L582.9 279.91 L583.33 279.03 L583.77 280.81 L584.2 278.38 L584.64 278.68 L585.08 278.61 L585.51 278.72 L585.95 277.65 L586.38 278.14 L586.82 278.1 L587.25 276.93 L587.69 276.95 L588.13 277.56 L588.56 276.99 L589 275.61 L589.43 275.92 L589.87 276.38 L590.31 275.92 L590.74 275.36 L591.18 275.67 L591.61 276.29 L592.05 276.27 L592.48 275.03 L592.92 275.11 L593.36 273.85 L593.79 274.09 L594.23 274.59 L594.66 274.01 L595.1 273.5 L595.1 273.5 L542.8 299.5 Z" stroke="#e60c0c" stroke-width="1.7" fill="#f46a6a" stroke-linejoin="round" fill-opacity="0.38"/>
<path d="M564.6 299.8 L565.04 300.2 L565.47 299.03 L565.91 299.83 L566.34 299.19 L566.78 298.27 L567.22 299.85 L567.65 298.74 L568.09 298.94 L568.52 298.4 L568.96 297.9 L569.39 296.47 L569.83 298.73 L570.27 297.67 L570.7 297.1 L571.14 295.32 L571.57 294.64 L572.01 293.19 L572.45 291.47 L572.88 289.26 L573.32 288.29 L573.75 288.66 L574.19 288.22 L574.62 288.46 L575.06 286.96 L575.5 287.01 L575.93 287.78 L576.37 287.33 L576.8 287.71 L577.24 286.29 L577.68 286.36 L578.11 286.08 L578.55 285.7 L578.98 284.93 L579.42 285.91 L579.85 285.22 L580.29 284.79 L580.73 284.85 L581.16 284.06 L581.6 284.7 L582.03 284.47 L582.47 284.58 L582.9 284.53 L583.34 284.47 L583.78 281.97 L584.21 282.82 L584.65 284.22 L585.08 282.91 L585.52 283.77 L585.96 282.68 L586.39 282.87 L586.83 283.89 L587.26 283.57 L587.7 282.75 L588.13 282.34 L588.57 281.57 L589.01 282.52 L589.44 281.82 L589.88 282.57 L590.31 282.05 L590.75 281.35 L591.19 281.36 L591.62 281.18 L592.06 282.77 L592.49 281.91 L592.93 280.67 L593.37 281.33 L593.8 280.79 L594.24 279.66 L594.67 280.73 L595.11 280.85 L595.54 281.12 L595.98 281.39 L596.42 279.85 L596.85 280.69 L597.29 280.13 L597.72 281.54 L598.16 279.38 L598.6 280.75 L599.03 281.17 L599.47 280.41 L599.9 280.34 L600.34 280.48 L600.77 280.93 L601.21 280.48 L601.65 280.34 L602.08 280.86 L602.52 280.43 L602.95 280.99 L603.39 281.18 L603.83 280.14 L604.26 280.41 L604.7 279.06 L605.13 279.1 L605.57 281.02 L606 280.25 L606.44 278.33 L606.88 279.58 L607.31 279.13 L607.75 278.09 L608.18 277.6 L608.62 277.86 L609.06 278.47 L609.49 277.2 L609.93 276.6 L610.36 276.93 L610.8 277.88 L611.23 276.39 L611.67 276.34 L612.11 276.2 L612.54 275.92 L612.98 275.08 L613.41 276.26 L613.85 275.16 L614.28 275.78 L614.72 275.13 L615.16 274.12 L615.59 273.54 L616.03 273.81 L616.46 273.76 L616.9 273.8 L616.9 273.8 L564.6 299.8 Z" stroke="#e60c0c" stroke-width="1.7" fill="#f46a6a" stroke-linejoin="round" fill-opacity="0.38"/>
<path d="M586.4 300.1 L586.84 299.52 L587.27 300.02 L587.71 299.11 L588.14 300.53 L588.58 299.37 L589.01 297.94 L589.45 298.75 L589.89 298.09 L590.32 298.67 L590.76 297.2 L591.19 297.24 L591.63 296.86 L592.07 297.48 L592.5 296.8 L592.94 297.05 L593.37 294.8 L593.81 293.24 L594.25 289.64 L594.68 288.06 L595.12 287.75 L595.55 286.25 L595.99 286.63 L596.42 285.26 L596.86 286.19 L597.3 286.08 L597.73 285.49 L598.17 283.37 L598.6 285.89 L599.04 285.04 L599.48 284.87 L599.91 284.1 L600.35 285.17 L600.78 283.09 L601.22 285.03 L601.65 282.98 L602.09 283.84 L602.53 284.07 L602.96 282.98 L603.4 284.17 L603.83 283.14 L604.27 283.68 L604.7 283.56 L605.14 283.42 L605.58 282.65 L606.01 281.51 L606.45 282.55 L606.88 281.45 L607.32 282.45 L607.76 281.58 L608.19 281.47 L608.63 281.86 L609.06 281.24 L609.5 281.36 L609.93 281.25 L610.37 282.27 L610.81 281.12 L611.24 280.17 L611.68 282.09 L612.11 281.02 L612.55 280.9 L612.99 280.7 L613.42 280.51 L613.86 280.29 L614.29 280.89 L614.73 280.57 L615.16 280.99 L615.6 281.27 L616.04 280.84 L616.47 280.38 L616.91 280.4 L617.34 280.52 L617.78 280.54 L618.22 279.71 L618.65 280.18 L619.09 280.04 L619.52 278.87 L619.96 280.29 L620.39 279.99 L620.83 279.77 L621.27 281.31 L621.7 280.51 L622.14 280.23 L622.57 279.99 L623.01 280.76 L623.45 280.48 L623.88 280.49 L624.32 280.55 L624.75 281.21 L625.19 280.44 L625.62 280.25 L626.06 280.95 L626.5 281.93 L626.93 279.77 L627.37 279 L627.8 279.65 L628.24 278.23 L628.68 279.9 L629.11 278.8 L629.55 278.3 L629.98 279.01 L630.42 278.29 L630.86 277.99 L631.29 277.36 L631.73 276.85 L632.16 277.3 L632.6 277.84 L633.03 276.06 L633.47 276.43 L633.91 275.86 L634.34 277.13 L634.78 276.05 L635.21 276.63 L635.65 275.92 L636.08 274.98 L636.52 274.9 L636.96 274.24 L637.39 275.27 L637.83 273.7 L638.26 274.27 L638.7 274.1 L638.7 274.1 L586.4 300.1 Z" stroke="#e60c0c" stroke-width="1.7" fill="#f46a6a" stroke-linejoin="round" fill-opacity="0.38"/>
<path d="M608.2 300.4 L608.64 300.27 L609.07 300.3 L609.51 299.33 L609.94 299.23 L610.38 299.26 L610.82 299.56 L611.25 298.32 L611.69 299.15 L612.12 299.19 L612.56 298.27 L612.99 298.61 L613.43 298.08 L613.87 297.26 L614.3 298.13 L614.74 297.17 L615.17 296.72 L615.61 296.08 L616.05 295.38 L616.48 294.28 L616.92 295.92 L617.35 295.36 L617.79 293.83 L618.22 293.26 L618.66 293.59 L619.1 292.85 L619.53 293.18 L619.97 294.04 L620.4 294 L620.84 292.87 L621.28 293.31 L621.71 292.2 L622.15 292.11 L622.58 291.58 L623.02 292.5 L623.45 290.73 L623.89 291.45 L624.33 291.19 L624.76 291.01 L625.2 289.85 L625.63 291.32 L626.07 291.04 L626.5 289.47 L626.94 289.94 L627.38 289.47 L627.81 289.51 L628.25 289.82 L628.68 288.24 L629.12 288.45 L629.56 289.71 L629.99 288.67 L630.43 287.86 L630.86 288.77 L631.3 287.73 L631.74 287.54 L632.17 287.15 L632.61 287.87 L633.04 286.88 L633.48 286.1 L633.91 286.55 L634.35 286.8 L634.79 287.57 L635.22 286.79 L635.66 285.34 L636.09 285.11 L636.53 286.35 L636.97 284.92 L637.4 284.64 L637.84 284.6 L638.27 284.75 L638.71 284.34 L639.14 284.32 L639.58 284.39 L640.02 283.19 L640.45 283.14 L640.89 282.91 L641.32 282.25 L641.76 284.02 L642.2 282.82 L642.63 283.22 L643.07 283.04 L643.5 282.83 L643.94 281.96 L644.37 281.96 L644.81 281.51 L645.25 281.88 L645.68 281.83 L646.12 281.05 L646.55 281.3 L646.99 281.42 L647.43 280.83 L647.86 280.61 L648.3 280.44 L648.73 280.15 L649.17 280.8 L649.6 279.54 L650.04 279.54 L650.48 279.05 L650.91 278.37 L651.35 279.13 L651.78 278.64 L652.22 280.01 L652.66 278.23 L653.09 279.45 L653.53 278.41 L653.96 278.23 L654.4 276.91 L654.83 277.87 L655.27 277.36 L655.71 276.44 L656.14 276.95 L656.58 275.84 L657.01 275.71 L657.45 276.45 L657.88 275.77 L658.32 275.4 L658.76 275.34 L659.19 275.4 L659.63 275.59 L660.06 275.2 L660.5 274.4 L660.5 274.4 L608.2 300.4 Z" stroke="#e60c0c" stroke-width="1.7" fill="#f46a6a" stroke-linejoin="round" fill-opacity="0.38"/>
<text transform="translate(417.9,327.6) rotate(-90)" font-size="13" font-weight="bold" fill="#111" text-anchor="start">808</text>
<text transform="translate(439.75,327.83) rotate(-90)" font-size="13" font-weight="bold" fill="#111" text-anchor="start">720</text>
<text transform="translate(461.6,328.06) rotate(-90)" font-size="13" font-weight="bold" fill="#111" text-anchor="start">740</text>
<text transform="translate(483.45,328.29) rotate(-90)" font-size="13" font-weight="bold" fill="#111" text-anchor="start">750</text>
<text transform="translate(505.3,328.52) rotate(-90)" font-size="13" font-weight="bold" fill="#111" text-anchor="start">760</text>
<text transform="translate(527.15,328.75) rotate(-90)" font-size="13" font-weight="bold" fill="#111" text-anchor="start">780</text>
<text transform="translate(549,328.98) rotate(-90)" font-size="13" font-weight="bold" fill="#111" text-anchor="start">800</text>
<text transform="translate(570.85,329.21) rotate(-90)" font-size="13" font-weight="bold" fill="#111" text-anchor="start">840</text>
<text transform="translate(592.7,329.44) rotate(-90)" font-size="13" font-weight="bold" fill="#111" text-anchor="start">870</text>
<text transform="translate(614.55,329.67) rotate(-90)" font-size="13" font-weight="bold" fill="#111" text-anchor="start">905</text>
<text transform="translate(627.5,338) rotate(-90)" font-size="11.5" fill="#111" text-anchor="middle">100</text>
<text transform="translate(645.3,329.4) rotate(-90)" font-size="11.5" fill="#111" text-anchor="middle">200</text>
<text transform="translate(662.5,320.5) rotate(-90)" font-size="11.5" fill="#111" text-anchor="middle">300</text>
<text transform="translate(371.2,274.7) rotate(-90)" font-size="13.6" font-weight="bold" fill="#111" text-anchor="middle"><tspan font-weight="normal">Δ</tspan> F<tspan font-size="8.5" dy="3">f</tspan><tspan dy="-3"> (%)</tspan></text>
<text transform="translate(358.6,387.2)" font-size="24" font-weight="bold">E</text>
<path d="M408.6 513.7 L461.8 487.5 L656.2 489.99" stroke="#c4c4c4" stroke-width="1.0" fill="none" />
<path d="M408.6 473.5 L461.8 447.3 L656.2 449.79" stroke="#c4c4c4" stroke-width="1.0" fill="none" />
<path d="M408.6 433.3 L461.8 407.1 L656.2 409.59" stroke="#c4c4c4" stroke-width="1.0" fill="none" />
<path d="M408.6 393.1 L461.8 366.9 L656.2 369.39" stroke="#c4c4c4" stroke-width="1.0" fill="none" />
<line x1="605.1" y1="516.2" x2="656.2" y2="489.99" stroke="#c4c4c4" stroke-width="1.0" />
<line x1="408.6" y1="393.1" x2="408.6" y2="513.7" stroke="#222" stroke-width="1.3" />
<line x1="404.8" y1="513.7" x2="408.6" y2="513.7" stroke="#222" stroke-width="1.3" />
<text x="398.1" y="517.8" font-size="11.5" font-weight="normal" fill="#111" text-anchor="end" >-1</text>
<line x1="404.8" y1="473.5" x2="408.6" y2="473.5" stroke="#222" stroke-width="1.3" />
<text x="398.1" y="477.6" font-size="11.5" font-weight="normal" fill="#111" text-anchor="end" >-0.5</text>
<line x1="404.8" y1="433.3" x2="408.6" y2="433.3" stroke="#222" stroke-width="1.3" />
<text x="398.1" y="437.4" font-size="11.5" font-weight="normal" fill="#111" text-anchor="end" >0</text>
<line x1="404.8" y1="393.1" x2="408.6" y2="393.1" stroke="#222" stroke-width="1.3" />
<text x="398.1" y="397.2" font-size="11.5" font-weight="normal" fill="#111" text-anchor="end" >0.5</text>
<path d="M408.6 433.3 L409.04 432.67 L409.49 432.4 L409.93 432.62 L410.37 432.67 L410.82 432.56 L411.26 431.98 L411.7 432.1 L412.15 432.02 L412.59 431.27 L413.03 431.07 L413.48 430.72 L413.92 430.97 L414.36 430.46 L414.81 430.26 L415.25 430.51 L415.69 428.76 L416.14 427.06 L416.58 426.59 L417.02 430.53 L417.47 436.48 L417.91 440.62 L418.35 445 L418.8 448.07 L419.24 451.31 L419.68 453.66 L420.13 455.66 L420.57 457.72 L421.01 459.55 L421.46 461.37 L421.9 462.2 L422.34 463.53 L422.79 464.43 L423.23 465.6 L423.67 466.23 L424.12 467.41 L424.56 468.05 L425 468.54 L425.45 469.71 L425.89 470.07 L426.33 470.64 L426.78 470.33 L427.22 471.43 L427.66 471.54 L428.11 471.81 L428.55 472.25 L428.99 472.7 L429.44 471.91 L429.88 472.34 L430.32 471.95 L430.77 472.52 L431.21 472.12 L431.65 471.39 L432.1 471.07 L432.54 471.61 L432.98 471.24 L433.43 470.44 L433.87 469.8 L434.31 469.59 L434.76 469.13 L435.2 469.11 L435.64 468.16 L436.09 467.53 L436.53 467.55 L436.97 467.38 L437.42 466.65 L437.86 465.63 L438.3 465.88 L438.75 464.79 L439.19 464.49 L439.63 463.59 L440.08 462.96 L440.52 462.14 L440.96 460.88 L441.41 460.38 L441.85 459.2 L442.29 458.73 L442.74 457.84 L443.18 456.53 L443.62 456.38 L444.07 454.13 L444.51 452.57 L444.95 451.45 L445.4 449.3 L445.84 448.06 L446.28 447.15 L446.73 444.87 L447.17 443.53 L447.61 441.8 L448.06 440.12 L448.5 438.15 L448.94 437.09 L449.39 435.76 L449.83 434.29 L450.27 433.7 L450.72 431.45 L451.16 430.94 L451.6 429.2 L452.05 428.46 L452.49 427.16 L452.93 425.69 L453.38 423.63 L453.82 422.67 L454.26 421.74 L454.71 420.32 L455.15 419.33 L455.59 417.78 L456.04 416.86 L456.48 415.47 L456.92 415.27 L457.37 414.12 L457.81 413.51 L458.25 412.74 L458.7 411.58 L459.14 411.09 L459.58 410.27 L460.03 409.42 L460.47 408.78 L460.91 408.92 L461.36 407.63 L461.8 407.1 L461.8 407.1 L408.6 433.3 Z" stroke="#1e6eb8" stroke-width="1.4" fill="#589bde" stroke-linejoin="round" fill-opacity="0.3"/>
<path d="M430.2 433.6 L430.64 432.99 L431.09 432.85 L431.53 433.39 L431.97 433.35 L432.42 432.54 L432.86 432.04 L433.3 432.12 L433.75 432.32 L434.19 431.79 L434.63 430.96 L435.08 431.64 L435.52 430.64 L435.96 430.59 L436.41 430.39 L436.85 430.08 L437.29 429.5 L437.74 427.78 L438.18 427.31 L438.62 430.86 L439.07 436.02 L439.51 440.38 L439.95 443.64 L440.4 446.16 L440.84 448.48 L441.28 450.9 L441.73 452.88 L442.17 454.6 L442.61 456.12 L443.06 457.15 L443.5 458.67 L443.94 459.33 L444.39 460.65 L444.83 462.01 L445.27 462.69 L445.72 463.04 L446.16 463.74 L446.6 464.53 L447.05 464.89 L447.49 465.08 L447.93 465.47 L448.38 465.73 L448.82 466.63 L449.26 466.52 L449.71 466.52 L450.15 466.85 L450.59 466.41 L451.04 467.12 L451.48 466.94 L451.92 466.82 L452.37 466.92 L452.81 466.67 L453.25 466.39 L453.7 466.22 L454.14 466.04 L454.58 465.66 L455.03 465.17 L455.47 465.27 L455.91 464.35 L456.36 464.36 L456.8 463.69 L457.24 463.53 L457.69 462.72 L458.13 462.43 L458.57 461.92 L459.02 461.6 L459.46 460.83 L459.9 459.85 L460.35 460.4 L460.79 459.12 L461.23 458.64 L461.68 458.21 L462.12 457.81 L462.56 456.19 L463.01 455.86 L463.45 454.79 L463.89 454.36 L464.34 453.58 L464.78 452.05 L465.22 451.09 L465.67 450.18 L466.11 448.81 L466.55 447.13 L467 446.13 L467.44 444.73 L467.88 443.1 L468.33 441.36 L468.77 439.98 L469.21 438.76 L469.66 436.98 L470.1 436.09 L470.54 434.9 L470.99 432.77 L471.43 432.45 L471.87 430.93 L472.32 429.79 L472.76 428.79 L473.2 427.63 L473.65 426.35 L474.09 425.26 L474.53 424.46 L474.98 423.07 L475.42 421.42 L475.86 420.4 L476.31 419.57 L476.75 418.27 L477.19 417.51 L477.64 416.61 L478.08 415.49 L478.52 414.02 L478.97 413.97 L479.41 413.69 L479.85 412.43 L480.3 411.96 L480.74 410.88 L481.18 410.11 L481.63 410 L482.07 409.25 L482.51 408.95 L482.96 407.67 L483.4 407.4 L483.4 407.4 L430.2 433.6 Z" stroke="#1e6eb8" stroke-width="1.4" fill="#589bde" stroke-linejoin="round" fill-opacity="0.3"/>
<path d="M451.8 433.9 L452.24 433.98 L452.69 433.87 L453.13 433.04 L453.57 433.08 L454.02 432.26 L454.46 432.35 L454.9 432.53 L455.35 431.88 L455.79 431.85 L456.23 431.9 L456.68 431.18 L457.12 431.48 L457.56 430.41 L458.01 430.53 L458.45 430.74 L458.89 430.29 L459.34 429.43 L459.78 430.05 L460.22 430.06 L460.67 431.46 L461.11 431.65 L461.55 432.31 L462 432.31 L462.44 433.21 L462.88 433.46 L463.33 433.27 L463.77 434.16 L464.21 433.66 L464.66 434.27 L465.1 434.62 L465.54 434.04 L465.99 434.15 L466.43 434.53 L466.87 433.85 L467.32 433.83 L467.76 434.53 L468.2 434.44 L468.65 434.23 L469.09 434.19 L469.53 434.3 L469.98 433.77 L470.42 433.88 L470.86 433.72 L471.31 433.66 L471.75 433.44 L472.19 433.62 L472.64 433.45 L473.08 433.13 L473.52 432.92 L473.97 432.28 L474.41 432.29 L474.85 432.47 L475.3 432.33 L475.74 431.3 L476.18 431.34 L476.63 430.95 L477.07 431.36 L477.51 430.76 L477.96 430.2 L478.4 429.73 L478.84 430.08 L479.29 429.67 L479.73 429.47 L480.17 429.04 L480.62 428.95 L481.06 428.45 L481.5 428.31 L481.95 427.61 L482.39 427.83 L482.83 427.68 L483.28 427.5 L483.72 426.72 L484.16 427.08 L484.61 426.5 L485.05 425.67 L485.49 424.89 L485.94 425.71 L486.38 424.91 L486.82 424.29 L487.27 423.87 L487.71 422.84 L488.15 422.69 L488.6 422.54 L489.04 421.51 L489.48 421.12 L489.93 420.75 L490.37 420.8 L490.81 419.83 L491.26 418.86 L491.7 419.06 L492.14 418.32 L492.59 418.61 L493.03 417.91 L493.47 417.47 L493.92 416.67 L494.36 415.9 L494.8 416.21 L495.25 415.36 L495.69 415 L496.13 415 L496.58 414.16 L497.02 413.93 L497.46 413.33 L497.91 413.27 L498.35 412.4 L498.79 411.96 L499.24 411.77 L499.68 411.61 L500.12 411.66 L500.57 411.15 L501.01 410.11 L501.45 410.08 L501.9 409.98 L502.34 409.2 L502.78 409.06 L503.23 409.23 L503.67 408.7 L504.11 408.12 L504.56 407.94 L505 407.7 L505 407.7 L451.8 433.9 Z" stroke="#1e6eb8" stroke-width="1.4" fill="#589bde" stroke-linejoin="round" fill-opacity="0.3"/>
<path d="M473.4 434.2 L473.84 434.62 L474.29 433.59 L474.73 433.29 L475.17 433.27 L475.62 432.65 L476.06 433 L476.5 432.47 L476.95 432.24 L477.39 431.98 L477.83 432.25 L478.28 431.12 L478.72 431.46 L479.16 431.05 L479.61 430.81 L480.05 431.19 L480.49 430.78 L480.94 429.82 L481.38 429.93 L481.82 430.46 L482.27 431.38 L482.71 431.82 L483.15 432.64 L483.6 433.67 L484.04 433.49 L484.48 433.64 L484.93 434.11 L485.37 433.77 L485.81 434.79 L486.26 434.68 L486.7 434.04 L487.14 434.57 L487.59 434.45 L488.03 434.51 L488.47 434.42 L488.92 434.47 L489.36 434.92 L489.8 433.87 L490.25 434.54 L490.69 434.34 L491.13 434.02 L491.58 433.88 L492.02 434.01 L492.46 434.4 L492.91 434.21 L493.35 433.42 L493.79 433.4 L494.24 432.99 L494.68 432.88 L495.12 433.24 L495.57 432.87 L496.01 431.94 L496.45 432.6 L496.9 432.63 L497.34 431.38 L497.78 431.86 L498.23 431.14 L498.67 431.78 L499.11 431.27 L499.56 430.68 L500 430.47 L500.44 430.05 L500.89 429.72 L501.33 429.56 L501.77 429.93 L502.22 428.75 L502.66 428.56 L503.1 428.58 L503.55 428.26 L503.99 428.73 L504.43 427.64 L504.88 427.14 L505.32 427.3 L505.76 426.71 L506.21 426.64 L506.65 425.65 L507.09 425.05 L507.54 425.46 L507.98 425.16 L508.42 424.87 L508.87 423.67 L509.31 423.48 L509.75 423.12 L510.2 422.63 L510.64 422.45 L511.08 422.06 L511.53 421.12 L511.97 421.07 L512.41 420.28 L512.86 419.83 L513.3 418.79 L513.74 418.87 L514.19 419.25 L514.63 417.86 L515.07 417.57 L515.52 417.02 L515.96 417 L516.4 416.28 L516.85 416.2 L517.29 415.9 L517.73 414.8 L518.18 415.01 L518.62 414.05 L519.06 413.17 L519.51 413.22 L519.95 413.12 L520.39 412.7 L520.84 412.59 L521.28 411.71 L521.72 411.37 L522.17 411.13 L522.61 410.39 L523.05 410.65 L523.5 409.85 L523.94 409.76 L524.38 409.56 L524.83 409.38 L525.27 409.27 L525.71 408.84 L526.16 408.38 L526.6 408 L526.6 408 L473.4 434.2 Z" stroke="#1e6eb8" stroke-width="1.4" fill="#589bde" stroke-linejoin="round" fill-opacity="0.3"/>
<path d="M495 434.5 L495.44 434.78 L495.89 434.52 L496.33 434.33 L496.77 433.49 L497.22 433.05 L497.66 433.34 L498.1 433.02 L498.55 433.27 L498.99 432.48 L499.43 432.39 L499.88 431.57 L500.32 430.92 L500.76 431.67 L501.21 431.69 L501.65 431.23 L502.09 431.02 L502.54 430.5 L502.98 429.88 L503.42 430.63 L503.87 431.53 L504.31 432.96 L504.75 433.19 L505.2 433.89 L505.64 433.68 L506.08 434.36 L506.53 434.78 L506.97 435.03 L507.41 435.04 L507.86 435.46 L508.3 435.71 L508.74 435.72 L509.19 435.46 L509.63 435.5 L510.07 436.15 L510.52 436.18 L510.96 435.39 L511.4 435.51 L511.85 435.21 L512.29 435.23 L512.73 435.45 L513.18 435.27 L513.62 435.18 L514.06 435.42 L514.51 435.55 L514.95 434.54 L515.39 434.6 L515.84 434.78 L516.28 434.2 L516.72 434.17 L517.17 433.69 L517.61 433.35 L518.05 433.04 L518.5 433.25 L518.94 432.75 L519.38 433.17 L519.83 432.99 L520.27 432.75 L520.71 432.05 L521.16 431.67 L521.6 431.67 L522.04 431.24 L522.49 430.79 L522.93 430.8 L523.37 430.84 L523.82 430.32 L524.26 429.86 L524.7 429.33 L525.15 429.03 L525.59 429.02 L526.03 428.41 L526.48 428.43 L526.92 427.85 L527.36 427.53 L527.81 426.78 L528.25 427.34 L528.69 426.97 L529.14 426.25 L529.58 425.33 L530.02 425.68 L530.47 425.12 L530.91 424.24 L531.35 423.36 L531.8 423.71 L532.24 422.77 L532.68 422.03 L533.13 421.7 L533.57 421.56 L534.01 420.65 L534.46 420.63 L534.9 420.47 L535.34 419.78 L535.79 418.96 L536.23 418.77 L536.67 418.47 L537.12 418.4 L537.56 417.91 L538 416.51 L538.45 416.72 L538.89 416.22 L539.33 415.73 L539.78 414.9 L540.22 415.37 L540.66 414.33 L541.11 413.72 L541.55 413.71 L541.99 413.02 L542.44 412.23 L542.88 412.61 L543.32 412.18 L543.77 411.31 L544.21 411.61 L544.65 410.76 L545.1 410.8 L545.54 410.54 L545.98 409.75 L546.43 408.99 L546.87 409.01 L547.31 408.85 L547.76 408.69 L548.2 408.3 L548.2 408.3 L495 434.5 Z" stroke="#1e6eb8" stroke-width="1.4" fill="#589bde" stroke-linejoin="round" fill-opacity="0.3"/>
<path d="M516.6 434.8 L517.04 434.27 L517.49 434.22 L517.93 434.14 L518.37 433.58 L518.82 433.73 L519.26 432.85 L519.7 433.76 L520.15 433.25 L520.59 432.5 L521.03 432.78 L521.48 432.56 L521.92 432.15 L522.36 431.94 L522.81 431.86 L523.25 431.65 L523.69 430.78 L524.14 430.08 L524.58 430.35 L525.02 431.68 L525.47 433.71 L525.91 435.08 L526.35 437.96 L526.8 438.98 L527.24 439.15 L527.68 440.74 L528.13 441.96 L528.57 441.99 L529.01 442.83 L529.46 443.45 L529.9 443.41 L530.34 444.25 L530.79 444.26 L531.23 444.6 L531.67 444.41 L532.12 444.69 L532.56 445.65 L533 445.59 L533.45 446.14 L533.89 446.07 L534.33 445.76 L534.78 445.99 L535.22 446.2 L535.66 446.57 L536.11 446.18 L536.55 446.41 L536.99 446.41 L537.44 445.45 L537.88 445.46 L538.32 446.02 L538.77 445.37 L539.21 445.57 L539.65 444.93 L540.1 444.18 L540.54 445.05 L540.98 444.07 L541.43 443.41 L541.87 443.55 L542.31 444.03 L542.76 443.31 L543.2 442.19 L543.64 442.86 L544.09 442.4 L544.53 441.51 L544.97 441.47 L545.42 441.08 L545.86 440.61 L546.3 440.29 L546.75 440.34 L547.19 439.62 L547.63 439.63 L548.08 438.69 L548.52 438.27 L548.96 437.93 L549.41 437.37 L549.85 437.25 L550.29 436.93 L550.74 435.72 L551.18 434.88 L551.62 434.86 L552.07 434.04 L552.51 432.82 L552.95 432.13 L553.4 431.09 L553.84 431.11 L554.28 430.11 L554.73 429.28 L555.17 428.4 L555.61 427.7 L556.06 426.75 L556.5 426.13 L556.94 424.89 L557.39 424.59 L557.83 423.79 L558.27 422.99 L558.72 422.5 L559.16 421.29 L559.6 421.14 L560.05 420.33 L560.49 419.79 L560.93 419.3 L561.38 418.3 L561.82 417.5 L562.26 416.84 L562.71 416.1 L563.15 415.57 L563.59 414.95 L564.04 414.14 L564.48 413.6 L564.92 412.78 L565.37 413.13 L565.81 412.57 L566.25 412 L566.7 411.28 L567.14 411.2 L567.58 411.09 L568.03 410.33 L568.47 410.06 L568.91 409.33 L569.36 408.91 L569.8 408.6 L569.8 408.6 L516.6 434.8 Z" stroke="#1e6eb8" stroke-width="1.4" fill="#589bde" stroke-linejoin="round" fill-opacity="0.3"/>
<path d="M538.2 435.1 L538.64 434.7 L539.09 434.43 L539.53 434.32 L539.97 434.02 L540.42 434.07 L540.86 433.96 L541.3 433.7 L541.75 433.18 L542.19 432.77 L542.63 432.98 L543.08 432.82 L543.52 432.17 L543.96 432.12 L544.41 432.32 L544.85 431.69 L545.29 431.29 L545.74 429.75 L546.18 429.08 L546.62 431.27 L547.07 435.76 L547.51 439.31 L547.95 441.33 L548.4 444.13 L548.84 445.87 L549.28 447.46 L549.73 449.04 L550.17 450.23 L550.61 451.32 L551.06 452.42 L551.5 453.01 L551.94 454.12 L552.39 455.05 L552.83 455.3 L553.27 455.83 L553.72 456.62 L554.16 457.18 L554.6 457.05 L555.05 457.65 L555.49 457.7 L555.93 457.48 L556.38 458.59 L556.82 457.99 L557.26 458.49 L557.71 459 L558.15 459.08 L558.59 459.19 L559.04 458.71 L559.48 459.26 L559.92 458.85 L560.37 458.67 L560.81 458.67 L561.25 458.69 L561.7 458.54 L562.14 457.22 L562.58 456.9 L563.03 457.19 L563.47 456.11 L563.91 455.79 L564.36 455.56 L564.8 455.67 L565.24 455.39 L565.69 455.26 L566.13 454.76 L566.57 454.04 L567.02 453.87 L567.46 453.1 L567.9 452.85 L568.35 452.78 L568.79 451.9 L569.23 451.91 L569.68 451.26 L570.12 450.22 L570.56 449.39 L571.01 448.93 L571.45 448.69 L571.89 447.73 L572.34 446.66 L572.78 446.09 L573.22 445.53 L573.67 444.32 L574.11 442.88 L574.55 441.36 L575 440.8 L575.44 439.35 L575.88 438.49 L576.33 437.56 L576.77 435.94 L577.21 435.1 L577.66 433.82 L578.1 432.57 L578.54 431.98 L578.99 430.84 L579.43 429.46 L579.87 429.68 L580.32 427.42 L580.76 426.79 L581.2 425.94 L581.65 425.2 L582.09 423.76 L582.53 423.23 L582.98 422.34 L583.42 420.78 L583.86 419.92 L584.31 419.43 L584.75 418.27 L585.19 416.69 L585.64 416.17 L586.08 415.84 L586.52 415.02 L586.97 414.18 L587.41 413.9 L587.85 413.82 L588.3 413.37 L588.74 412.23 L589.18 411.88 L589.63 410.74 L590.07 410.48 L590.51 410.38 L590.96 409.63 L591.4 408.9 L591.4 408.9 L538.2 435.1 Z" stroke="#1e6eb8" stroke-width="1.4" fill="#589bde" stroke-linejoin="round" fill-opacity="0.3"/>
<path d="M559.8 435.4 L560.24 435.55 L560.69 434.77 L561.13 435.15 L561.57 434.68 L562.02 434.04 L562.46 434.89 L562.9 434.15 L563.35 434.17 L563.79 433.76 L564.23 433.37 L564.68 432.44 L565.12 433.69 L565.56 432.97 L566.01 432.54 L566.45 431.53 L566.89 430.77 L567.34 429.51 L567.78 429.78 L568.22 432.51 L568.67 438.29 L569.11 443.46 L569.55 447.54 L570 451.24 L570.44 453.38 L570.88 456.16 L571.33 459.04 L571.77 460.9 L572.21 462.91 L572.66 463.64 L573.1 465.13 L573.54 466.31 L573.99 467.32 L574.43 468 L574.87 469.6 L575.32 470.13 L575.76 470.71 L576.2 471.5 L576.65 471.74 L577.09 472.8 L577.53 473.32 L577.98 473.97 L578.42 474.48 L578.86 474.89 L579.31 473.75 L579.75 474.5 L580.19 475.47 L580.64 474.79 L581.08 475.38 L581.52 474.78 L581.97 474.9 L582.41 475.46 L582.85 475.16 L583.3 474.49 L583.74 473.98 L584.18 473.22 L584.63 473.46 L585.07 472.73 L585.51 472.85 L585.96 472.19 L586.4 471.41 L586.84 471.03 L587.29 470.53 L587.73 471.05 L588.17 470.1 L588.62 468.91 L589.06 468.82 L589.5 468 L589.95 466.8 L590.39 466.89 L590.83 466.38 L591.28 465.9 L591.72 465.35 L592.16 463.68 L592.61 463.37 L593.05 462.16 L593.49 462.07 L593.94 459.81 L594.38 459.59 L594.82 458.67 L595.27 456.85 L595.71 455.31 L596.15 453.8 L596.6 452.43 L597.04 450.56 L597.48 448.92 L597.93 447.6 L598.37 445.66 L598.81 444.37 L599.26 442.98 L599.7 440.96 L600.14 439.8 L600.59 437.74 L601.03 436.54 L601.47 436.49 L601.92 434.87 L602.36 432.59 L602.8 432.19 L603.25 430.79 L603.69 429.04 L604.13 427.58 L604.58 426.52 L605.02 425.64 L605.46 423.65 L605.91 422.09 L606.35 421.12 L606.79 420.61 L607.24 418.74 L607.68 417.86 L608.12 417.03 L608.57 416.16 L609.01 415.01 L609.45 415.1 L609.9 413.87 L610.34 413.67 L610.78 412.75 L611.23 411.61 L611.67 410.73 L612.11 410.35 L612.56 409.76 L613 409.2 L613 409.2 L559.8 435.4 Z" stroke="#1e6eb8" stroke-width="1.4" fill="#589bde" stroke-linejoin="round" fill-opacity="0.3"/>
<path d="M581.4 435.7 L581.84 435.27 L582.29 435.47 L582.73 434.84 L583.17 435.59 L583.62 434.82 L584.06 433.88 L584.5 434.27 L584.95 433.79 L585.39 434.05 L585.83 433.08 L586.28 433.02 L586.72 432.7 L587.16 432.98 L587.61 432.49 L588.05 432.71 L588.49 431.22 L588.94 430.29 L589.38 429.66 L589.82 432.75 L590.27 438.7 L590.71 442.58 L591.15 446.96 L591.6 449.54 L592.04 452.99 L592.48 455.54 L592.93 457.51 L593.37 458.26 L593.81 461.46 L594.26 462.44 L594.7 463.71 L595.14 464.52 L595.59 466.32 L596.03 466.15 L596.47 468.27 L596.92 467.93 L597.36 469.22 L597.8 470.06 L598.25 470.08 L598.69 471.42 L599.13 471.42 L599.58 472.29 L600.02 472.7 L600.46 473.03 L600.91 472.89 L601.35 472.43 L601.79 473.15 L602.24 472.58 L602.68 473.23 L603.12 472.74 L603.57 472.66 L604.01 472.84 L604.45 472.34 L604.9 472.21 L605.34 471.87 L605.78 472.17 L606.23 471.16 L606.67 470.29 L607.11 471.08 L607.56 470.1 L608 469.65 L608.44 469.15 L608.89 468.63 L609.33 468.08 L609.77 467.99 L610.22 467.34 L610.66 467.1 L611.1 466.76 L611.55 465.98 L611.99 465.16 L612.43 464.59 L612.88 464.02 L613.32 463.33 L613.76 462.09 L614.21 461.56 L614.65 460.61 L615.09 459 L615.54 458.87 L615.98 457.68 L616.42 456.39 L616.87 455.97 L617.31 454.02 L617.75 452.29 L618.2 450.55 L618.64 449.44 L619.08 447.74 L619.53 446.13 L619.97 444.51 L620.41 443.3 L620.86 441.4 L621.3 439.94 L621.74 439.1 L622.19 438.46 L622.63 436.02 L623.07 434.43 L623.52 433.71 L623.96 431.77 L624.4 431.68 L624.85 429.94 L625.29 428.55 L625.73 427.85 L626.18 426.27 L626.62 424.9 L627.06 423.35 L627.51 421.89 L627.95 421.05 L628.39 420.34 L628.84 418.35 L629.28 417.75 L629.72 416.69 L630.17 416.78 L630.61 415.51 L631.05 415.27 L631.5 414.28 L631.94 413.19 L632.38 412.62 L632.83 411.72 L633.27 411.81 L633.71 410.36 L634.16 410.16 L634.6 409.5 L634.6 409.5 L581.4 435.7 Z" stroke="#1e6eb8" stroke-width="1.4" fill="#589bde" stroke-linejoin="round" fill-opacity="0.3"/>
<path d="M603 436 L603.44 435.83 L603.89 435.76 L604.33 435.1 L604.77 434.95 L605.22 434.88 L605.66 434.96 L606.1 434.14 L606.55 434.54 L606.99 434.47 L607.43 433.84 L607.88 433.95 L608.32 433.54 L608.76 432.97 L609.21 433.39 L609.65 432.76 L610.09 431.59 L610.54 429.71 L610.98 429.79 L611.42 432.78 L611.87 440.06 L612.31 444.7 L612.75 448.19 L613.2 451.46 L613.64 454.76 L614.08 457.13 L614.53 459.83 L614.97 462.53 L615.41 464.37 L615.86 465.34 L616.3 467.12 L616.74 467.87 L617.19 469.11 L617.63 469.99 L618.07 471.62 L618.52 471.56 L618.96 472.88 L619.4 473.53 L619.85 474.19 L620.29 474.24 L620.73 475.82 L621.18 476.3 L621.62 475.95 L622.06 476.72 L622.51 476.84 L622.95 477.16 L623.39 477.53 L623.84 476.73 L624.28 476.99 L624.72 477.83 L625.17 477.26 L625.61 476.78 L626.05 477.26 L626.5 476.49 L626.94 476.15 L627.38 475.65 L627.83 475.81 L628.27 474.95 L628.71 474.2 L629.16 474.16 L629.6 473.98 L630.04 474.11 L630.49 473.29 L630.93 472.05 L631.37 471.53 L631.82 471.85 L632.26 470.57 L632.7 469.96 L633.15 469.47 L633.59 469.06 L634.03 468.3 L634.48 467.71 L634.92 467.1 L635.36 465.69 L635.81 464.9 L636.25 463.95 L636.69 462.69 L637.14 462.82 L637.58 461.14 L638.02 460.27 L638.47 458.86 L638.91 457.29 L639.35 455.24 L639.8 453.68 L640.24 451.88 L640.68 450.62 L641.13 449.07 L641.57 447.05 L642.01 445.65 L642.46 444.21 L642.9 442.42 L643.34 440.93 L643.79 439.52 L644.23 438.09 L644.67 437.26 L645.12 435.32 L645.56 434.14 L646 432.68 L646.45 431.11 L646.89 430.39 L647.33 428.89 L647.78 428.45 L648.22 426.13 L648.66 425.58 L649.11 423.72 L649.55 422.42 L649.99 420.52 L650.44 420.08 L650.88 418.9 L651.32 417.59 L651.77 417.17 L652.21 415.84 L652.65 415.13 L653.1 414.98 L653.54 414 L653.98 413.22 L654.43 412.63 L654.87 412.12 L655.31 411.68 L655.76 410.87 L656.2 409.8 L656.2 409.8 L603 436 Z" stroke="#1e6eb8" stroke-width="1.4" fill="#589bde" stroke-linejoin="round" fill-opacity="0.3"/>
<text transform="translate(415,461.2) rotate(-90)" font-size="13" font-weight="bold" fill="#111" text-anchor="start">808</text>
<text transform="translate(436.62,461.48) rotate(-90)" font-size="13" font-weight="bold" fill="#111" text-anchor="start">720</text>
<text transform="translate(458.24,461.76) rotate(-90)" font-size="13" font-weight="bold" fill="#111" text-anchor="start">740</text>
<text transform="translate(479.86,462.04) rotate(-90)" font-size="13" font-weight="bold" fill="#111" text-anchor="start">750</text>
<text transform="translate(501.48,462.32) rotate(-90)" font-size="13" font-weight="bold" fill="#111" text-anchor="start">760</text>
<text transform="translate(523.1,462.6) rotate(-90)" font-size="13" font-weight="bold" fill="#111" text-anchor="start">780</text>
<text transform="translate(544.72,462.88) rotate(-90)" font-size="13" font-weight="bold" fill="#111" text-anchor="start">800</text>
<text transform="translate(566.34,463.16) rotate(-90)" font-size="13" font-weight="bold" fill="#111" text-anchor="start">840</text>
<text transform="translate(587.96,463.44) rotate(-90)" font-size="13" font-weight="bold" fill="#111" text-anchor="start">870</text>
<text transform="translate(609.58,463.72) rotate(-90)" font-size="13" font-weight="bold" fill="#111" text-anchor="start">905</text>
<text transform="translate(627.6,518.8) rotate(-90)" font-size="11.5" fill="#111" text-anchor="middle">100</text>
<text transform="translate(644.6,510.6) rotate(-90)" font-size="11.5" fill="#111" text-anchor="middle">200</text>
<text transform="translate(661.6,502.2) rotate(-90)" font-size="11.5" fill="#111" text-anchor="middle">300</text>
<text transform="translate(371.6,453.7) rotate(-90)" font-size="13.6" font-weight="bold" fill="#111" text-anchor="middle"><tspan font-weight="normal">Δ</tspan>F<tspan font-size="9" dy="3">s</tspan><tspan dy="-3"> ( %)</tspan></text>
<text x="508.5" y="545.4" font-size="13.2" font-weight="bold" fill="#111" text-anchor="middle" >Emission wavelength (nm)</text>
<text transform="translate(646,533.5) rotate(-29)" font-size="13.2" font-weight="bold" fill="#111" text-anchor="middle">Time (ms)</text>
</svg></body></html>
